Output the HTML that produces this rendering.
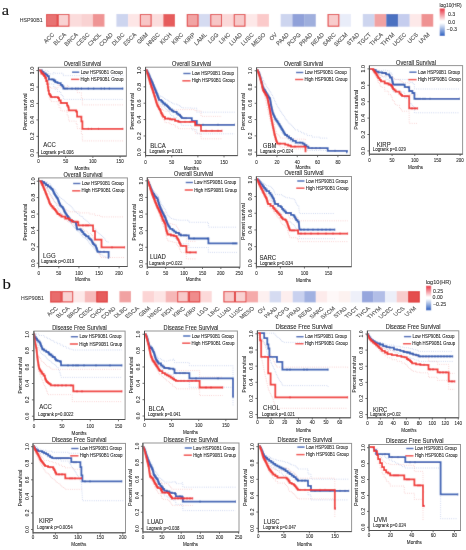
<!DOCTYPE html><html><head><meta charset="utf-8"><style>html,body{margin:0;padding:0;background:#fff;}svg{display:block;}</style></head><body>
<svg width="466" height="550" viewBox="0 0 466 550">
<defs><filter id="soft" x="0" y="0" width="466" height="550" filterUnits="userSpaceOnUse"><feConvolveMatrix order="3" kernelMatrix="0.02 0.065 0.02 0.065 0.66 0.065 0.02 0.065 0.02" divisor="1" edgeMode="duplicate" preserveAlpha="false"/></filter></defs>
<rect width="466" height="550" fill="#fff"/>
<g filter="url(#soft)">
<rect width="466" height="550" fill="#fff"/>
<rect x="46" y="14" width="11.78" height="12.7" fill="#e87272"/>
<rect x="57.73" y="14" width="11.78" height="12.7" fill="#f9d2d2"/>
<rect x="69.47" y="14" width="11.78" height="12.7" fill="#fbdcdc"/>
<rect x="81.2" y="14" width="11.78" height="12.7" fill="#f9d2d2"/>
<rect x="92.93" y="14" width="11.78" height="12.7" fill="#ef9494"/>
<rect x="104.67" y="14" width="11.78" height="12.7" fill="#ffffff"/>
<rect x="116.4" y="14" width="11.78" height="12.7" fill="#cdd5ef"/>
<rect x="128.13" y="14" width="11.78" height="12.7" fill="#fde6e6"/>
<rect x="139.87" y="14" width="11.78" height="12.7" fill="#f8c6c6"/>
<rect x="151.6" y="14" width="11.78" height="12.7" fill="#fbdddd"/>
<rect x="163.33" y="14" width="11.78" height="12.7" fill="#e65c5c"/>
<rect x="175.07" y="14" width="11.78" height="12.7" fill="#ffffff"/>
<rect x="186.8" y="14" width="11.78" height="12.7" fill="#f1a4a4"/>
<rect x="198.53" y="14" width="11.78" height="12.7" fill="#d5dbf1"/>
<rect x="210.27" y="14" width="11.78" height="12.7" fill="#f7c6c6"/>
<rect x="222" y="14" width="11.78" height="12.7" fill="#fbd9d9"/>
<rect x="233.73" y="14" width="11.78" height="12.7" fill="#f7caca"/>
<rect x="245.47" y="14" width="11.78" height="12.7" fill="#fde8e8"/>
<rect x="257.2" y="14" width="11.78" height="12.7" fill="#fbcaca"/>
<rect x="268.93" y="14" width="11.78" height="12.7" fill="#ffffff"/>
<rect x="280.67" y="14" width="11.78" height="12.7" fill="#cdd5ef"/>
<rect x="292.4" y="14" width="11.78" height="12.7" fill="#90a1d9"/>
<rect x="304.13" y="14" width="11.78" height="12.7" fill="#9fafdd"/>
<rect x="315.87" y="14" width="11.78" height="12.7" fill="#ffffff"/>
<rect x="327.6" y="14" width="11.78" height="12.7" fill="#f8cccc"/>
<rect x="339.33" y="14" width="11.78" height="12.7" fill="#e9edf9"/>
<rect x="351.07" y="14" width="11.78" height="12.7" fill="#ffffff"/>
<rect x="362.8" y="14" width="11.78" height="12.7" fill="#cdd5ef"/>
<rect x="374.53" y="14" width="11.78" height="12.7" fill="#f1a2a2"/>
<rect x="386.27" y="14" width="11.78" height="12.7" fill="#4b71c1"/>
<rect x="398" y="14" width="11.78" height="12.7" fill="#c5cdee"/>
<rect x="409.73" y="14" width="11.78" height="12.7" fill="#fde9e9"/>
<rect x="421.47" y="14" width="11.78" height="12.7" fill="#ef9292"/>
<rect x="46.5" y="14.5" width="10.73" height="11.7" fill="none" stroke="#e03a3a" stroke-width="1"/>
<rect x="58.23" y="14.5" width="10.73" height="11.7" fill="none" stroke="#e03a3a" stroke-width="1"/>
<rect x="140.37" y="14.5" width="10.73" height="11.7" fill="none" stroke="#e03a3a" stroke-width="1"/>
<rect x="187.3" y="14.5" width="10.73" height="11.7" fill="none" stroke="#e03a3a" stroke-width="1"/>
<rect x="210.77" y="14.5" width="10.73" height="11.7" fill="none" stroke="#e03a3a" stroke-width="1"/>
<rect x="234.23" y="14.5" width="10.73" height="11.7" fill="none" stroke="#e03a3a" stroke-width="1"/>
<rect x="328.1" y="14.5" width="10.73" height="11.7" fill="none" stroke="#e03a3a" stroke-width="1"/>
<defs><linearGradient id="cba" x1="0" y1="0" x2="0" y2="1">
<stop offset="0" stop-color="#e83040"/><stop offset="0.46" stop-color="#ffffff"/><stop offset="0.53" stop-color="#ffffff"/><stop offset="1" stop-color="#2a5fc0"/>
</linearGradient></defs>
<rect x="439.7" y="8.5" width="5.1" height="27.4" fill="url(#cba)"/>
<rect x="50.1" y="291.1" width="11.6" height="11.3" fill="#e86c6c"/>
<rect x="61.65" y="291.1" width="11.6" height="11.3" fill="#f9d2d2"/>
<rect x="73.21" y="291.1" width="11.6" height="11.3" fill="#fde9e9"/>
<rect x="84.76" y="291.1" width="11.6" height="11.3" fill="#f6baba"/>
<rect x="96.31" y="291.1" width="11.6" height="11.3" fill="#e65c5c"/>
<rect x="107.87" y="291.1" width="11.6" height="11.3" fill="#ffffff"/>
<rect x="119.42" y="291.1" width="11.6" height="11.3" fill="#f1a2a2"/>
<rect x="130.97" y="291.1" width="11.6" height="11.3" fill="#ffffff"/>
<rect x="142.53" y="291.1" width="11.6" height="11.3" fill="#fcd5d5"/>
<rect x="154.08" y="291.1" width="11.6" height="11.3" fill="#fde5e5"/>
<rect x="165.63" y="291.1" width="11.6" height="11.3" fill="#f6b7b7"/>
<rect x="177.18" y="291.1" width="11.6" height="11.3" fill="#f8caca"/>
<rect x="188.74" y="291.1" width="11.6" height="11.3" fill="#ef8c8c"/>
<rect x="200.29" y="291.1" width="11.6" height="11.3" fill="#fcd9d9"/>
<rect x="211.84" y="291.1" width="11.6" height="11.3" fill="#ffffff"/>
<rect x="223.4" y="291.1" width="11.6" height="11.3" fill="#f8cccc"/>
<rect x="234.95" y="291.1" width="11.6" height="11.3" fill="#f9d2d2"/>
<rect x="246.5" y="291.1" width="11.6" height="11.3" fill="#f5aaaa"/>
<rect x="258.06" y="291.1" width="11.6" height="11.3" fill="#fdf0f0"/>
<rect x="269.61" y="291.1" width="11.6" height="11.3" fill="#d5dbf1"/>
<rect x="281.16" y="291.1" width="11.6" height="11.3" fill="#fdeeee"/>
<rect x="292.72" y="291.1" width="11.6" height="11.3" fill="#c9d1ef"/>
<rect x="304.27" y="291.1" width="11.6" height="11.3" fill="#a1b1e1"/>
<rect x="315.82" y="291.1" width="11.6" height="11.3" fill="#fdebeb"/>
<rect x="327.38" y="291.1" width="11.6" height="11.3" fill="#fef8f8"/>
<rect x="338.93" y="291.1" width="11.6" height="11.3" fill="#fdf2f0"/>
<rect x="350.48" y="291.1" width="11.6" height="11.3" fill="#eef0f9"/>
<rect x="362.03" y="291.1" width="11.6" height="11.3" fill="#96a6dd"/>
<rect x="373.59" y="291.1" width="11.6" height="11.3" fill="#b2bee7"/>
<rect x="385.14" y="291.1" width="11.6" height="11.3" fill="#eceff9"/>
<rect x="396.69" y="291.1" width="11.6" height="11.3" fill="#f8cccc"/>
<rect x="408.25" y="291.1" width="11.6" height="11.3" fill="#e44e4e"/>
<rect x="50.6" y="291.6" width="10.55" height="10.3" fill="none" stroke="#e03a3a" stroke-width="1"/>
<rect x="62.15" y="291.6" width="10.55" height="10.3" fill="none" stroke="#e03a3a" stroke-width="1"/>
<rect x="96.81" y="291.6" width="10.55" height="10.3" fill="none" stroke="#e03a3a" stroke-width="1"/>
<rect x="177.68" y="291.6" width="10.55" height="10.3" fill="none" stroke="#e03a3a" stroke-width="1"/>
<rect x="189.24" y="291.6" width="10.55" height="10.3" fill="none" stroke="#e03a3a" stroke-width="1"/>
<rect x="223.9" y="291.6" width="10.55" height="10.3" fill="none" stroke="#e03a3a" stroke-width="1"/>
<rect x="235.45" y="291.6" width="10.55" height="10.3" fill="none" stroke="#e03a3a" stroke-width="1"/>
<rect x="408.75" y="291.6" width="10.55" height="10.3" fill="none" stroke="#e03a3a" stroke-width="1"/>
<defs><linearGradient id="cbb" x1="0" y1="0" x2="0" y2="1">
<stop offset="0" stop-color="#e83040"/><stop offset="0.46" stop-color="#ffffff"/><stop offset="0.53" stop-color="#ffffff"/><stop offset="1" stop-color="#2a5fc0"/>
</linearGradient></defs>
<rect x="426" y="285.8" width="5.2" height="24.5" fill="url(#cbb)"/>
<path d="M38.4 70.59H41.9V70.59H43.5V70.65H45.7V70.81H47.3V71.58H48.9V73.95H53.7V72.56H55.3V73.33H57.5V73.29H60.7V73.23H62.3V74H63.4V75.63H123.2V75.4" fill="none" stroke="#9cb0e2" stroke-width="0.7" stroke-dasharray="0.7 1.5"/>
<path d="M38.4 70.59H41.9V73.41H43.5V75.51H45.7V77.76H47.3V80.05H48.9V83.94H53.7V87.12H55.3V89.41H57.5V91.46H60.7V94.44H62.3V96.73H63.4V99.41H123.2V99.6" fill="none" stroke="#9cb0e2" stroke-width="0.7" stroke-dasharray="0.7 1.5"/>
<path d="M38.4 70.59H40.8V70.59H41.4V71.38H43V71.35H44V72.24H45.1V73.06H46.2V75.48H47.3V77.9H47.8V80.85H48.3V83.7H48.9V86.47H49.9V87.36H51V88.18H58V84.33H59.1V85.65H60.7V87.22H67.1V85.39H68.2V86.22H68.7V88.96H76.2V87.6H77.1V92.6H81.4V97.4H82.4V104.9H123.2V104.9" fill="none" stroke="#f3a6a6" stroke-width="0.7" stroke-dasharray="0.7 1.5"/>
<path d="M38.4 70.59H40.8V72.75H41.4V74.56H43V76.23H44V78.18H45.1V80.17H46.2V83.76H47.3V87.35H47.8V90.83H48.3V94.2H48.9V97.61H49.9V99.57H51V101.56H58V105.13H59.1V107.62H60.7V110.89H67.1V115.85H68.2V117.84H68.7V121.12H76.2V123.6H77.1V128.6H81.4V133.4H82.4V140.9H123.2V140.9" fill="none" stroke="#f3a6a6" stroke-width="0.7" stroke-dasharray="0.7 1.5"/>
<line x1="72.04" y1="72.2" x2="79.24" y2="72.2" stroke="#2f5cb4" stroke-width="1.4"/>
<line x1="71.04" y1="79.4" x2="79.24" y2="79.4" stroke="#f0302c" stroke-width="1.4"/>
<path d="M38.4 70.3H41.9V71.9H43.5V73.3H45.7V74.6H47.3V76.2H48.9V79.4H53.7V80.5H55.3V82.1H57.5V83.2H60.7V84.8H62.3V86.4H63.4V88.6H123.2V88.6" fill="none" stroke="#2f5cb4" stroke-width="1.8" stroke-linejoin="miter"/>
<path d="M52 78.35V80.45" stroke="#2450a8" stroke-width="0.9"/>
<path d="M53.7 79.45V81.55" stroke="#2450a8" stroke-width="0.9"/>
<path d="M55.3 81.05V83.15" stroke="#2450a8" stroke-width="0.9"/>
<path d="M65 87.55V89.65" stroke="#2450a8" stroke-width="0.9"/>
<path d="M67.1 87.55V89.65" stroke="#2450a8" stroke-width="0.9"/>
<path d="M72 87.55V89.65" stroke="#2450a8" stroke-width="0.9"/>
<path d="M75.7 87.55V89.65" stroke="#2450a8" stroke-width="0.9"/>
<path d="M78.1 87.55V89.65" stroke="#2450a8" stroke-width="0.9"/>
<path d="M81.4 87.55V89.65" stroke="#2450a8" stroke-width="0.9"/>
<path d="M88.3 87.55V89.65" stroke="#2450a8" stroke-width="0.9"/>
<path d="M93.7 87.55V89.65" stroke="#2450a8" stroke-width="0.9"/>
<path d="M101.2 87.55V89.65" stroke="#2450a8" stroke-width="0.9"/>
<path d="M104.4 87.55V89.65" stroke="#2450a8" stroke-width="0.9"/>
<path d="M109.3 87.55V89.65" stroke="#2450a8" stroke-width="0.9"/>
<path d="M122.7 87.55V89.65" stroke="#2450a8" stroke-width="0.9"/>
<path d="M38.4 70.3H40.8V71.9H41.4V73.5H43V74.6H44V76.2H45.1V77.8H46.2V81H47.3V84.2H47.8V87.5H48.3V90.7H48.9V93.9H49.9V95.5H51V97.1H58V98.2H59.1V100.3H60.7V103H67.1V105.7H68.2V107.3H68.7V110.4H76.2V111.6H77.1V116.6H81.4V121.4H82.4V128.9H123.2V128.9" fill="none" stroke="#f0302c" stroke-width="1.8" stroke-linejoin="miter"/>
<path d="M52 96.05V98.15" stroke="#e8182a" stroke-width="0.9"/>
<path d="M55 96.05V98.15" stroke="#e8182a" stroke-width="0.9"/>
<path d="M88.3 127.85V129.95" stroke="#e8182a" stroke-width="0.9"/>
<path d="M91.5 127.85V129.95" stroke="#e8182a" stroke-width="0.9"/>
<path d="M98.5 127.85V129.95" stroke="#e8182a" stroke-width="0.9"/>
<path d="M122.7 127.85V129.95" stroke="#e8182a" stroke-width="0.9"/>
<path d="M145.9 70.47H146.7V70.97H147.5V72.14H148.3V73.32H148.83V74.39H149.35V75.47H149.88V76.54H150.4V77.62H150.95V78.66H151.5V79.71H152.05V80.75H152.6V81.79H153.12V83H153.65V84.2H154.17V85.4H154.7V86.6H155.25V87.77H155.8V88.93H156.35V90.1H156.9V91.27H157.43V92.47H157.95V93.67H158.47V94.87H159V96.07H161.2V96.55H162.25V97.55H163.3V98.55H165V99.32H166.7V100.08H167.8V100.9H168.9V101.72H170V102.55H171.7V103.31H173.4V104.08H176.7V104.84H178.4V105.61H180.1V106.37H180.95V107.13H181.8V107.89H191.8V108.2H196.8V112.2H234.5V112.2" fill="none" stroke="#9cb0e2" stroke-width="0.7" stroke-dasharray="0.7 1.5"/>
<path d="M145.9 70.47H146.7V71.36H147.5V72.93H148.3V74.49H148.83V75.82H149.35V77.15H149.88V78.48H150.4V79.81H150.95V81.13H151.5V82.44H152.05V83.75H152.6V85.06H153.12V86.52H153.65V87.97H154.17V89.43H154.7V90.89H155.25V92.32H155.8V93.76H156.35V95.2H156.9V96.63H157.43V98.09H157.95V99.55H158.47V101H159V102.46H161.2V104.01H162.25V105.52H163.3V107.03H165V108.63H166.7V110.23H167.8V111.58H168.9V112.94H170V114.3H171.7V115.89H173.4V117.49H176.7V119.86H178.4V121.45H180.1V123.05H180.95V124.22H181.8V125.39H191.8V129.8H196.8V133.8H234.5V133.8" fill="none" stroke="#9cb0e2" stroke-width="0.7" stroke-dasharray="0.7 1.5"/>
<path d="M145.9 70.47H146.38V71H146.86V72.2H147.34V73.39H147.82V74.59H148.3V75.79H148.65V76.91H149V78.03H149.35V79.14H149.7V80.26H150.05V81.38H150.4V82.49H150.84V83.63H151.28V84.76H151.72V85.89H152.16V87.03H152.6V88.16H153.02V89.28H153.44V90.4H153.86V91.52H154.28V92.64H154.7V93.77H155.07V94.88H155.43V95.99H155.8V97.1H156.17V98.21H156.53V99.32H156.9V100.43H157.6V101.6H158.3V102.77H159V103.94H160V104.86H160.57V106.04H161.13V107.23H161.7V108.41H162.5V109.36H163.3V110.31H165V111.36H170V110.27H175.1V109.73H178.4V109.58H195.1V110.9H201V116.4H221.9V116.4" fill="none" stroke="#f3a6a6" stroke-width="0.7" stroke-dasharray="0.7 1.5"/>
<path d="M145.9 70.47H146.38V71.28H146.86V72.76H147.34V74.24H147.82V75.72H148.3V77.21H148.65V78.53H149V79.85H149.35V81.18H149.7V82.5H150.05V83.82H150.4V85.15H150.84V86.54H151.28V87.93H151.72V89.33H152.16V90.72H152.6V92.11H153.02V93.48H153.44V94.85H153.86V96.22H154.28V97.58H154.7V98.95H155.07V100.28H155.43V101.61H155.8V102.93H156.17V104.26H156.53V105.59H156.9V106.92H157.6V108.5H158.3V110.08H159V111.66H160V113.17H160.57V114.69H161.13V116.21H161.7V117.73H162.5V119.14H163.3V120.56H165V122.62H170V124.47H175.1V126.95H178.4V128.74H195.1V133.3H201V138.8H221.9V138.8" fill="none" stroke="#f3a6a6" stroke-width="0.7" stroke-dasharray="0.7 1.5"/>
<line x1="183.34" y1="73.5" x2="190.54" y2="73.5" stroke="#2f5cb4" stroke-width="1.4"/>
<line x1="182.34" y1="80.8" x2="190.54" y2="80.8" stroke="#f0302c" stroke-width="1.4"/>
<path d="M145.9 69.8H146.7V71.2H147.5V72.6H148.3V74H148.83V75.22H149.35V76.45H149.88V77.68H150.4V78.9H150.95V80.1H151.5V81.3H152.05V82.5H152.6V83.7H153.12V85.05H153.65V86.4H154.17V87.75H154.7V89.1H155.25V90.42H155.8V91.75H156.35V93.08H156.9V94.4H157.43V95.75H157.95V97.1H158.47V98.45H159V99.8H161.2V100.9H162.25V102.2H163.3V103.5H165V104.75H166.7V106H167.8V107.13H168.9V108.27H170V109.4H171.7V110.65H173.4V111.9H176.7V113.6H178.4V114.85H180.1V116.1H180.95V117.1H181.8V118.1H191.8V120.8H196.8V124.8H234.5V124.8" fill="none" stroke="#2f5cb4" stroke-width="1.8" stroke-linejoin="miter"/>
<path d="M168 106.08V108.18" stroke="#2450a8" stroke-width="0.9"/>
<path d="M172 109.6V111.7" stroke="#2450a8" stroke-width="0.9"/>
<path d="M176 110.85V112.95" stroke="#2450a8" stroke-width="0.9"/>
<path d="M180 113.8V115.9" stroke="#2450a8" stroke-width="0.9"/>
<path d="M184 117.05V119.15" stroke="#2450a8" stroke-width="0.9"/>
<path d="M186 117.05V119.15" stroke="#2450a8" stroke-width="0.9"/>
<path d="M199 123.75V125.85" stroke="#2450a8" stroke-width="0.9"/>
<path d="M203 123.75V125.85" stroke="#2450a8" stroke-width="0.9"/>
<path d="M218 123.75V125.85" stroke="#2450a8" stroke-width="0.9"/>
<path d="M234.5 123.75V125.85" stroke="#2450a8" stroke-width="0.9"/>
<path d="M145.9 69.8H146.38V71.18H146.86V72.56H147.34V73.94H147.82V75.32H148.3V76.7H148.65V77.95H149V79.2H149.35V80.45H149.7V81.7H150.05V82.95H150.4V84.2H150.84V85.5H151.28V86.8H151.72V88.1H152.16V89.4H152.6V90.7H153.02V91.98H153.44V93.26H153.86V94.54H154.28V95.82H154.7V97.1H155.07V98.35H155.43V99.6H155.8V100.85H156.17V102.1H156.53V103.35H156.9V104.6H157.6V106.03H158.3V107.47H159V108.9H160V110.2H160.57V111.6H161.13V113H161.7V114.4H162.5V115.65H163.3V116.9H165V118.6H170V119.4H175.1V120.8H178.4V121.9H195.1V125.3H201V130.8H221.9V130.8" fill="none" stroke="#f0302c" stroke-width="1.8" stroke-linejoin="miter"/>
<path d="M165 117.55V119.65" stroke="#e8182a" stroke-width="0.9"/>
<path d="M168 117.55V119.65" stroke="#e8182a" stroke-width="0.9"/>
<path d="M172 118.35V120.45" stroke="#e8182a" stroke-width="0.9"/>
<path d="M180 120.85V122.95" stroke="#e8182a" stroke-width="0.9"/>
<path d="M185 120.85V122.95" stroke="#e8182a" stroke-width="0.9"/>
<path d="M190 120.85V122.95" stroke="#e8182a" stroke-width="0.9"/>
<path d="M206 129.75V131.85" stroke="#e8182a" stroke-width="0.9"/>
<path d="M212 129.75V131.85" stroke="#e8182a" stroke-width="0.9"/>
<path d="M218 129.75V131.85" stroke="#e8182a" stroke-width="0.9"/>
<path d="M221.9 129.75V131.85" stroke="#e8182a" stroke-width="0.9"/>
<path d="M258.1 70.1H258.71V71.34H259.32V72.58H259.93V73.82H260.54V75.06H261.15V76.3H261.76V77.54H262.37V78.78H262.98V80.02H263.59V81.26H264.2V82.5H264.97V83.79H265.75V85.08H266.52V86.36H267.3V87.65H268.07V88.94H268.85V90.22H269.62V91.51H270.4V92.8H271.09V94.17H271.78V95.53H272.47V96.9H273.16V98.27H273.84V99.63H274.53V101H275.22V102.37H275.91V103.73H276.6V105.1H277.38V106.39H278.15V107.67H278.93V108.96H279.7V110.25H280.48V111.54H281.25V112.83H282.03V114.11H282.8V115.4H283.83V116.78H284.87V118.17H285.9V119.55H286.93V120.93H287.97V122.32H289V123.7H290.22V124.94H291.44V126.18H292.66V127.42H293.88V128.66H295.1V129.9H297.87V131.27H300.63V132.63H303.4V134H307.5V135.55H311.6V137.1H319.35V138.1H327.1V139.1" fill="none" stroke="#9cb0e2" stroke-width="0.7" stroke-dasharray="0.7 1.5"/>
<path d="M258.1 70.1H258.48V71.39H258.86V72.67H259.24V73.96H259.62V75.25H260.01V76.54H260.39V77.83H260.77V79.11H261.15V80.4H261.53V81.69H261.91V82.97H262.29V84.26H262.68V85.55H263.06V86.84H263.44V88.12H263.82V89.41H264.2V90.7H264.64V92.03H265.09V93.36H265.53V94.69H265.97V96.01H266.41V97.34H266.86V98.67H267.3V100H267.74V101.33H268.19V102.66H268.63V103.99H269.07V105.31H269.51V106.64H269.96V107.97H270.4V109.3H270.96V110.61H271.53V111.92H272.09V113.23H272.65V114.54H273.22V115.85H273.78V117.15H274.35V118.46H274.91V119.77H275.47V121.08H276.04V122.39H276.6V123.7H277.38V124.99H278.15V126.28H278.93V127.56H279.7V128.85H280.48V130.14H281.25V131.43H282.03V132.71H282.8V134H284.17V135.37H285.53V136.73H286.9V138.1H288.27V139.47H289.63V140.83H291V142.2H294.1V143.5H297.2V144.8H300.3V146.1H303.4V147.4H305.45V148.95H307.5V150.5H346.6V150.5" fill="none" stroke="#9cb0e2" stroke-width="0.7" stroke-dasharray="0.7 1.5"/>
<path d="M258.1 70.1H258.57V71.37H259.04V72.64H259.51V73.91H259.98V75.18H260.45V76.45H260.92V77.72H261.38V78.98H261.85V80.25H262.32V81.52H262.79V82.79H263.26V84.06H263.73V85.33H264.2V86.6H264.58V87.91H264.96V89.22H265.35V90.53H265.73V91.84H266.11V93.15H266.49V94.45H266.87V95.76H267.25V97.07H267.64V98.38H268.02V99.69H268.4V101H268.72V102.27H269.03V103.54H269.35V104.81H269.66V106.08H269.98V107.35H270.29V108.62H270.61V109.88H270.92V111.15H271.24V112.42H271.55V113.69H271.87V114.96H272.18V116.23H272.5V117.5H272.82V118.77H273.13V120.04H273.45V121.31H273.76V122.58H274.08V123.85H274.39V125.12H274.71V126.38H275.02V127.65H275.34V128.92H275.65V130.19H275.97V131.46H276.28V132.73H276.6V134H277.97V135.37H279.33V136.73H280.7V138.1H293.05V139.15H305.4V140.2" fill="none" stroke="#f3a6a6" stroke-width="0.7" stroke-dasharray="0.7 1.5"/>
<path d="M258.1 70.1H258.42V71.4H258.74V72.7H259.06V74H259.38V75.3H259.71V76.6H260.03V77.9H260.35V79.2H260.67V80.5H260.99V81.8H261.31V83.1H261.63V84.4H261.95V85.7H262.27V87H262.59V88.3H262.92V89.6H263.24V90.9H263.56V92.2H263.88V93.5H264.2V94.8H264.5V96.13H264.8V97.46H265.1V98.79H265.4V100.11H265.7V101.44H266V102.77H266.3V104.1H266.6V105.43H266.9V106.76H267.2V108.09H267.5V109.41H267.8V110.74H268.1V112.07H268.4V113.4H268.72V114.67H269.03V115.94H269.35V117.21H269.66V118.48H269.98V119.75H270.29V121.02H270.61V122.28H270.92V123.55H271.24V124.82H271.55V126.09H271.87V127.36H272.18V128.63H272.5V129.9H272.84V131.27H273.19V132.63H273.53V134H273.88V135.37H274.22V136.73H274.57V138.1H274.91V139.47H275.26V140.83H275.6V142.2H276.88V143.5H278.15V144.8H279.43V146.1H280.7V147.4H293.05V148.95H305.4V150.5" fill="none" stroke="#f3a6a6" stroke-width="0.7" stroke-dasharray="0.7 1.5"/>
<line x1="296.04" y1="72.5" x2="303.24" y2="72.5" stroke="#2f5cb4" stroke-width="1.4"/>
<line x1="295.04" y1="79.5" x2="303.24" y2="79.5" stroke="#f0302c" stroke-width="1.4"/>
<path d="M256.9 69.8H257.5V71H258.1V72.2H258.7V73.4H259.3V74.6H259.65V75.85H260V77.1H260.35V78.35H260.7V79.6H261.05V80.85H261.4V82.1H261.72V83.38H262.04V84.66H262.36V85.94H262.68V87.22H263V88.5H263.85V89.6H264.7V90.7H265.4V91.93H266.1V93.17H266.8V94.4H267.6V95.75H268.4V97.1H269.2V98.2H270V99.3H270.24V100.7H270.48V102.1H270.72V103.5H270.96V104.9H271.2V106.3H271.47V107.5H271.73V108.7H272V109.9H272.27V111.1H272.53V112.3H272.8V113.5H273.34V114.7H273.88V115.9H274.42V117.1H274.96V118.3H275.5V119.5H276.48V120.95H277.45V122.4H278.42V123.85H279.4V125.3H280.12V126.5H280.85V127.7H281.57V128.9H282.3V130.1H283.02V131.32H283.75V132.55H284.48V133.78H285.2V135H287.1V136.45H289V137.9H290.95V139.35H292.9V140.8H295.8V142.7H302.6V143.7H304.5V145.15H306.4V146.6H308.4V148.1H327.7V150.8H347V152.3H347.3V152.3" fill="none" stroke="#2f5cb4" stroke-width="1.8" stroke-linejoin="miter"/>
<path d="M300 141.65V143.75" stroke="#2450a8" stroke-width="0.9"/>
<path d="M312 147.05V149.15" stroke="#2450a8" stroke-width="0.9"/>
<path d="M316 147.05V149.15" stroke="#2450a8" stroke-width="0.9"/>
<path d="M320 147.05V149.15" stroke="#2450a8" stroke-width="0.9"/>
<path d="M335 149.75V151.85" stroke="#2450a8" stroke-width="0.9"/>
<path d="M256.9 69.8H257.38V70.98H257.86V72.16H258.34V73.34H258.82V74.52H259.3V75.7H259.65V76.95H260V78.2H260.35V79.45H260.7V80.7H261.05V81.95H261.4V83.2H261.67V84.45H261.93V85.7H262.2V86.95H262.47V88.2H262.73V89.45H263V90.7H263.9V92.13H264.8V93.57H265.7V95H266.5V96.6H267.3V98.2H267.57V99.55H267.85V100.9H268.12V102.25H268.4V103.6H268.67V104.92H268.95V106.25H269.23V107.58H269.5V108.9H269.74V110.26H269.98V111.62H270.22V112.98H270.46V114.34H270.7V115.7H270.97V117.07H271.24V118.44H271.51V119.81H271.79V121.19H272.06V122.56H272.33V123.93H272.6V125.3H272.89V126.69H273.17V128.07H273.46V129.46H273.74V130.84H274.03V132.23H274.31V133.61H274.6V135H274.98V136.34H275.36V137.68H275.74V139.02H276.12V140.36H276.5V141.7H276.95V142.7H277.4V143.7H285.2V144.6H288.1V145.6H291V146.6H305.5V147.5H305.5V152.3" fill="none" stroke="#f0302c" stroke-width="1.8" stroke-linejoin="miter"/>
<path d="M280 142.65V144.75" stroke="#e8182a" stroke-width="0.9"/>
<path d="M290 144.55V146.65" stroke="#e8182a" stroke-width="0.9"/>
<path d="M295 145.55V147.65" stroke="#e8182a" stroke-width="0.9"/>
<path d="M369.5 68.9H373.2V68.99H375.7V70.35H378.3V70.48H382.2V70.23H386V70.7H389.2V71.31H389.9V73.05H391.8V74.54H392.12V75.77H392.45V77H392.78V78.23H393.1V79.45H404.7V79.53H409.2V82.34H411.1V81.93H412.4V83.65H414.4V89.01H459.4V89" fill="none" stroke="#9cb0e2" stroke-width="0.7" stroke-dasharray="0.7 1.5"/>
<path d="M369.5 68.9H373.2V70.95H375.7V73.63H378.3V75.14H382.2V76.96H386V79.44H389.2V81.74H389.9V83.85H391.8V86.35H392.12V87.75H392.45V89.15H392.78V90.55H393.1V91.95H404.7V98.16H409.2V103.36H411.1V103.96H412.4V106.36H414.4V112.78H459.4V112.8" fill="none" stroke="#9cb0e2" stroke-width="0.7" stroke-dasharray="0.7 1.5"/>
<path d="M369.5 68.9H373.2V68.88H374.03V69.38H374.87V70.09H375.7V70.8H376.57V71.89H377.43V72.99H378.3V74.08H379.6V75.08H380.9V76.07H384.7V76.19H388.6V75.67H391.2V75.75H392.15V76.9H393.1V78.06H394.4V78.75H395.7V79.44H399.5V80.1H400.8V81.4H402.1V82.7H409.2V94.9H417.6V94.9" fill="none" stroke="#f3a6a6" stroke-width="0.7" stroke-dasharray="0.7 1.5"/>
<path d="M369.5 68.9H373.2V72.32H374.03V73.86H374.87V75.39H375.7V76.92H376.57V78.87H377.43V80.82H378.3V82.77H379.6V85.05H380.9V87.33H384.7V91.2H388.6V94.53H391.2V97.18H392.15V99.27H393.1V101.37H394.4V103.34H395.7V105.32H399.5V108.6H400.8V109.9H402.1V111.2H409.2V123.4H417.6V123.4" fill="none" stroke="#f3a6a6" stroke-width="0.7" stroke-dasharray="0.7 1.5"/>
<line x1="409.34" y1="72.2" x2="416.54" y2="72.2" stroke="#2f5cb4" stroke-width="1.4"/>
<line x1="408.34" y1="79.6" x2="416.54" y2="79.6" stroke="#f0302c" stroke-width="1.4"/>
<path d="M369.5 68.9H373.2V69.8H375.7V71.7H378.3V72.4H382.2V73H386V74.3H389.2V75.6H389.9V77.5H391.8V79.4H392.12V80.7H392.45V82H392.78V83.3H393.1V84.6H404.7V87.2H409.2V91H411.1V91H412.4V93H414.4V98.8H459.4V98.8" fill="none" stroke="#2f5cb4" stroke-width="1.8" stroke-linejoin="miter"/>
<path d="M383 71.95V74.05" stroke="#2450a8" stroke-width="0.9"/>
<path d="M385 71.95V74.05" stroke="#2450a8" stroke-width="0.9"/>
<path d="M395 83.55V85.65" stroke="#2450a8" stroke-width="0.9"/>
<path d="M397 83.55V85.65" stroke="#2450a8" stroke-width="0.9"/>
<path d="M399 83.55V85.65" stroke="#2450a8" stroke-width="0.9"/>
<path d="M401 83.55V85.65" stroke="#2450a8" stroke-width="0.9"/>
<path d="M403 83.55V85.65" stroke="#2450a8" stroke-width="0.9"/>
<path d="M408 86.15V88.25" stroke="#2450a8" stroke-width="0.9"/>
<path d="M416 97.75V99.85" stroke="#2450a8" stroke-width="0.9"/>
<path d="M418 97.75V99.85" stroke="#2450a8" stroke-width="0.9"/>
<path d="M420 97.75V99.85" stroke="#2450a8" stroke-width="0.9"/>
<path d="M423 97.75V99.85" stroke="#2450a8" stroke-width="0.9"/>
<path d="M425 97.75V99.85" stroke="#2450a8" stroke-width="0.9"/>
<path d="M430 97.75V99.85" stroke="#2450a8" stroke-width="0.9"/>
<path d="M459.4 97.75V99.85" stroke="#2450a8" stroke-width="0.9"/>
<path d="M369.5 68.9H373.2V70.4H374.03V71.5H374.87V72.6H375.7V73.7H376.57V75.2H377.43V76.7H378.3V78.2H379.6V79.8H380.9V81.4H384.7V83.3H388.6V84.6H391.2V85.9H392.15V87.5H393.1V89.1H394.4V90.4H395.7V91.7H399.5V93.6H400.8V94.9H402.1V96.2H409.2V108.4H417.6V108.4" fill="none" stroke="#f0302c" stroke-width="1.8" stroke-linejoin="miter"/>
<path d="M387 82.25V84.35" stroke="#e8182a" stroke-width="0.9"/>
<path d="M390 83.55V85.65" stroke="#e8182a" stroke-width="0.9"/>
<path d="M405 95.15V97.25" stroke="#e8182a" stroke-width="0.9"/>
<path d="M407 95.15V97.25" stroke="#e8182a" stroke-width="0.9"/>
<path d="M412 107.35V109.45" stroke="#e8182a" stroke-width="0.9"/>
<path d="M415 107.35V109.45" stroke="#e8182a" stroke-width="0.9"/>
<path d="M417.6 107.35V109.45" stroke="#e8182a" stroke-width="0.9"/>
<path d="M38.9 181.2H45V182H47.5V183.5H50V185H51.25V186.25H52.5V187.5H53.75V188.75H55V190H55.83V191.32H56.67V192.63H57.5V193.95H58.33V195.27H59.17V196.58H60V197.9H61.47V199.12H62.93V200.33H64.4V201.55H65.87V202.77H67.33V203.98H68.8V205.2H70.04V206.46H71.29V207.71H72.53V208.97H73.77V210.23H75.01V211.49H76.26V212.74H77.5V214H79.33V215.45H81.15V216.9H82.97V218.35H84.8V219.8H86.02V221.02H87.23V222.23H88.45V223.45H89.67V224.67H90.88V225.88H92.1V227.1H93.55V228.55H95V230H96.45V231.45H97.9V232.9H99.08V234.08H100.26V235.26H101.44V236.44H102.62V237.62H103.8V238.8H105.27V240.27H106.73V241.73H108.2V243.2" fill="none" stroke="#9cb0e2" stroke-width="0.7" stroke-dasharray="0.7 1.5"/>
<path d="M38.9 181.2H40.95V182.6H43V184H44V185.2H45V186.4H46V187.6H47V188.8H48V190H48.8V191.4H49.6V192.8H50.4V194.2H51.2V195.6H52V197H52.67V198.33H53.33V199.67H54V201H54.67V202.33H55.33V203.67H56V205H56.67V206.25H57.33V207.5H58V208.75H58.67V210H59.33V211.25H60V212.5H61.26V213.76H62.51V215.01H63.77V216.27H65.03V217.53H66.29V218.79H67.54V220.04H68.8V221.3H69.89V222.58H70.97V223.85H72.06V225.12H73.15V226.4H74.24V227.68H75.33V228.95H76.41V230.22H77.5V231.5H78.8V232.8H80.1V234.1H81.4V235.4H82.7V236.7H84V238H85.3V239.3H86.6V240.6H87.9V241.9H89.2V243.2H90.29V244.47H91.38V245.75H92.46V247.03H93.55V248.3H94.64V249.57H95.73V250.85H96.81V252.12H97.9V253.4H100.48V254.85H103.05V256.3H105.62V257.75H108.2V259.2" fill="none" stroke="#9cb0e2" stroke-width="0.7" stroke-dasharray="0.7 1.5"/>
<path d="M38.9 181.2H40.42V182.4H41.95V183.6H43.48V184.8H45V186H45.71V187.29H46.43V188.57H47.14V189.86H47.86V191.14H48.57V192.43H49.29V193.71H50V195H50.83V196.33H51.67V197.67H52.5V199H53.33V200.33H54.17V201.67H55V203H56.67V204.33H58.33V205.67H60V207H62.2V208.2H64.4V209.4H66.6V210.6H68.8V211.8H79V212.9H89.2V214H95.05V215.45H100.9V216.9H124.2V216.9" fill="none" stroke="#f3a6a6" stroke-width="0.7" stroke-dasharray="0.7 1.5"/>
<path d="M38.9 181.2H39.67V182.4H40.45V183.6H41.23V184.8H42V186H42.5V187.25H43V188.5H43.5V189.75H44V191H44.5V192.25H45V193.5H45.5V194.75H46V196H46.57V197.29H47.14V198.57H47.71V199.86H48.29V201.14H48.86V202.43H49.43V203.71H50V205H51V206.4H52V207.8H53V209.2H54V210.6H55V212H56.25V213.25H57.5V214.5H58.75V215.75H60V217H62.2V218.43H64.4V219.85H66.6V221.27H68.8V222.7H71.6V224.02H74.4V225.35H77.2V226.68H80V228H82.08V229.33H84.17V230.67H86.25V232H88.33V233.33H90.42V234.67H92.5V236H92.86V237.29H93.21V238.57H93.57V239.86H93.93V241.14H94.29V242.43H94.64V243.71H95V245H95.59V246.25H96.18V247.5H96.77V248.75H97.36V250H97.95V251.25H98.54V252.5H99.13V253.75H99.72V255H100.31V256.25H100.9V257.5H124.2V257.5" fill="none" stroke="#f3a6a6" stroke-width="0.7" stroke-dasharray="0.7 1.5"/>
<line x1="73.14" y1="183.5" x2="80.34" y2="183.5" stroke="#2f5cb4" stroke-width="1.4"/>
<line x1="72.14" y1="190.8" x2="80.34" y2="190.8" stroke="#f0302c" stroke-width="1.4"/>
<path d="M38.9 181.2H42.1V181.8H44.05V183.4H46V185H47.95V186.3H49.9V187.6H51.15V188.9H52.4V190.2H53.05V191.47H53.7V192.75H54.35V194.03H55V195.3H55.87V196.6H56.73V197.9H57.6V199.2H58.12V200.48H58.64V201.76H59.16V203.04H59.68V204.32H60.2V205.6H61.45V206.9H62.7V208.2H63.35V209.47H64V210.75H64.65V212.03H65.3V213.3H66.17V214.6H67.03V215.9H67.9V217.2H68.8V218.43H69.7V219.67H70.6V220.9H73.15V221.9H75.7V222.9H75.96V224.18H76.22V225.46H76.48V226.74H76.74V228.02H77V229.3H80.9V230.6H82.15V232.2H83.4V233.8H84.7V235.1H86V236.4H88.6V238.3H89.9V239.3H91.2V240.3H91.83V241.57H92.47V242.83H93.1V244.1H94.4V245.4H95.7V246.7H96.17V247.97H96.65V249.25H97.12V250.53H97.6V251.8H106.6V251.8H108.6V257.6H108.9V257.6" fill="none" stroke="#2f5cb4" stroke-width="1.8" stroke-linejoin="miter"/>
<path d="M48 185.25V187.35" stroke="#2450a8" stroke-width="0.9"/>
<path d="M60 203.27V205.37" stroke="#2450a8" stroke-width="0.9"/>
<path d="M70 218.62V220.72" stroke="#2450a8" stroke-width="0.9"/>
<path d="M74 220.85V222.95" stroke="#2450a8" stroke-width="0.9"/>
<path d="M80 228.25V230.35" stroke="#2450a8" stroke-width="0.9"/>
<path d="M88 235.35V237.45" stroke="#2450a8" stroke-width="0.9"/>
<path d="M100 250.75V252.85" stroke="#2450a8" stroke-width="0.9"/>
<path d="M104 250.75V252.85" stroke="#2450a8" stroke-width="0.9"/>
<path d="M108.6 256.55V258.65" stroke="#2450a8" stroke-width="0.9"/>
<path d="M38.9 181.2H40.9V182.4H41.52V183.7H42.15V185H42.77V186.3H43.4V187.6H43.92V188.88H44.44V190.16H44.96V191.44H45.48V192.72H46V194H46.52V195.3H47.04V196.6H47.56V197.9H48.08V199.2H48.6V200.5H49.03V201.77H49.47V203.03H49.9V204.3H51.15V205.9H52.4V207.5H53.7V208.8H55V210.1H55.87V211.4H56.73V212.7H57.6V214H59.55V215.3H61.5V216.6H65.3V218.5H69.2V219.8H71.9V221.6H77.7V222.2H78.3V225.4H92.5V225.4H93.1V231.2H95V239.6H100.8V239.6H101.5V247.3H124.6V247.3" fill="none" stroke="#f0302c" stroke-width="1.8" stroke-linejoin="miter"/>
<path d="M83 224.35V226.45" stroke="#e8182a" stroke-width="0.9"/>
<path d="M86 224.35V226.45" stroke="#e8182a" stroke-width="0.9"/>
<path d="M88 224.35V226.45" stroke="#e8182a" stroke-width="0.9"/>
<path d="M112 246.25V248.35" stroke="#e8182a" stroke-width="0.9"/>
<path d="M124.6 246.25V248.35" stroke="#e8182a" stroke-width="0.9"/>
<path d="M147.3 180.82H147.95V181.66H148.6V182.81H149.25V183.97H149.9V185.13H150.4V186.18H150.9V187.23H151.4V188.29H151.9V189.34H152.4V190.4H153.27V191.31H154.13V192.21H155V193.12H156.3V194.14H157.6V195.15H158.03V196.45H158.47V197.76H158.9V199.06H159.38V200.15H159.85V201.23H160.33V202.32H160.8V203.4H161.43V204.39H162.07V205.37H162.7V206.35H163.35V207.35H164V208.36H164.65V209.37H165.3V210.37H165.76V211.41H166.22V212.44H166.68V213.47H167.14V214.5H167.6V215.53H168.43V216.52H169.27V217.52H170.1V218.51H172.5V219.02H174.15V219.48H175.8V219.93H179V220.19H180.7V220.22H188.8V222.3H208.4V227.2H237V227.2" fill="none" stroke="#9cb0e2" stroke-width="0.7" stroke-dasharray="0.7 1.5"/>
<path d="M147.3 180.82H147.95V182.11H148.6V183.73H149.25V185.34H149.9V186.95H150.4V188.36H150.9V189.76H151.4V191.17H151.9V192.57H152.4V193.98H153.27V195.5H154.13V197.01H155V198.53H156.3V200.46H157.6V202.38H158.03V203.99H158.47V205.6H158.9V207.21H159.38V208.63H159.85V210.05H160.33V211.47H160.8V212.89H161.43V214.31H162.07V215.74H162.7V217.16H163.35V218.63H164V220.09H164.65V221.55H165.3V223.02H165.76V224.37H166.22V225.73H166.68V227.08H167.14V228.44H167.6V229.79H168.43V231.37H169.27V232.94H170.1V234.52H172.5V236.72H174.15V238.33H175.8V239.95H179V242.45H180.7V243.68H188.8V247.5H208.4V252.4H237V252.4" fill="none" stroke="#9cb0e2" stroke-width="0.7" stroke-dasharray="0.7 1.5"/>
<path d="M147.3 180.82H147.82V181.63H148.34V182.75H148.86V183.88H149.38V185H149.9V186.13H150.32V187.18H150.73V188.23H151.15V189.28H151.57V190.32H151.98V191.37H152.4V192.42H152.92V193.43H153.44V194.43H153.96V195.44H154.48V196.44H155V197.45H155.52V198.44H156.04V199.42H156.56V200.41H157.08V201.4H157.6V202.38H158.25V203.29H158.9V204.2H159.55V205.1H160.2V206.01H160.7V207.03H161.2V208.05H161.7V209.07H162.2V210.08H162.7V211.1H163.35V212.01H164V212.92H164.65V213.82H165.3V214.73H165.48V215.81H165.65V216.88H165.82V217.96H166V219.04H166.4V220.03H166.8V221.03H167.2V222.22H167.6V223.45H170.9V224.25H174.2V225.05H176.6V226.65H177.4V227.9H178.2V229.15H178.82V230.57H179.45V232H180.07V233.42H180.7V234.85H185.6V234.85H186.4V241.35H196.2V241.35" fill="none" stroke="#f3a6a6" stroke-width="0.7" stroke-dasharray="0.7 1.5"/>
<path d="M147.3 180.82H147.82V182.09H148.34V183.69H148.86V185.28H149.38V186.87H149.9V188.46H150.32V189.89H150.73V191.31H151.15V192.73H151.57V194.15H151.98V195.57H152.4V196.99H152.92V198.47H153.44V199.94H153.96V201.41H154.48V202.89H155V204.36H155.52V205.81H156.04V207.26H156.56V208.72H157.08V210.17H157.6V211.62H158.25V213.11H158.9V214.6H159.55V216.1H160.2V217.59H160.7V219.05H161.2V220.52H161.7V221.99H162.2V223.45H162.7V224.92H163.35V226.41H164V227.9H164.65V229.39H165.3V230.88H165.48V232.11H165.65V233.35H165.82V234.58H166V235.81H166.4V237.17H166.8V238.53H167.2V239.78H167.6V241H170.9V241.8H174.2V242.6H176.6V244.2H177.4V245.45H178.2V246.7H178.82V248.12H179.45V249.55H180.07V250.97H180.7V252.4H185.6V252.4H186.4V258.9H196.2V258.9" fill="none" stroke="#f3a6a6" stroke-width="0.7" stroke-dasharray="0.7 1.5"/>
<line x1="185.74" y1="182.5" x2="192.94" y2="182.5" stroke="#2f5cb4" stroke-width="1.4"/>
<line x1="184.74" y1="190" x2="192.94" y2="190" stroke="#f0302c" stroke-width="1.4"/>
<path d="M147.3 180.5H147.95V181.95H148.6V183.4H149.25V184.85H149.9V186.3H150.4V187.58H150.9V188.86H151.4V190.14H151.9V191.42H152.4V192.7H153.27V194H154.13V195.3H155V196.6H156.3V198.2H157.6V199.8H158.03V201.3H158.47V202.8H158.9V204.3H159.38V205.6H159.85V206.9H160.33V208.2H160.8V209.5H161.43V210.77H162.07V212.03H162.7V213.3H163.35V214.6H164V215.9H164.65V217.2H165.3V218.5H165.76V219.74H166.22V220.98H166.68V222.22H167.14V223.46H167.6V224.7H168.43V226.07H169.27V227.43H170.1V228.8H172.5V230.4H174.15V231.6H175.8V232.8H179V234.5H180.7V235.3H188.8V238.5H208.4V243.4H237V243.4" fill="none" stroke="#2f5cb4" stroke-width="1.8" stroke-linejoin="miter"/>
<path d="M176 231.75V233.85" stroke="#2450a8" stroke-width="0.9"/>
<path d="M178 231.75V233.85" stroke="#2450a8" stroke-width="0.9"/>
<path d="M181 234.25V236.35" stroke="#2450a8" stroke-width="0.9"/>
<path d="M184 234.25V236.35" stroke="#2450a8" stroke-width="0.9"/>
<path d="M186 234.25V236.35" stroke="#2450a8" stroke-width="0.9"/>
<path d="M194 237.45V239.55" stroke="#2450a8" stroke-width="0.9"/>
<path d="M208 237.45V239.55" stroke="#2450a8" stroke-width="0.9"/>
<path d="M233 242.35V244.45" stroke="#2450a8" stroke-width="0.9"/>
<path d="M235 242.35V244.45" stroke="#2450a8" stroke-width="0.9"/>
<path d="M237 242.35V244.45" stroke="#2450a8" stroke-width="0.9"/>
<path d="M147.3 180.5H147.82V181.92H148.34V183.34H148.86V184.76H149.38V186.18H149.9V187.6H150.32V188.88H150.73V190.17H151.15V191.45H151.57V192.73H151.98V194.02H152.4V195.3H152.92V196.6H153.44V197.9H153.96V199.2H154.48V200.5H155V201.8H155.52V203.08H156.04V204.36H156.56V205.64H157.08V206.92H157.6V208.2H158.25V209.47H158.9V210.75H159.55V212.03H160.2V213.3H160.7V214.6H161.2V215.9H161.7V217.2H162.2V218.5H162.7V219.8H163.35V221.08H164V222.35H164.65V223.62H165.3V224.9H165.48V226.07H165.65V227.25H165.82V228.43H166V229.6H166.4V230.82H166.8V232.05H167.2V233.28H167.6V234.5H170.9V235.3H174.2V236.1H176.6V237.7H177.4V238.95H178.2V240.2H178.82V241.62H179.45V243.05H180.07V244.47H180.7V245.9H185.6V245.9H186.4V252.4H196.2V252.4" fill="none" stroke="#f0302c" stroke-width="1.8" stroke-linejoin="miter"/>
<path d="M171 234.25V236.35" stroke="#e8182a" stroke-width="0.9"/>
<path d="M173 234.25V236.35" stroke="#e8182a" stroke-width="0.9"/>
<path d="M176 235.05V237.15" stroke="#e8182a" stroke-width="0.9"/>
<path d="M183 244.85V246.95" stroke="#e8182a" stroke-width="0.9"/>
<path d="M190 251.35V253.45" stroke="#e8182a" stroke-width="0.9"/>
<path d="M196.2 251.35V253.45" stroke="#e8182a" stroke-width="0.9"/>
<path d="M256.5 179.84H257.7V179.84H258.9V180.16H259.73V180.83H260.57V181.5H261.4V182.17H262.7V183.09H264V184.02H265.3V184.95H266.6V185.88H269.2V186.43H270.45V187.38H271.7V188.34H272.37V189.09H273.03V189.85H273.7V190.6H274.13V191.88H274.57V193.16H275V194.43H278.2V194.68H280.7V194.68H282V195.61H283.3V196.54H284.6V197.17H285.9V197.79H291V198.7H293.6V199.4H294.47V200.9H295.33V202.4H296.2V203.9H297.5V205.5H298.8V207.1H298.92V208.38H299.04V209.66H299.16V210.94H299.28V212.22H299.4V213.5H334.8V213.5" fill="none" stroke="#9cb0e2" stroke-width="0.7" stroke-dasharray="0.7 1.5"/>
<path d="M256.5 179.84H257.7V180.49H258.9V182.09H259.73V183.43H260.57V184.77H261.4V186.11H262.7V188.08H264V190.06H265.3V192.03H266.6V194H269.2V196.65H270.45V198.61H271.7V200.57H272.37V201.86H273.03V203.15H273.7V204.44H274.13V206.07H274.57V207.69H275V209.32H278.2V212.14H280.7V214.15H282V216.13H283.3V218.1H284.6V219.77H285.9V221.45H291V223.9H293.6V224.6H294.47V226.1H295.33V227.6H296.2V229.1H297.5V230.7H298.8V232.3H298.92V233.58H299.04V234.86H299.16V236.14H299.28V237.42H299.4V238.7H334.8V238.7" fill="none" stroke="#9cb0e2" stroke-width="0.7" stroke-dasharray="0.7 1.5"/>
<path d="M256.5 179.84H257.1V179.96H257.7V181.03H258.3V182.09H258.9V183.16H259.52V184.24H260.15V185.32H260.77V186.4H261.4V187.48H262.05V188.53H262.7V189.57H263.35V190.62H264V191.67H264.65V192.74H265.3V193.81H265.95V194.88H266.6V195.95H267.03V197.3H267.47V198.65H267.9V200H270.5V200.98H273V202H274.3V203.15H275.6V204.29H276.9V205.13H278.2V205.98H279.45V207.14H280.7V208.3H281.7V209.25H282.7V210.2H285.3V209.98H286.25V211.25H287.2V212.52H287.63V213.63H288.07V214.75H288.5V215.86H288.93V216.81H289.37V217.76H289.8V218.7H296.8V217.6H298.1V220.8H347.6V220.8" fill="none" stroke="#f3a6a6" stroke-width="0.7" stroke-dasharray="0.7 1.5"/>
<path d="M256.5 179.84H257.1V180.31H257.7V181.71H258.3V183.12H258.9V184.53H259.52V185.96H260.15V187.4H260.77V188.84H261.4V190.28H262.05V191.69H262.7V193.11H263.35V194.53H264V195.95H264.65V197.39H265.3V198.83H265.95V200.27H266.6V201.72H267.03V203.31H267.47V204.91H267.9V206.5H270.5V208.97H273V211.42H274.3V213.31H275.6V215.19H276.9V216.78H278.2V218.36H279.45V220.24H280.7V222.11H281.7V223.63H282.7V225.15H285.3V226.42H286.25V228.23H287.2V230.04H287.63V231.4H288.07V232.76H288.5V234.13H288.93V235.32H289.37V236.52H289.8V237.71H296.8V238.4H298.1V241.6H347.6V241.6" fill="none" stroke="#f3a6a6" stroke-width="0.7" stroke-dasharray="0.7 1.5"/>
<line x1="297.24" y1="181" x2="304.44" y2="181" stroke="#2f5cb4" stroke-width="1.4"/>
<line x1="296.24" y1="188.2" x2="304.44" y2="188.2" stroke="#f0302c" stroke-width="1.4"/>
<path d="M256.5 178.9H257.7V180.15H258.9V181.4H259.73V182.5H260.57V183.6H261.4V184.7H262.7V186.3H264V187.9H265.3V189.5H266.6V191.1H269.2V193H270.45V194.6H271.7V196.2H272.37V197.3H273.03V198.4H273.7V199.5H274.13V201H274.57V202.5H275V204H278.2V205.9H280.7V207.2H282V208.8H283.3V210.4H284.6V211.7H285.9V213H291V214.9H293.6V215.6H294.47V217.1H295.33V218.6H296.2V220.1H297.5V221.7H298.8V223.3H298.92V224.58H299.04V225.86H299.16V227.14H299.28V228.42H299.4V229.7H334.8V229.7" fill="none" stroke="#2f5cb4" stroke-width="1.8" stroke-linejoin="miter"/>
<path d="M301 228.65V230.75" stroke="#2450a8" stroke-width="0.9"/>
<path d="M304 228.65V230.75" stroke="#2450a8" stroke-width="0.9"/>
<path d="M308 228.65V230.75" stroke="#2450a8" stroke-width="0.9"/>
<path d="M313 228.65V230.75" stroke="#2450a8" stroke-width="0.9"/>
<path d="M318 228.65V230.75" stroke="#2450a8" stroke-width="0.9"/>
<path d="M322 228.65V230.75" stroke="#2450a8" stroke-width="0.9"/>
<path d="M326 228.65V230.75" stroke="#2450a8" stroke-width="0.9"/>
<path d="M330 228.65V230.75" stroke="#2450a8" stroke-width="0.9"/>
<path d="M334.8 228.65V230.75" stroke="#2450a8" stroke-width="0.9"/>
<path d="M256.5 178.9H257.1V180.18H257.7V181.45H258.3V182.72H258.9V184H259.52V185.3H260.15V186.6H260.77V187.9H261.4V189.2H262.05V190.47H262.7V191.75H263.35V193.03H264V194.3H264.65V195.6H265.3V196.9H265.95V198.2H266.6V199.5H267.03V201H267.47V202.5H267.9V204H270.5V205.9H273V207.8H274.3V209.4H275.6V211H276.9V212.3H278.2V213.6H279.45V215.2H280.7V216.8H281.7V218.1H282.7V219.4H285.3V220.1H286.25V221.7H287.2V223.3H287.63V224.57H288.07V225.83H288.5V227.1H288.93V228.2H289.37V229.3H289.8V230.4H296.8V230.4H298.1V233.6H347.6V233.6" fill="none" stroke="#f0302c" stroke-width="1.8" stroke-linejoin="miter"/>
<path d="M292 229.35V231.45" stroke="#e8182a" stroke-width="0.9"/>
<path d="M294 229.35V231.45" stroke="#e8182a" stroke-width="0.9"/>
<path d="M301 232.55V234.65" stroke="#e8182a" stroke-width="0.9"/>
<path d="M305 232.55V234.65" stroke="#e8182a" stroke-width="0.9"/>
<path d="M311 232.55V234.65" stroke="#e8182a" stroke-width="0.9"/>
<path d="M318 232.55V234.65" stroke="#e8182a" stroke-width="0.9"/>
<path d="M326 232.55V234.65" stroke="#e8182a" stroke-width="0.9"/>
<path d="M333 232.55V234.65" stroke="#e8182a" stroke-width="0.9"/>
<path d="M340 232.55V234.65" stroke="#e8182a" stroke-width="0.9"/>
<path d="M347.6 232.55V234.65" stroke="#e8182a" stroke-width="0.9"/>
<path d="M34 334H39V335.5H44V337H46.67V338.33H49.33V339.67H52V341H54.67V342.33H57.33V343.67H60V345H63V346.5H66V348H69V349H72V350H121.8V350" fill="none" stroke="#9cb0e2" stroke-width="0.7" stroke-dasharray="0.7 1.5"/>
<path d="M34 334H34.43V335.29H34.86V336.57H35.29V337.86H35.71V339.14H36.14V340.43H36.57V341.71H37V343H37.43V344.29H37.86V345.57H38.29V346.86H38.71V348.14H39.14V349.43H39.57V350.71H40V352H41.33V353.33H42.67V354.67H44V356H45.33V357.33H46.67V358.67H48V360H49.67V361.33H51.33V362.67H53V364H54.67V365.33H56.33V366.67H58V368H58.47V369.34H58.94V370.69H59.41V372.03H59.89V373.37H60.36V374.71H60.83V376.06H61.3V377.4H121.8V377.4" fill="none" stroke="#9cb0e2" stroke-width="0.7" stroke-dasharray="0.7 1.5"/>
<path d="M34 334H34.25V335.38H34.5V336.75H34.75V338.12H35V339.5H35.25V340.88H35.5V342.25H35.75V343.62H36V345H36.25V346.38H36.5V347.75H36.75V349.12H37V350.5H37.25V351.88H37.5V353.25H37.75V354.62H38V356H38.8V357.2H39.6V358.4H40.4V359.6H41.2V360.8H42V362H43.5V363.25H45V364.5H46.5V365.75H48V367H50V368.15H52V369.3H121.8V369.3" fill="none" stroke="#f3a6a6" stroke-width="0.7" stroke-dasharray="0.7 1.5"/>
<path d="M34 334H34.14V335.29H34.29V336.57H34.43V337.86H34.57V339.14H34.71V340.43H34.86V341.71H35V343H35.14V344.29H35.29V345.57H35.43V346.86H35.57V348.14H35.71V349.43H35.86V350.71H36V352H36.15V353.31H36.3V354.61H36.45V355.92H36.6V357.23H36.75V358.54H36.9V359.84H37.05V361.15H37.2V362.46H37.35V363.76H37.5V365.07H37.65V366.38H37.8V367.69H37.95V368.99H38.1V370.3H38.6V371.56H39.1V372.82H39.6V374.09H40.1V375.35H40.6V376.61H41.1V377.88H41.6V379.14H42.1V380.4H42.65V381.69H43.19V382.98H43.74V384.27H44.28V385.56H44.83V386.85H45.37V388.15H45.92V389.44H46.46V390.73H47.01V392.02H47.55V393.31H48.1V394.6H72.3V394.6H72.3V396H72.3V397.4H72.3V398.8H72.3V400.2H72.3V401.6H121.8V401.6" fill="none" stroke="#f3a6a6" stroke-width="0.7" stroke-dasharray="0.7 1.5"/>
<line x1="70.84" y1="336.7" x2="78.04" y2="336.7" stroke="#2f5cb4" stroke-width="1.4"/>
<line x1="69.84" y1="344" x2="78.04" y2="344" stroke="#f0302c" stroke-width="1.4"/>
<path d="M33.9 333.9H34.25V335.5H34.6V337.1H35.85V338.7H37.1V340.3H38.4V341.6H39.7V342.9H40.35V344.5H41V346.1H41.65V347.7H42.3V349.3H44.2V350.6H46.2V351.9H48.1V352.5H48.75V353.5H49.4V354.5H51.3V355.7H52.6V357H54.5V357.7H55.15V359H55.8V360.3H57.7V360.9H59.7V361.5H61V365.4H121.9V365.4" fill="none" stroke="#2f5cb4" stroke-width="1.8" stroke-linejoin="miter"/>
<path d="M43 348.25V350.35" stroke="#2450a8" stroke-width="0.9"/>
<path d="M47 350.85V352.95" stroke="#2450a8" stroke-width="0.9"/>
<path d="M50 353.45V355.55" stroke="#2450a8" stroke-width="0.9"/>
<path d="M53 355.95V358.05" stroke="#2450a8" stroke-width="0.9"/>
<path d="M57 359.25V361.35" stroke="#2450a8" stroke-width="0.9"/>
<path d="M68 364.35V366.45" stroke="#2450a8" stroke-width="0.9"/>
<path d="M73 364.35V366.45" stroke="#2450a8" stroke-width="0.9"/>
<path d="M76 364.35V366.45" stroke="#2450a8" stroke-width="0.9"/>
<path d="M78 364.35V366.45" stroke="#2450a8" stroke-width="0.9"/>
<path d="M84 364.35V366.45" stroke="#2450a8" stroke-width="0.9"/>
<path d="M96 364.35V366.45" stroke="#2450a8" stroke-width="0.9"/>
<path d="M110 364.35V366.45" stroke="#2450a8" stroke-width="0.9"/>
<path d="M121.9 364.35V366.45" stroke="#2450a8" stroke-width="0.9"/>
<path d="M33.9 333.9H34.04V335.18H34.18V336.46H34.32V337.74H34.46V339.02H34.6V340.3H34.8V341.6H35V342.9H35.2V344.2H35.53V345.48H35.85V346.75H36.17V348.02H36.5V349.3H36.62V350.58H36.74V351.86H36.86V353.14H36.98V354.42H37.1V355.7H37.27V357H37.45V358.3H37.62V359.6H37.8V360.9H38V362.2H38.2V363.5H38.4V364.8H38.63V366.07H38.87V367.33H39.1V368.6H39.75V369.9H40.4V371.2H41.35V372.5H42.3V373.8H43.6V375.7H44.9V377.6H45.2V378.6H45.5V379.6H46.15V380.85H46.8V382.1H48.1V383.1H49.4V384.1H50.7V385.4H73.3V391.3H121.9V391.3" fill="none" stroke="#f0302c" stroke-width="1.8" stroke-linejoin="miter"/>
<path d="M55 384.35V386.45" stroke="#e8182a" stroke-width="0.9"/>
<path d="M58 384.35V386.45" stroke="#e8182a" stroke-width="0.9"/>
<path d="M62 384.35V386.45" stroke="#e8182a" stroke-width="0.9"/>
<path d="M66 384.35V386.45" stroke="#e8182a" stroke-width="0.9"/>
<path d="M71 384.35V386.45" stroke="#e8182a" stroke-width="0.9"/>
<path d="M77 390.25V392.35" stroke="#e8182a" stroke-width="0.9"/>
<path d="M82 390.25V392.35" stroke="#e8182a" stroke-width="0.9"/>
<path d="M121.9 390.25V392.35" stroke="#e8182a" stroke-width="0.9"/>
<path d="M144.9 334.27H145.57V334.93H146.23V335.96H146.9V336.99H147.26V338.15H147.61V339.3H147.97V340.46H148.33V341.62H148.69V342.78H149.04V343.94H149.4V345.1H150.7V345.93H152V346.77H152.63V347.84H153.27V348.92H153.9V349.99H154.3V351.13H154.7V352.27H155.1V353.41H155.5V354.54H155.9V355.68H156.73V356.68H157.57V357.69H158.4V358.69H161V359.66H162.6V360.39H164.2V361.12H168.7V360.12H173.3V359.18H174.5V362.55H189.4V365.7H233V384.1H233.3V384.1" fill="none" stroke="#9cb0e2" stroke-width="0.7" stroke-dasharray="0.7 1.5"/>
<path d="M144.9 334.27H145.57V335.34H146.23V336.77H146.9V338.21H147.26V339.59H147.61V340.96H147.97V342.34H148.33V343.72H148.69V345.09H149.04V346.47H149.4V347.85H150.7V349.48H152V351.11H152.63V352.57H153.27V354.03H153.9V355.49H154.3V356.87H154.7V358.25H155.1V359.64H155.5V361.02H155.9V362.4H156.73V363.91H157.57V365.42H158.4V366.94H161V369.5H162.6V371.21H164.2V372.91H168.7V374.66H173.3V376.53H174.5V380.63H189.4V387.3H233V405.7H233.3V405.7" fill="none" stroke="#9cb0e2" stroke-width="0.7" stroke-dasharray="0.7 1.5"/>
<path d="M144.9 334.27H145.4V335.01H145.9V336.12H146.4V337.22H146.9V338.33H147.22V339.51H147.53V340.69H147.85V341.86H148.17V343.04H148.48V344.22H148.8V345.4H149.07V346.59H149.34V347.79H149.61V348.98H149.89V350.18H150.16V351.37H150.43V352.57H150.7V353.76H151.2V354.89H151.7V356.03H152.2V357.16H152.7V358.29H153.65V359.28H154.6V360.26H155.47V361.24H156.33V362.21H157.2V363.19H158.03V364.21H158.87V365.23H159.7V366.25H162.3V367.29H164.9V367.72H166.8V368.08H168.7V368.45H170.65V369.04H172.6V369.64H174.2V370.11H175.8V370.57H199.6V377.1H222.7V377.1" fill="none" stroke="#f3a6a6" stroke-width="0.7" stroke-dasharray="0.7 1.5"/>
<path d="M144.9 334.27H145.4V335.3H145.9V336.71H146.4V338.11H146.9V339.51H147.22V340.88H147.53V342.24H147.85V343.61H148.17V344.97H148.48V346.34H148.8V347.7H149.07V349.06H149.34V350.41H149.61V351.77H149.89V353.12H150.16V354.48H150.43V355.84H150.7V357.19H151.2V358.62H151.7V360.05H152.2V361.48H152.7V362.91H153.65V364.45H154.6V365.99H155.47V367.48H156.33V368.97H157.2V370.46H158.03V371.98H158.87V373.49H159.7V375H162.3V377.57H164.9V379.54H166.8V381.03H168.7V382.52H170.65V384.27H172.6V386.02H174.2V387.43H175.8V388.84H199.6V395.5H222.7V395.5" fill="none" stroke="#f3a6a6" stroke-width="0.7" stroke-dasharray="0.7 1.5"/>
<line x1="183.14" y1="336" x2="190.34" y2="336" stroke="#2f5cb4" stroke-width="1.4"/>
<line x1="182.14" y1="343.2" x2="190.34" y2="343.2" stroke="#f0302c" stroke-width="1.4"/>
<path d="M144.9 333.9H145.57V335.17H146.23V336.43H146.9V337.7H147.26V338.99H147.61V340.27H147.97V341.56H148.33V342.84H148.69V344.13H149.04V345.41H149.4V346.7H150.7V348H152V349.3H152.63V350.6H153.27V351.9H153.9V353.2H154.3V354.48H154.7V355.76H155.1V357.04H155.5V358.32H155.9V359.6H156.73V360.9H157.57V362.2H158.4V363.5H161V365.4H162.6V366.7H164.2V368H168.7V368.6H173.3V369.3H174.5V373.1H189.4V378.3H233V396.7H233.3V396.7" fill="none" stroke="#2f5cb4" stroke-width="1.8" stroke-linejoin="miter"/>
<path d="M166 366.95V369.05" stroke="#2450a8" stroke-width="0.9"/>
<path d="M170 367.55V369.65" stroke="#2450a8" stroke-width="0.9"/>
<path d="M176 372.05V374.15" stroke="#2450a8" stroke-width="0.9"/>
<path d="M180 372.05V374.15" stroke="#2450a8" stroke-width="0.9"/>
<path d="M183 372.05V374.15" stroke="#2450a8" stroke-width="0.9"/>
<path d="M185 372.05V374.15" stroke="#2450a8" stroke-width="0.9"/>
<path d="M196 377.25V379.35" stroke="#2450a8" stroke-width="0.9"/>
<path d="M218 377.25V379.35" stroke="#2450a8" stroke-width="0.9"/>
<path d="M233.3 395.65V397.75" stroke="#2450a8" stroke-width="0.9"/>
<path d="M144.9 333.9H145.4V335.17H145.9V336.45H146.4V337.73H146.9V339H147.22V340.28H147.53V341.57H147.85V342.85H148.17V344.13H148.48V345.42H148.8V346.7H149.07V347.99H149.34V349.27H149.61V350.56H149.89V351.84H150.16V353.13H150.43V354.41H150.7V355.7H151.2V357H151.7V358.3H152.2V359.6H152.7V360.9H153.65V362.2H154.6V363.5H155.47V364.77H156.33V366.03H157.2V367.3H158.03V368.6H158.87V369.9H159.7V371.2H162.3V373.1H164.9V374.4H166.8V375.4H168.7V376.4H170.65V377.65H172.6V378.9H174.2V379.9H175.8V380.9H199.6V387.5H222.7V387.5" fill="none" stroke="#f0302c" stroke-width="1.8" stroke-linejoin="miter"/>
<path d="M178 379.85V381.95" stroke="#e8182a" stroke-width="0.9"/>
<path d="M181 379.85V381.95" stroke="#e8182a" stroke-width="0.9"/>
<path d="M184 379.85V381.95" stroke="#e8182a" stroke-width="0.9"/>
<path d="M188 379.85V381.95" stroke="#e8182a" stroke-width="0.9"/>
<path d="M192 379.85V381.95" stroke="#e8182a" stroke-width="0.9"/>
<path d="M196 379.85V381.95" stroke="#e8182a" stroke-width="0.9"/>
<path d="M206 386.45V388.55" stroke="#e8182a" stroke-width="0.9"/>
<path d="M211 386.45V388.55" stroke="#e8182a" stroke-width="0.9"/>
<path d="M222.7 386.45V388.55" stroke="#e8182a" stroke-width="0.9"/>
<path d="M257.9 333.2H267V333.2H274.5V334.1H275.67V335.4H276.83V336.7H278V338H279.6V339.47H281.2V340.93H282.8V342.4H328.1V342.4" fill="none" stroke="#9cb0e2" stroke-width="0.7" stroke-dasharray="0.7 1.5"/>
<path d="M257.9 333.2H258.8V334.51H259.7V335.83H260.6V337.14H261.5V338.46H262.4V339.77H263.3V341.09H264.2V342.4H264.56V343.77H264.91V345.13H265.27V346.5H265.62V347.87H265.98V349.23H266.33V350.6H266.69V351.97H267.04V353.33H267.4V354.7H268V356.04H268.6V357.37H269.2V358.71H269.8V360.04H270.4V361.38H271V362.71H271.6V364.05H272.2V365.38H272.8V366.72H273.4V368.05H274V369.39H274.6V370.72H275.2V372.06H275.8V373.39H276.4V374.73H277V376.06H277.6V377.4H278.47V378.77H279.33V380.13H280.2V381.5H281.07V382.87H281.93V384.23H282.8V385.6H328.1V386.7" fill="none" stroke="#9cb0e2" stroke-width="0.7" stroke-dasharray="0.7 1.5"/>
<path d="M257.9 333.2H258.56V334.62H259.22V336.04H259.88V337.46H260.54V338.88H261.2V340.3H262.1V341.59H263V342.88H263.9V344.16H264.8V345.45H265.7V346.74H266.6V348.03H267.5V349.31H268.4V350.6H269.03V351.87H269.66V353.14H270.29V354.41H270.92V355.68H271.55V356.95H272.18V358.22H272.82V359.48H273.45V360.75H274.08V362.02H274.71V363.29H275.34V364.56H275.97V365.83H276.6V367.1H347.6V368.1" fill="none" stroke="#f3a6a6" stroke-width="0.7" stroke-dasharray="0.7 1.5"/>
<path d="M257.9 333.2H258.08V334.51H258.27V335.82H258.45V337.13H258.63V338.44H258.82V339.76H259V341.07H259.18V342.38H259.37V343.69H259.55V345H259.73V346.31H259.92V347.62H260.1V348.93H260.28V350.24H260.47V351.56H260.65V352.87H260.83V354.18H261.02V355.49H261.2V356.8H261.47V358.11H261.75V359.42H262.02V360.73H262.29V362.04H262.56V363.35H262.84V364.65H263.11V365.96H263.38V367.27H263.65V368.58H263.93V369.89H264.2V371.2H264.5V372.52H264.8V373.84H265.1V375.16H265.4V376.49H265.7V377.81H266V379.13H266.3V380.45H266.6V381.77H266.9V383.09H267.2V384.41H267.5V385.74H267.8V387.06H268.1V388.38H268.4V389.7H269.08V391.08H269.77V392.47H270.45V393.85H271.13V395.23H271.82V396.62H272.5V398H272.89V399.29H273.27V400.57H273.66V401.86H274.05V403.15H274.44V404.44H274.83V405.73H275.21V407.01H275.6V408.3H347.6V408.3" fill="none" stroke="#f3a6a6" stroke-width="0.7" stroke-dasharray="0.7 1.5"/>
<line x1="296.34" y1="336.7" x2="303.54" y2="336.7" stroke="#2f5cb4" stroke-width="1.4"/>
<line x1="295.34" y1="343.7" x2="303.54" y2="343.7" stroke="#f0302c" stroke-width="1.4"/>
<path d="M257.9 333.2H264.2V338.2H267.3V344.4H268.4V348.5H269.4V356.8H277V361.9H282.4V369.6H328.1V369.6" fill="none" stroke="#2f5cb4" stroke-width="1.8" stroke-linejoin="miter"/>
<path d="M287 368.55V370.65" stroke="#2450a8" stroke-width="0.9"/>
<path d="M290 368.55V370.65" stroke="#2450a8" stroke-width="0.9"/>
<path d="M304 368.55V370.65" stroke="#2450a8" stroke-width="0.9"/>
<path d="M307 368.55V370.65" stroke="#2450a8" stroke-width="0.9"/>
<path d="M328.1 368.55V370.65" stroke="#2450a8" stroke-width="0.9"/>
<path d="M257.9 333.2H260.1V340.3H261.2V356.8H268.2V373.3H270.6V384.6H275.3V397.3H347.6V397.3" fill="none" stroke="#f0302c" stroke-width="1.8" stroke-linejoin="miter"/>
<path d="M265 355.75V357.85" stroke="#e8182a" stroke-width="0.9"/>
<path d="M290 396.25V398.35" stroke="#e8182a" stroke-width="0.9"/>
<path d="M347.6 396.25V398.35" stroke="#e8182a" stroke-width="0.9"/>
<path d="M367 334.02H367.6V334.23H368.4V335.74H369.2V337.24H370.3V338.46H371.4V339.69H373V340.55H374.6V341.41H376.7V342.27H379.9V342.99H383.2V344.21H386.4V344.94H389.6V345.06H393.9V346.16H397.1V346.29H400.3V347.01H403.6V347.73H406.8V347.86H410V348.6H413.2V349.7H416V350.2H418.5V351.4H452.7V351.4" fill="none" stroke="#9cb0e2" stroke-width="0.7" stroke-dasharray="0.7 1.5"/>
<path d="M367 334.02H367.6V334.37H368.4V336.06H369.2V337.76H370.3V339.24H371.4V340.71H373V341.95H374.6V343.19H376.7V344.53H379.9V346.01H383.2V347.99H386.4V349.46H389.6V350.34H393.9V352.44H397.1V353.31H400.3V354.79H403.6V356.27H406.8V357.14H410V358.6H413.2V359.7H416V360.2H418.5V361.4H452.7V361.4" fill="none" stroke="#9cb0e2" stroke-width="0.7" stroke-dasharray="0.7 1.5"/>
<path d="M367 334.02H367.55V335.05H368.1V336.1H368.65V337.15H369.2V338.2H370.3V339.35H371.4V340.5H373V341.51H374.6V342.52H376.2V343.57H377.8V344.63H379.23V345.8H380.67V346.98H382.1V348.15H384.8V349.26H387.5V350.36H391.8V350.68H397.1V350.31H401.4V350.53H404.6V350.55H406.8V351.75H408.4V352.51H410V353.26H411.05V354.2H412.1V355.3H416V356.3H420.5V356.8H425.5V356.8H428.5V361.3H437.6V364.4H448.7V373.4H454.8V373.4" fill="none" stroke="#f3a6a6" stroke-width="0.7" stroke-dasharray="0.7 1.5"/>
<path d="M367 334.02H367.55V335.25H368.1V336.5H368.65V337.75H369.2V339H370.3V340.55H371.4V342.1H373V343.69H374.6V345.28H376.2V346.93H377.8V348.57H379.23V350.26H380.67V351.96H382.1V353.65H384.8V355.74H387.5V357.84H391.8V359.72H397.1V361.29H401.4V363.07H404.6V364.25H406.8V366.25H408.4V367.59H410V368.94H411.05V370.2H412.1V371.3H416V372.3H420.5V372.8H425.5V372.8H428.5V377.3H437.6V380.4H448.7V389.4H454.8V389.4" fill="none" stroke="#f3a6a6" stroke-width="0.7" stroke-dasharray="0.7 1.5"/>
<line x1="403.94" y1="336.6" x2="411.14" y2="336.6" stroke="#2f5cb4" stroke-width="1.4"/>
<line x1="402.94" y1="343.7" x2="411.14" y2="343.7" stroke="#f0302c" stroke-width="1.4"/>
<path d="M367 334H367.6V334.3H368.4V335.9H369.2V337.5H370.3V338.85H371.4V340.2H373V341.25H374.6V342.3H376.7V343.4H379.9V344.5H383.2V346.1H386.4V347.2H389.6V347.7H393.9V349.3H397.1V349.8H400.3V350.9H403.6V352H406.8V352.5H410V353.6H413.2V354.7H416V355.2H418.5V356.4H452.7V356.4" fill="none" stroke="#2f5cb4" stroke-width="1.8" stroke-linejoin="miter"/>
<path d="M404 350.95V353.05" stroke="#2450a8" stroke-width="0.9"/>
<path d="M408 351.45V353.55" stroke="#2450a8" stroke-width="0.9"/>
<path d="M412 352.55V354.65" stroke="#2450a8" stroke-width="0.9"/>
<path d="M416 354.15V356.25" stroke="#2450a8" stroke-width="0.9"/>
<path d="M420 355.35V357.45" stroke="#2450a8" stroke-width="0.9"/>
<path d="M423 355.35V357.45" stroke="#2450a8" stroke-width="0.9"/>
<path d="M426 355.35V357.45" stroke="#2450a8" stroke-width="0.9"/>
<path d="M429 355.35V357.45" stroke="#2450a8" stroke-width="0.9"/>
<path d="M432 355.35V357.45" stroke="#2450a8" stroke-width="0.9"/>
<path d="M435 355.35V357.45" stroke="#2450a8" stroke-width="0.9"/>
<path d="M438 355.35V357.45" stroke="#2450a8" stroke-width="0.9"/>
<path d="M441 355.35V357.45" stroke="#2450a8" stroke-width="0.9"/>
<path d="M444 355.35V357.45" stroke="#2450a8" stroke-width="0.9"/>
<path d="M447 355.35V357.45" stroke="#2450a8" stroke-width="0.9"/>
<path d="M450 355.35V357.45" stroke="#2450a8" stroke-width="0.9"/>
<path d="M452.7 355.35V357.45" stroke="#2450a8" stroke-width="0.9"/>
<path d="M367 334H367.55V335.15H368.1V336.3H368.65V337.45H369.2V338.6H370.3V339.95H371.4V341.3H373V342.6H374.6V343.9H376.2V345.25H377.8V346.6H379.23V348.03H380.67V349.47H382.1V350.9H384.8V352.5H387.5V354.1H391.8V355.2H397.1V355.8H401.4V356.8H404.6V357.4H406.8V359H408.4V360.05H410V361.1H411.05V362.2H412.1V363.3H416V364.3H420.5V364.8H425.5V364.8H428.5V369.3H437.6V372.4H448.7V381.4H454.8V381.4" fill="none" stroke="#f0302c" stroke-width="1.8" stroke-linejoin="miter"/>
<path d="M420 363.25V365.35" stroke="#e8182a" stroke-width="0.9"/>
<path d="M424 363.75V365.85" stroke="#e8182a" stroke-width="0.9"/>
<path d="M430 368.25V370.35" stroke="#e8182a" stroke-width="0.9"/>
<path d="M433 368.25V370.35" stroke="#e8182a" stroke-width="0.9"/>
<path d="M440 371.35V373.45" stroke="#e8182a" stroke-width="0.9"/>
<path d="M443 371.35V373.45" stroke="#e8182a" stroke-width="0.9"/>
<path d="M446 371.35V373.45" stroke="#e8182a" stroke-width="0.9"/>
<path d="M452 380.35V382.45" stroke="#e8182a" stroke-width="0.9"/>
<path d="M454.8 380.35V382.45" stroke="#e8182a" stroke-width="0.9"/>
<path d="M34.1 446.1H36.13V447.47H38.17V448.83H40.2V450.2H46.4V451.25H52.6V452.3H69.1V453.3H81.4V454.4H123.7V454.4" fill="none" stroke="#9cb0e2" stroke-width="0.7" stroke-dasharray="0.7 1.5"/>
<path d="M34.1 446.1H35.12V447.3H36.13V448.5H37.15V449.7H38.17V450.9H39.18V452.1H40.2V453.3H42.68V454.54H45.16V455.78H47.64V457.02H50.12V458.26H52.6V459.5H60.85V461.05H69.1V462.6H69.92V463.84H70.74V465.08H71.56V466.32H72.38V467.56H73.2V468.8H73.95V470.11H74.69V471.42H75.44V472.73H76.18V474.04H76.93V475.35H77.67V476.65H78.42V477.96H79.16V479.27H79.91V480.58H80.65V481.89H81.4V483.2H81.48V484.55H81.57V485.89H81.65V487.24H81.74V488.58H81.82V489.93H81.91V491.28H81.99V492.62H82.08V493.97H82.16V495.32H82.25V496.66H82.33V498.01H82.42V499.35H82.5V500.7H123.7V500.7" fill="none" stroke="#9cb0e2" stroke-width="0.7" stroke-dasharray="0.7 1.5"/>
<path d="M34.1 446.1H35.12V447.4H36.15V448.7H37.18V450H38.2V451.3H39.09V452.61H39.97V453.93H40.86V455.24H41.74V456.56H42.63V457.87H43.51V459.19H44.4V460.5H48.5V461.55H52.6V462.6H55.7V463.9H58.8V465.2H61.9V466.5H65V467.8H73.2V469.3H81.4V470.8" fill="none" stroke="#f3a6a6" stroke-width="0.7" stroke-dasharray="0.7 1.5"/>
<path d="M34.1 446.1H34.44V447.37H34.79V448.63H35.13V449.9H35.48V451.17H35.82V452.43H36.17V453.7H36.51V454.97H36.86V456.23H37.2V457.5H37.92V458.83H38.64V460.16H39.36V461.49H40.08V462.82H40.8V464.15H41.52V465.48H42.24V466.81H42.96V468.14H43.68V469.47H44.4V470.8H45.77V472.18H47.13V473.57H48.5V474.95H49.87V476.33H51.23V477.72H52.6V479.1H54.15V480.39H55.7V481.68H57.25V482.96H58.8V484.25H60.35V485.54H61.9V486.82H63.45V488.11H65V489.4H81.4V489.4" fill="none" stroke="#f3a6a6" stroke-width="0.7" stroke-dasharray="0.7 1.5"/>
<line x1="71.24" y1="448.5" x2="78.44" y2="448.5" stroke="#2f5cb4" stroke-width="1.4"/>
<line x1="70.24" y1="455.8" x2="78.44" y2="455.8" stroke="#f0302c" stroke-width="1.4"/>
<path d="M33 446H34V447.55H35V449.1H36.55V450.1H38.1V451.1H42.1V452.1H44.1V453.1H46.1V454.1H48.15V455.6H50.2V457.1H52.2V458.1H70.3V458.1H71.3V462.2H80.4V467.2H81.4V475.3H82.4V481.3H121.8V481.3" fill="none" stroke="#2f5cb4" stroke-width="1.8" stroke-linejoin="miter"/>
<path d="M56 457.05V459.15" stroke="#2450a8" stroke-width="0.9"/>
<path d="M58 457.05V459.15" stroke="#2450a8" stroke-width="0.9"/>
<path d="M60 457.05V459.15" stroke="#2450a8" stroke-width="0.9"/>
<path d="M62 457.05V459.15" stroke="#2450a8" stroke-width="0.9"/>
<path d="M64 457.05V459.15" stroke="#2450a8" stroke-width="0.9"/>
<path d="M66 457.05V459.15" stroke="#2450a8" stroke-width="0.9"/>
<path d="M68 457.05V459.15" stroke="#2450a8" stroke-width="0.9"/>
<path d="M74 461.15V463.25" stroke="#2450a8" stroke-width="0.9"/>
<path d="M76 461.15V463.25" stroke="#2450a8" stroke-width="0.9"/>
<path d="M85 480.25V482.35" stroke="#2450a8" stroke-width="0.9"/>
<path d="M90 480.25V482.35" stroke="#2450a8" stroke-width="0.9"/>
<path d="M121.8 480.25V482.35" stroke="#2450a8" stroke-width="0.9"/>
<path d="M33 446H33.67V447.37H34.33V448.73H35V450.1H35.77V451.35H36.55V452.6H37.33V453.85H38.1V455.1H38.7V456.32H39.3V457.54H39.9V458.76H40.5V459.98H41.1V461.2H42.1V462.45H43.1V463.7H44.1V464.95H45.1V466.2H48.1V467.2H52.2V467.2H53.2V468.7H54.2V470.2H54.87V471.57H55.53V472.93H56.2V474.3H64.3V474.3H65.3V478.3H81.4V478.3" fill="none" stroke="#f0302c" stroke-width="1.8" stroke-linejoin="miter"/>
<path d="M50 466.15V468.25" stroke="#e8182a" stroke-width="0.9"/>
<path d="M59 473.25V475.35" stroke="#e8182a" stroke-width="0.9"/>
<path d="M62 473.25V475.35" stroke="#e8182a" stroke-width="0.9"/>
<path d="M70 477.25V479.35" stroke="#e8182a" stroke-width="0.9"/>
<path d="M72 477.25V479.35" stroke="#e8182a" stroke-width="0.9"/>
<path d="M75 477.25V479.35" stroke="#e8182a" stroke-width="0.9"/>
<path d="M81.4 477.25V479.35" stroke="#e8182a" stroke-width="0.9"/>
<path d="M142.9 446.9H143.57V447.91H144.23V448.91H144.9V449.92H145.32V451.06H145.73V452.2H146.15V453.34H146.57V454.47H146.98V455.61H147.4V456.75H147.92V457.83H148.44V458.91H148.96V459.98H149.48V461.06H150V462.14H150.65V463.16H151.3V464.18H151.95V465.21H152.6V466.23H152.93V467.4H153.25V468.58H153.57V469.75H153.9V470.92H154.85V471.85H155.8V472.78H156.75V473.67H157.7V474.55H158.13V475.68H158.57V476.81H159V477.94H160.3V479.04H161.6V480.13H162.9V481.22H164.2V482.32H166.7V482.05H169.3V482.34H171.9V481.93H175.1V481.38H175.8V483.61H182.2V482.7H182.8V487.2H235.5V487.2" fill="none" stroke="#9cb0e2" stroke-width="0.7" stroke-dasharray="0.7 1.5"/>
<path d="M142.9 446.9H143.57V448.33H144.23V449.76H144.9V451.19H145.32V452.59H145.73V453.99H146.15V455.39H146.57V456.79H146.98V458.19H147.4V459.59H147.92V461H148.44V462.41H148.96V463.81H149.48V465.22H150V466.63H150.65V468.06H151.3V469.49H151.95V470.92H152.6V472.36H152.93V473.74H153.25V475.11H153.57V476.49H153.9V477.87H154.85V479.4H155.8V480.93H156.75V482.42H157.7V483.9H158.13V485.3H158.57V486.71H159V488.11H160.3V490.03H161.6V491.94H162.9V493.86H164.2V495.78H166.7V497.08H169.3V499.01H171.9V500.25H175.1V501.72H175.8V504.39H182.2V506.1H182.8V510.6H235.5V510.6" fill="none" stroke="#9cb0e2" stroke-width="0.7" stroke-dasharray="0.7 1.5"/>
<path d="M142.9 446.9H143.4V447.95H143.9V448.99H144.4V450.04H144.9V451.09H145.22V452.23H145.53V453.36H145.85V454.5H146.17V455.64H146.48V456.78H146.8V457.92H147.12V459.07H147.43V460.23H147.75V461.38H148.07V462.54H148.38V463.7H148.7V464.85H148.89V466.05H149.07V467.25H149.26V468.45H149.44V469.65H149.63V470.85H149.81V472.06H150V473.26H151.3V473.91H152.6V474.57H153.25V475.57H153.9V476.57H154.55V477.58H155.2V478.58H156.03V479.5H156.87V480.42H157.7V481.34H160.3V480.75H160.93V481.76H161.57V482.77H162.2V483.78H165.5V483.5H168V484.1H169V485.4H170V486.7H170.95V488H171.9V489.3H192.7V489.3" fill="none" stroke="#f3a6a6" stroke-width="0.7" stroke-dasharray="0.7 1.5"/>
<path d="M142.9 446.9H143.4V448.35H143.9V449.8H144.4V451.25H144.9V452.7H145.22V454.1H145.53V455.49H145.85V456.89H146.17V458.28H146.48V459.68H146.8V461.07H147.12V462.48H147.43V463.89H147.75V465.3H148.07V466.72H148.38V468.13H148.7V469.54H148.89V470.89H149.07V472.24H149.26V473.59H149.44V474.94H149.63V476.29H149.81V477.64H150V478.99H151.3V480.7H152.6V482.41H153.25V483.94H153.9V485.47H154.55V486.99H155.2V488.52H156.03V490.12H156.87V491.71H157.7V493.3H160.3V494.81H160.93V496.34H161.57V497.86H162.2V499.38H165.5V499.6H168V500.2H169V501.5H170V502.8H170.95V504.1H171.9V505.4H192.7V505.4" fill="none" stroke="#f3a6a6" stroke-width="0.7" stroke-dasharray="0.7 1.5"/>
<line x1="184.74" y1="448" x2="191.94" y2="448" stroke="#2f5cb4" stroke-width="1.4"/>
<line x1="183.74" y1="455.2" x2="191.94" y2="455.2" stroke="#f0302c" stroke-width="1.4"/>
<path d="M142.9 446.9H143.57V448.17H144.23V449.43H144.9V450.7H145.32V452H145.73V453.3H146.15V454.6H146.57V455.9H146.98V457.2H147.4V458.5H147.92V459.78H148.44V461.06H148.96V462.34H149.48V463.62H150V464.9H150.65V466.17H151.3V467.45H151.95V468.73H152.6V470H152.93V471.3H153.25V472.6H153.57V473.9H153.9V475.2H154.85V476.5H155.8V477.8H156.75V479.05H157.7V480.3H158.13V481.6H158.57V482.9H159V484.2H160.3V485.8H161.6V487.4H162.9V489H164.2V490.6H166.7V491.3H169.3V492.6H171.9V493.2H175.1V493.9H175.8V496.4H182.2V497.1H182.8V501.6H235.5V501.6" fill="none" stroke="#2f5cb4" stroke-width="1.8" stroke-linejoin="miter"/>
<path d="M162 486.35V488.45" stroke="#2450a8" stroke-width="0.9"/>
<path d="M167 490.25V492.35" stroke="#2450a8" stroke-width="0.9"/>
<path d="M170 491.55V493.65" stroke="#2450a8" stroke-width="0.9"/>
<path d="M175 492.15V494.25" stroke="#2450a8" stroke-width="0.9"/>
<path d="M180 495.35V497.45" stroke="#2450a8" stroke-width="0.9"/>
<path d="M200 500.55V502.65" stroke="#2450a8" stroke-width="0.9"/>
<path d="M235.5 500.55V502.65" stroke="#2450a8" stroke-width="0.9"/>
<path d="M142.9 446.9H143.4V448.17H143.9V449.45H144.4V450.73H144.9V452H145.22V453.28H145.53V454.57H145.85V455.85H146.17V457.13H146.48V458.42H146.8V459.7H147.12V461H147.43V462.3H147.75V463.6H148.07V464.9H148.38V466.2H148.7V467.5H148.89V468.79H149.07V470.07H149.26V471.36H149.44V472.64H149.63V473.93H149.81V475.21H150V476.5H151.3V477.75H152.6V479H153.25V480.3H153.9V481.6H154.55V482.9H155.2V484.2H156.03V485.5H156.87V486.8H157.7V488.1H160.3V488.7H160.93V490H161.57V491.3H162.2V492.6H165.5V492.6H168V493.2H169V494.5H170V495.8H170.95V497.1H171.9V498.4H192.7V498.4" fill="none" stroke="#f0302c" stroke-width="1.8" stroke-linejoin="miter"/>
<path d="M165 491.55V493.65" stroke="#e8182a" stroke-width="0.9"/>
<path d="M172 497.35V499.45" stroke="#e8182a" stroke-width="0.9"/>
<path d="M175 497.35V499.45" stroke="#e8182a" stroke-width="0.9"/>
<path d="M178 497.35V499.45" stroke="#e8182a" stroke-width="0.9"/>
<path d="M181 497.35V499.45" stroke="#e8182a" stroke-width="0.9"/>
<path d="M184 497.35V499.45" stroke="#e8182a" stroke-width="0.9"/>
<path d="M187 497.35V499.45" stroke="#e8182a" stroke-width="0.9"/>
<path d="M190 497.35V499.45" stroke="#e8182a" stroke-width="0.9"/>
<path d="M192.7 497.35V499.45" stroke="#e8182a" stroke-width="0.9"/>
<path d="M259 446.67H260.05V447.26H261.1V448.42H261.6V449.45H262.1V450.49H262.6V451.53H263.1V452.56H263.6V453.6H264.1V454.64H265.65V455.63H267.2V456.63H269.25V457.51H271.3V458.39H273.3V459.24H275.3V460.08H277.35V460.47H279.4V460.85H281.45V461.18H283.5V461.51H285.55V462.39H287.6V463.27H289.65V464.11H291.7V464.94H293.7V465.83H295.7V467H296.75V468H297.8V469H308V474.1H311V479.2H348.7V479.2" fill="none" stroke="#9cb0e2" stroke-width="0.7" stroke-dasharray="0.7 1.5"/>
<path d="M259 446.67H260.05V447.86H261.1V449.63H261.6V450.95H262.1V452.28H262.6V453.6H263.1V454.93H263.6V456.25H264.1V457.58H265.65V459.47H267.2V461.36H269.25V463.42H271.3V465.49H273.3V467.49H275.3V469.49H277.35V471.05H279.4V472.62H281.45V474.13H283.5V475.65H285.55V477.71H287.6V479.77H289.65V481.79H291.7V483.8H293.7V485.85H295.7V487.7H296.75V488.7H297.8V489.7H308V494.8H311V499.9H348.7V499.9" fill="none" stroke="#9cb0e2" stroke-width="0.7" stroke-dasharray="0.7 1.5"/>
<path d="M259 446.67H259.7V447.17H260.4V448.23H261.1V449.3H261.43V450.37H261.77V451.44H262.1V452.51H262.43V453.59H262.77V454.66H263.1V455.73H263.72V456.72H264.34V457.7H264.96V458.68H265.58V459.66H266.2V460.65H266.8V461.64H267.4V462.63H268V463.62H268.6V464.61H269.2V465.6H270.23V466.48H271.25V467.37H272.27V468.25H273.3V469.13H275.35V469.9H277.4V470.66H285.5V467.57H286.55V468.17H287.6V468.76H288.6V469.93H289.6V471.1H291.65V472.1H293.7V473.1H294.73V474.38H295.75V475.65H296.77V476.93H297.8V478.2H334.8V496.8H335.5V496.8" fill="none" stroke="#f3a6a6" stroke-width="0.7" stroke-dasharray="0.7 1.5"/>
<path d="M259 446.67H259.7V447.64H260.4V449.18H261.1V450.72H261.43V452.02H261.77V453.31H262.1V454.61H262.43V455.91H262.77V457.21H263.1V458.51H263.72V459.91H264.34V461.31H264.96V462.71H265.58V464.12H266.2V465.52H266.8V466.91H267.4V468.31H268V469.71H268.6V471.1H269.2V472.5H270.23V474.08H271.25V475.65H272.27V477.23H273.3V478.81H275.35V480.96H277.4V483.11H285.5V485.49H286.55V486.8H287.6V488.11H288.6V489.96H289.6V491.8H291.65V492.8H293.7V493.8H294.73V495.07H295.75V496.35H296.77V497.62H297.8V498.9H334.8V517.5H335.5V517.5" fill="none" stroke="#f3a6a6" stroke-width="0.7" stroke-dasharray="0.7 1.5"/>
<line x1="297.34" y1="447.1" x2="304.54" y2="447.1" stroke="#2f5cb4" stroke-width="1.4"/>
<line x1="296.34" y1="454.6" x2="304.54" y2="454.6" stroke="#f0302c" stroke-width="1.4"/>
<path d="M259 446.1H260.05V447.6H261.1V449.1H261.6V450.3H262.1V451.5H262.6V452.7H263.1V453.9H263.6V455.1H264.1V456.3H265.65V457.8H267.2V459.3H269.25V460.85H271.3V462.4H273.3V463.9H275.3V465.4H277.35V466.45H279.4V467.5H281.45V468.5H283.5V469.5H285.55V471.05H287.6V472.6H289.65V474.1H291.7V475.6H293.7V477.15H295.7V478.7H296.75V479.7H297.8V480.7H308V485.8H311V490.9H348.7V490.9" fill="none" stroke="#2f5cb4" stroke-width="1.8" stroke-linejoin="miter"/>
<path d="M298 479.65V481.75" stroke="#2450a8" stroke-width="0.9"/>
<path d="M302 479.65V481.75" stroke="#2450a8" stroke-width="0.9"/>
<path d="M305 479.65V481.75" stroke="#2450a8" stroke-width="0.9"/>
<path d="M315 489.85V491.95" stroke="#2450a8" stroke-width="0.9"/>
<path d="M320 489.85V491.95" stroke="#2450a8" stroke-width="0.9"/>
<path d="M330 489.85V491.95" stroke="#2450a8" stroke-width="0.9"/>
<path d="M340 489.85V491.95" stroke="#2450a8" stroke-width="0.9"/>
<path d="M345 489.85V491.95" stroke="#2450a8" stroke-width="0.9"/>
<path d="M348.7 489.85V491.95" stroke="#2450a8" stroke-width="0.9"/>
<path d="M259 446.1H259.7V447.43H260.4V448.77H261.1V450.1H261.43V451.3H261.77V452.5H262.1V453.7H262.43V454.9H262.77V456.1H263.1V457.3H263.72V458.52H264.34V459.74H264.96V460.96H265.58V462.18H266.2V463.4H266.8V464.62H267.4V465.84H268V467.06H268.6V468.28H269.2V469.5H270.23V470.77H271.25V472.05H272.27V473.33H273.3V474.6H275.35V476.15H277.4V477.7H285.5V477.7H286.55V478.7H287.6V479.7H288.6V481.25H289.6V482.8H291.65V483.8H293.7V484.8H294.73V486.07H295.75V487.35H296.77V488.62H297.8V489.9H334.8V508.5H335.5V508.5" fill="none" stroke="#f0302c" stroke-width="1.8" stroke-linejoin="miter"/>
<path d="M300 488.85V490.95" stroke="#e8182a" stroke-width="0.9"/>
<path d="M305 488.85V490.95" stroke="#e8182a" stroke-width="0.9"/>
<path d="M310 488.85V490.95" stroke="#e8182a" stroke-width="0.9"/>
<path d="M320 488.85V490.95" stroke="#e8182a" stroke-width="0.9"/>
<path d="M325 488.85V490.95" stroke="#e8182a" stroke-width="0.9"/>
<path d="M335.5 507.45V509.55" stroke="#e8182a" stroke-width="0.9"/>
<path d="M369 447H370.75V448.25H372.5V449.5H374.25V450.75H376V452H378.17V453.33H380.33V454.67H382.5V456H384.67V457.33H386.83V458.67H389V460H391.72V461.33H394.43V462.67H397.15V464H399.87V465.33H402.58V466.67H405.3V468H440.6V468H440.6V469.3H440.6V470.6H440.6V471.9H440.6V473.2H440.6V474.5H440.6V475.8H440.6V477.1H440.6V478.4H440.6V479.7H440.6V481H440.6V482.3H440.6V483.6H440.6V484.9H440.6V486.2H440.6V487.5H440.6V488.8H440.6V490.1H440.6V491.4H440.6V492.7H440.6V494H440.6V495.3H440.6V496.6H440.6V497.9H440.6V499.2H440.6V500.5H440.6V501.8H440.6V503.1H440.6V504.4H440.6V505.7H440.6V507H440.6V508.3H440.6V509.6H440.6V510.9H440.6V512.2H440.6V513.5H440.6V514.8H440.6V516.1H440.6V517.4H440.6V518.7H457.8V518.7" fill="none" stroke="#9cb0e2" stroke-width="0.7" stroke-dasharray="0.7 1.5"/>
<path d="M369 447.69H374.1V448.51H377.1V450.99H378.1V454.48H380.1V457.57H382.1V460.56H384.1V462.54H386.2V463.58H388.2V463.56H390.2V464.55H404.3V465.3H414.4V471.4H423V492H424.2V492" fill="none" stroke="#f3a6a6" stroke-width="0.7" stroke-dasharray="0.7 1.5"/>
<path d="M369 447.69H374.1V453.69H377.1V459.21H378.1V463.72H380.1V468.83H382.1V473.84H384.1V477.86H386.2V481.02H388.2V483.04H390.2V486.05H404.3V493.3H414.4V499.4H423V520H424.2V520" fill="none" stroke="#f3a6a6" stroke-width="0.7" stroke-dasharray="0.7 1.5"/>
<line x1="406.24" y1="448.5" x2="413.44" y2="448.5" stroke="#2f5cb4" stroke-width="1.4"/>
<line x1="405.24" y1="455.8" x2="413.44" y2="455.8" stroke="#f0302c" stroke-width="1.4"/>
<path d="M369 447H374.1V450.1H376.1V454.1H389.2V457.1H405.3V462.2H440.6V494.4H457.8V494.4" fill="none" stroke="#2f5cb4" stroke-width="1.8" stroke-linejoin="miter"/>
<path d="M385 453.05V455.15" stroke="#2450a8" stroke-width="0.9"/>
<path d="M392 456.05V458.15" stroke="#2450a8" stroke-width="0.9"/>
<path d="M398 456.05V458.15" stroke="#2450a8" stroke-width="0.9"/>
<path d="M410 461.15V463.25" stroke="#2450a8" stroke-width="0.9"/>
<path d="M415 461.15V463.25" stroke="#2450a8" stroke-width="0.9"/>
<path d="M457.8 493.35V495.45" stroke="#2450a8" stroke-width="0.9"/>
<path d="M369 447H374.1V451.1H377.1V455.1H378.1V459.1H380.1V463.2H382.1V467.2H384.1V470.2H386.2V472.3H388.2V473.3H390.2V475.3H404.3V479.3H414.4V485.4H423V506H424.2V506" fill="none" stroke="#f0302c" stroke-width="1.8" stroke-linejoin="miter"/>
<path d="M394 474.25V476.35" stroke="#e8182a" stroke-width="0.9"/>
<path d="M396 474.25V476.35" stroke="#e8182a" stroke-width="0.9"/>
<path d="M398 474.25V476.35" stroke="#e8182a" stroke-width="0.9"/>
<path d="M407 478.25V480.35" stroke="#e8182a" stroke-width="0.9"/>
<path d="M409 478.25V480.35" stroke="#e8182a" stroke-width="0.9"/>
<path d="M418 484.35V486.45" stroke="#e8182a" stroke-width="0.9"/>
<path d="M420 484.35V486.45" stroke="#e8182a" stroke-width="0.9"/>
<path d="M424.2 504.95V507.05" stroke="#e8182a" stroke-width="0.9"/>
</g>
<rect x="38.4" y="67.3" width="88" height="88.8" fill="none" stroke="#959595" stroke-width="1"/>
<path d="M38.4 67.3V156.1H126.4" fill="none" stroke="#505050" stroke-width="1"/>
<line x1="36.4" y1="152.81" x2="38.4" y2="152.81" stroke="#505050" stroke-width="0.8"/>
<line x1="36.4" y1="136.37" x2="38.4" y2="136.37" stroke="#505050" stroke-width="0.8"/>
<line x1="36.4" y1="119.92" x2="38.4" y2="119.92" stroke="#505050" stroke-width="0.8"/>
<line x1="36.4" y1="103.48" x2="38.4" y2="103.48" stroke="#505050" stroke-width="0.8"/>
<line x1="36.4" y1="87.03" x2="38.4" y2="87.03" stroke="#505050" stroke-width="0.8"/>
<line x1="36.4" y1="70.59" x2="38.4" y2="70.59" stroke="#505050" stroke-width="0.8"/>
<line x1="38.4" y1="156.1" x2="38.4" y2="157.9" stroke="#505050" stroke-width="0.8"/>
<line x1="65.63" y1="156.1" x2="65.63" y2="157.9" stroke="#505050" stroke-width="0.8"/>
<line x1="92.86" y1="156.1" x2="92.86" y2="157.9" stroke="#505050" stroke-width="0.8"/>
<line x1="120.08" y1="156.1" x2="120.08" y2="157.9" stroke="#505050" stroke-width="0.8"/>
<rect x="145.6" y="67.2" width="92" height="88.4" fill="none" stroke="#959595" stroke-width="1"/>
<path d="M145.6 67.2V155.6H237.6" fill="none" stroke="#505050" stroke-width="1"/>
<line x1="143.6" y1="152.33" x2="145.6" y2="152.33" stroke="#505050" stroke-width="0.8"/>
<line x1="143.6" y1="135.96" x2="145.6" y2="135.96" stroke="#505050" stroke-width="0.8"/>
<line x1="143.6" y1="119.59" x2="145.6" y2="119.59" stroke="#505050" stroke-width="0.8"/>
<line x1="143.6" y1="103.21" x2="145.6" y2="103.21" stroke="#505050" stroke-width="0.8"/>
<line x1="143.6" y1="86.84" x2="145.6" y2="86.84" stroke="#505050" stroke-width="0.8"/>
<line x1="143.6" y1="70.47" x2="145.6" y2="70.47" stroke="#505050" stroke-width="0.8"/>
<line x1="145.6" y1="155.6" x2="145.6" y2="157.4" stroke="#505050" stroke-width="0.8"/>
<line x1="171.74" y1="155.6" x2="171.74" y2="157.4" stroke="#505050" stroke-width="0.8"/>
<line x1="197.87" y1="155.6" x2="197.87" y2="157.4" stroke="#505050" stroke-width="0.8"/>
<line x1="224.01" y1="155.6" x2="224.01" y2="157.4" stroke="#505050" stroke-width="0.8"/>
<rect x="256.6" y="67.5" width="93.7" height="87.9" fill="none" stroke="#959595" stroke-width="1"/>
<path d="M256.6 67.5V155.4H350.3" fill="none" stroke="#505050" stroke-width="1"/>
<line x1="254.6" y1="152.14" x2="256.6" y2="152.14" stroke="#505050" stroke-width="0.8"/>
<line x1="254.6" y1="135.87" x2="256.6" y2="135.87" stroke="#505050" stroke-width="0.8"/>
<line x1="254.6" y1="119.59" x2="256.6" y2="119.59" stroke="#505050" stroke-width="0.8"/>
<line x1="254.6" y1="103.31" x2="256.6" y2="103.31" stroke="#505050" stroke-width="0.8"/>
<line x1="254.6" y1="87.03" x2="256.6" y2="87.03" stroke="#505050" stroke-width="0.8"/>
<line x1="254.6" y1="70.76" x2="256.6" y2="70.76" stroke="#505050" stroke-width="0.8"/>
<line x1="256.6" y1="155.4" x2="256.6" y2="157.2" stroke="#505050" stroke-width="0.8"/>
<line x1="276.93" y1="155.4" x2="276.93" y2="157.2" stroke="#505050" stroke-width="0.8"/>
<line x1="297.25" y1="155.4" x2="297.25" y2="157.2" stroke="#505050" stroke-width="0.8"/>
<line x1="317.58" y1="155.4" x2="317.58" y2="157.2" stroke="#505050" stroke-width="0.8"/>
<line x1="337.9" y1="155.4" x2="337.9" y2="157.2" stroke="#505050" stroke-width="0.8"/>
<rect x="369.4" y="65.6" width="93.2" height="88.6" fill="none" stroke="#959595" stroke-width="1"/>
<path d="M369.4 65.6V154.2H462.6" fill="none" stroke="#505050" stroke-width="1"/>
<line x1="367.4" y1="150.92" x2="369.4" y2="150.92" stroke="#505050" stroke-width="0.8"/>
<line x1="367.4" y1="134.51" x2="369.4" y2="134.51" stroke="#505050" stroke-width="0.8"/>
<line x1="367.4" y1="118.1" x2="369.4" y2="118.1" stroke="#505050" stroke-width="0.8"/>
<line x1="367.4" y1="101.7" x2="369.4" y2="101.7" stroke="#505050" stroke-width="0.8"/>
<line x1="367.4" y1="85.29" x2="369.4" y2="85.29" stroke="#505050" stroke-width="0.8"/>
<line x1="367.4" y1="68.88" x2="369.4" y2="68.88" stroke="#505050" stroke-width="0.8"/>
<line x1="369.4" y1="154.2" x2="369.4" y2="156" stroke="#505050" stroke-width="0.8"/>
<line x1="392.08" y1="154.2" x2="392.08" y2="156" stroke="#505050" stroke-width="0.8"/>
<line x1="414.75" y1="154.2" x2="414.75" y2="156" stroke="#505050" stroke-width="0.8"/>
<line x1="437.43" y1="154.2" x2="437.43" y2="156" stroke="#505050" stroke-width="0.8"/>
<line x1="460.11" y1="154.2" x2="460.11" y2="156" stroke="#505050" stroke-width="0.8"/>
<rect x="38.7" y="177.9" width="88.7" height="88.6" fill="none" stroke="#959595" stroke-width="1"/>
<path d="M38.7 177.9V266.5H127.4" fill="none" stroke="#505050" stroke-width="1"/>
<line x1="36.7" y1="263.22" x2="38.7" y2="263.22" stroke="#505050" stroke-width="0.8"/>
<line x1="36.7" y1="246.81" x2="38.7" y2="246.81" stroke="#505050" stroke-width="0.8"/>
<line x1="36.7" y1="230.4" x2="38.7" y2="230.4" stroke="#505050" stroke-width="0.8"/>
<line x1="36.7" y1="214" x2="38.7" y2="214" stroke="#505050" stroke-width="0.8"/>
<line x1="36.7" y1="197.59" x2="38.7" y2="197.59" stroke="#505050" stroke-width="0.8"/>
<line x1="36.7" y1="181.18" x2="38.7" y2="181.18" stroke="#505050" stroke-width="0.8"/>
<line x1="38.7" y1="266.5" x2="38.7" y2="268.3" stroke="#505050" stroke-width="0.8"/>
<line x1="58.8" y1="266.5" x2="58.8" y2="268.3" stroke="#505050" stroke-width="0.8"/>
<line x1="78.91" y1="266.5" x2="78.91" y2="268.3" stroke="#505050" stroke-width="0.8"/>
<line x1="99.01" y1="266.5" x2="99.01" y2="268.3" stroke="#505050" stroke-width="0.8"/>
<line x1="119.12" y1="266.5" x2="119.12" y2="268.3" stroke="#505050" stroke-width="0.8"/>
<rect x="147.3" y="177.5" width="92.7" height="89.7" fill="none" stroke="#959595" stroke-width="1"/>
<path d="M147.3 177.5V267.2H240" fill="none" stroke="#505050" stroke-width="1"/>
<line x1="145.3" y1="263.88" x2="147.3" y2="263.88" stroke="#505050" stroke-width="0.8"/>
<line x1="145.3" y1="247.27" x2="147.3" y2="247.27" stroke="#505050" stroke-width="0.8"/>
<line x1="145.3" y1="230.66" x2="147.3" y2="230.66" stroke="#505050" stroke-width="0.8"/>
<line x1="145.3" y1="214.04" x2="147.3" y2="214.04" stroke="#505050" stroke-width="0.8"/>
<line x1="145.3" y1="197.43" x2="147.3" y2="197.43" stroke="#505050" stroke-width="0.8"/>
<line x1="145.3" y1="180.82" x2="147.3" y2="180.82" stroke="#505050" stroke-width="0.8"/>
<line x1="147.3" y1="267.2" x2="147.3" y2="269" stroke="#505050" stroke-width="0.8"/>
<line x1="165.69" y1="267.2" x2="165.69" y2="269" stroke="#505050" stroke-width="0.8"/>
<line x1="184.09" y1="267.2" x2="184.09" y2="269" stroke="#505050" stroke-width="0.8"/>
<line x1="202.48" y1="267.2" x2="202.48" y2="269" stroke="#505050" stroke-width="0.8"/>
<line x1="220.87" y1="267.2" x2="220.87" y2="269" stroke="#505050" stroke-width="0.8"/>
<line x1="239.26" y1="267.2" x2="239.26" y2="269" stroke="#505050" stroke-width="0.8"/>
<rect x="256.4" y="176.5" width="95.1" height="90.2" fill="none" stroke="#959595" stroke-width="1"/>
<path d="M256.4 176.5V266.7H351.5" fill="none" stroke="#505050" stroke-width="1"/>
<line x1="254.4" y1="263.36" x2="256.4" y2="263.36" stroke="#505050" stroke-width="0.8"/>
<line x1="254.4" y1="246.66" x2="256.4" y2="246.66" stroke="#505050" stroke-width="0.8"/>
<line x1="254.4" y1="229.95" x2="256.4" y2="229.95" stroke="#505050" stroke-width="0.8"/>
<line x1="254.4" y1="213.25" x2="256.4" y2="213.25" stroke="#505050" stroke-width="0.8"/>
<line x1="254.4" y1="196.54" x2="256.4" y2="196.54" stroke="#505050" stroke-width="0.8"/>
<line x1="254.4" y1="179.84" x2="256.4" y2="179.84" stroke="#505050" stroke-width="0.8"/>
<line x1="256.4" y1="266.7" x2="256.4" y2="268.5" stroke="#505050" stroke-width="0.8"/>
<line x1="280.42" y1="266.7" x2="280.42" y2="268.5" stroke="#505050" stroke-width="0.8"/>
<line x1="304.43" y1="266.7" x2="304.43" y2="268.5" stroke="#505050" stroke-width="0.8"/>
<line x1="328.45" y1="266.7" x2="328.45" y2="268.5" stroke="#505050" stroke-width="0.8"/>
<rect x="33.9" y="331.1" width="91.2" height="88.4" fill="none" stroke="#959595" stroke-width="1"/>
<path d="M33.9 331.1V419.5H125.1" fill="none" stroke="#505050" stroke-width="1"/>
<line x1="31.9" y1="416.23" x2="33.9" y2="416.23" stroke="#505050" stroke-width="0.8"/>
<line x1="31.9" y1="399.86" x2="33.9" y2="399.86" stroke="#505050" stroke-width="0.8"/>
<line x1="31.9" y1="383.49" x2="33.9" y2="383.49" stroke="#505050" stroke-width="0.8"/>
<line x1="31.9" y1="367.11" x2="33.9" y2="367.11" stroke="#505050" stroke-width="0.8"/>
<line x1="31.9" y1="350.74" x2="33.9" y2="350.74" stroke="#505050" stroke-width="0.8"/>
<line x1="31.9" y1="334.37" x2="33.9" y2="334.37" stroke="#505050" stroke-width="0.8"/>
<line x1="33.9" y1="419.5" x2="33.9" y2="421.3" stroke="#505050" stroke-width="0.8"/>
<line x1="62.08" y1="419.5" x2="62.08" y2="421.3" stroke="#505050" stroke-width="0.8"/>
<line x1="90.27" y1="419.5" x2="90.27" y2="421.3" stroke="#505050" stroke-width="0.8"/>
<line x1="118.45" y1="419.5" x2="118.45" y2="421.3" stroke="#505050" stroke-width="0.8"/>
<rect x="144.5" y="331" width="92.9" height="88.3" fill="none" stroke="#959595" stroke-width="1"/>
<path d="M144.5 331V419.3H237.4" fill="none" stroke="#505050" stroke-width="1"/>
<line x1="142.5" y1="416.03" x2="144.5" y2="416.03" stroke="#505050" stroke-width="0.8"/>
<line x1="142.5" y1="399.68" x2="144.5" y2="399.68" stroke="#505050" stroke-width="0.8"/>
<line x1="142.5" y1="383.33" x2="144.5" y2="383.33" stroke="#505050" stroke-width="0.8"/>
<line x1="142.5" y1="366.97" x2="144.5" y2="366.97" stroke="#505050" stroke-width="0.8"/>
<line x1="142.5" y1="350.62" x2="144.5" y2="350.62" stroke="#505050" stroke-width="0.8"/>
<line x1="142.5" y1="334.27" x2="144.5" y2="334.27" stroke="#505050" stroke-width="0.8"/>
<line x1="144.5" y1="419.3" x2="144.5" y2="421.1" stroke="#505050" stroke-width="0.8"/>
<line x1="171.6" y1="419.3" x2="171.6" y2="421.1" stroke="#505050" stroke-width="0.8"/>
<line x1="198.7" y1="419.3" x2="198.7" y2="421.1" stroke="#505050" stroke-width="0.8"/>
<line x1="225.8" y1="419.3" x2="225.8" y2="421.1" stroke="#505050" stroke-width="0.8"/>
<rect x="257.4" y="330.6" width="93.2" height="87.2" fill="none" stroke="#959595" stroke-width="1"/>
<path d="M257.4 330.6V417.8H350.6" fill="none" stroke="#505050" stroke-width="1"/>
<line x1="255.4" y1="414.57" x2="257.4" y2="414.57" stroke="#505050" stroke-width="0.8"/>
<line x1="255.4" y1="398.42" x2="257.4" y2="398.42" stroke="#505050" stroke-width="0.8"/>
<line x1="255.4" y1="382.27" x2="257.4" y2="382.27" stroke="#505050" stroke-width="0.8"/>
<line x1="255.4" y1="366.13" x2="257.4" y2="366.13" stroke="#505050" stroke-width="0.8"/>
<line x1="255.4" y1="349.98" x2="257.4" y2="349.98" stroke="#505050" stroke-width="0.8"/>
<line x1="255.4" y1="333.83" x2="257.4" y2="333.83" stroke="#505050" stroke-width="0.8"/>
<line x1="257.4" y1="417.8" x2="257.4" y2="419.6" stroke="#505050" stroke-width="0.8"/>
<line x1="271.13" y1="417.8" x2="271.13" y2="419.6" stroke="#505050" stroke-width="0.8"/>
<line x1="284.85" y1="417.8" x2="284.85" y2="419.6" stroke="#505050" stroke-width="0.8"/>
<line x1="298.58" y1="417.8" x2="298.58" y2="419.6" stroke="#505050" stroke-width="0.8"/>
<line x1="312.3" y1="417.8" x2="312.3" y2="419.6" stroke="#505050" stroke-width="0.8"/>
<line x1="326.03" y1="417.8" x2="326.03" y2="419.6" stroke="#505050" stroke-width="0.8"/>
<line x1="339.76" y1="417.8" x2="339.76" y2="419.6" stroke="#505050" stroke-width="0.8"/>
<rect x="367.4" y="330.8" width="91.4" height="87" fill="none" stroke="#959595" stroke-width="1"/>
<path d="M367.4 330.8V417.8H458.8" fill="none" stroke="#505050" stroke-width="1"/>
<line x1="365.4" y1="414.58" x2="367.4" y2="414.58" stroke="#505050" stroke-width="0.8"/>
<line x1="365.4" y1="398.47" x2="367.4" y2="398.47" stroke="#505050" stroke-width="0.8"/>
<line x1="365.4" y1="382.36" x2="367.4" y2="382.36" stroke="#505050" stroke-width="0.8"/>
<line x1="365.4" y1="366.24" x2="367.4" y2="366.24" stroke="#505050" stroke-width="0.8"/>
<line x1="365.4" y1="350.13" x2="367.4" y2="350.13" stroke="#505050" stroke-width="0.8"/>
<line x1="365.4" y1="334.02" x2="367.4" y2="334.02" stroke="#505050" stroke-width="0.8"/>
<line x1="367.4" y1="417.8" x2="367.4" y2="419.6" stroke="#505050" stroke-width="0.8"/>
<line x1="380.38" y1="417.8" x2="380.38" y2="419.6" stroke="#505050" stroke-width="0.8"/>
<line x1="393.37" y1="417.8" x2="393.37" y2="419.6" stroke="#505050" stroke-width="0.8"/>
<line x1="406.35" y1="417.8" x2="406.35" y2="419.6" stroke="#505050" stroke-width="0.8"/>
<line x1="419.33" y1="417.8" x2="419.33" y2="419.6" stroke="#505050" stroke-width="0.8"/>
<line x1="432.31" y1="417.8" x2="432.31" y2="419.6" stroke="#505050" stroke-width="0.8"/>
<line x1="445.3" y1="417.8" x2="445.3" y2="419.6" stroke="#505050" stroke-width="0.8"/>
<line x1="458.28" y1="417.8" x2="458.28" y2="419.6" stroke="#505050" stroke-width="0.8"/>
<rect x="33" y="443.4" width="92.5" height="89.4" fill="none" stroke="#959595" stroke-width="1"/>
<path d="M33 443.4V532.8H125.5" fill="none" stroke="#505050" stroke-width="1"/>
<line x1="31" y1="529.49" x2="33" y2="529.49" stroke="#505050" stroke-width="0.8"/>
<line x1="31" y1="512.93" x2="33" y2="512.93" stroke="#505050" stroke-width="0.8"/>
<line x1="31" y1="496.38" x2="33" y2="496.38" stroke="#505050" stroke-width="0.8"/>
<line x1="31" y1="479.82" x2="33" y2="479.82" stroke="#505050" stroke-width="0.8"/>
<line x1="31" y1="463.27" x2="33" y2="463.27" stroke="#505050" stroke-width="0.8"/>
<line x1="31" y1="446.71" x2="33" y2="446.71" stroke="#505050" stroke-width="0.8"/>
<line x1="33" y1="532.8" x2="33" y2="534.6" stroke="#505050" stroke-width="0.8"/>
<line x1="55.45" y1="532.8" x2="55.45" y2="534.6" stroke="#505050" stroke-width="0.8"/>
<line x1="77.9" y1="532.8" x2="77.9" y2="534.6" stroke="#505050" stroke-width="0.8"/>
<line x1="100.35" y1="532.8" x2="100.35" y2="534.6" stroke="#505050" stroke-width="0.8"/>
<line x1="122.81" y1="532.8" x2="122.81" y2="534.6" stroke="#505050" stroke-width="0.8"/>
<rect x="142.9" y="443" width="96.1" height="89" fill="none" stroke="#959595" stroke-width="1"/>
<path d="M142.9 443V532H239" fill="none" stroke="#505050" stroke-width="1"/>
<line x1="140.9" y1="528.7" x2="142.9" y2="528.7" stroke="#505050" stroke-width="0.8"/>
<line x1="140.9" y1="512.22" x2="142.9" y2="512.22" stroke="#505050" stroke-width="0.8"/>
<line x1="140.9" y1="495.74" x2="142.9" y2="495.74" stroke="#505050" stroke-width="0.8"/>
<line x1="140.9" y1="479.26" x2="142.9" y2="479.26" stroke="#505050" stroke-width="0.8"/>
<line x1="140.9" y1="462.78" x2="142.9" y2="462.78" stroke="#505050" stroke-width="0.8"/>
<line x1="140.9" y1="446.3" x2="142.9" y2="446.3" stroke="#505050" stroke-width="0.8"/>
<line x1="142.9" y1="532" x2="142.9" y2="533.8" stroke="#505050" stroke-width="0.8"/>
<line x1="162.04" y1="532" x2="162.04" y2="533.8" stroke="#505050" stroke-width="0.8"/>
<line x1="181.19" y1="532" x2="181.19" y2="533.8" stroke="#505050" stroke-width="0.8"/>
<line x1="200.33" y1="532" x2="200.33" y2="533.8" stroke="#505050" stroke-width="0.8"/>
<line x1="219.47" y1="532" x2="219.47" y2="533.8" stroke="#505050" stroke-width="0.8"/>
<line x1="238.62" y1="532" x2="238.62" y2="533.8" stroke="#505050" stroke-width="0.8"/>
<rect x="258.3" y="443.4" width="93.3" height="88.2" fill="none" stroke="#959595" stroke-width="1"/>
<path d="M258.3 443.4V531.6H351.6" fill="none" stroke="#505050" stroke-width="1"/>
<line x1="256.3" y1="528.33" x2="258.3" y2="528.33" stroke="#505050" stroke-width="0.8"/>
<line x1="256.3" y1="512" x2="258.3" y2="512" stroke="#505050" stroke-width="0.8"/>
<line x1="256.3" y1="495.67" x2="258.3" y2="495.67" stroke="#505050" stroke-width="0.8"/>
<line x1="256.3" y1="479.33" x2="258.3" y2="479.33" stroke="#505050" stroke-width="0.8"/>
<line x1="256.3" y1="463" x2="258.3" y2="463" stroke="#505050" stroke-width="0.8"/>
<line x1="256.3" y1="446.67" x2="258.3" y2="446.67" stroke="#505050" stroke-width="0.8"/>
<line x1="258.3" y1="531.6" x2="258.3" y2="533.4" stroke="#505050" stroke-width="0.8"/>
<line x1="283.85" y1="531.6" x2="283.85" y2="533.4" stroke="#505050" stroke-width="0.8"/>
<line x1="309.4" y1="531.6" x2="309.4" y2="533.4" stroke="#505050" stroke-width="0.8"/>
<line x1="334.94" y1="531.6" x2="334.94" y2="533.4" stroke="#505050" stroke-width="0.8"/>
<rect x="369" y="444.5" width="91.5" height="86" fill="none" stroke="#959595" stroke-width="1"/>
<path d="M369 444.5V530.5H460.5" fill="none" stroke="#505050" stroke-width="1"/>
<line x1="367" y1="527.31" x2="369" y2="527.31" stroke="#505050" stroke-width="0.8"/>
<line x1="367" y1="511.39" x2="369" y2="511.39" stroke="#505050" stroke-width="0.8"/>
<line x1="367" y1="495.46" x2="369" y2="495.46" stroke="#505050" stroke-width="0.8"/>
<line x1="367" y1="479.54" x2="369" y2="479.54" stroke="#505050" stroke-width="0.8"/>
<line x1="367" y1="463.61" x2="369" y2="463.61" stroke="#505050" stroke-width="0.8"/>
<line x1="367" y1="447.69" x2="369" y2="447.69" stroke="#505050" stroke-width="0.8"/>
<line x1="369" y1="530.5" x2="369" y2="532.3" stroke="#505050" stroke-width="0.8"/>
<line x1="390.38" y1="530.5" x2="390.38" y2="532.3" stroke="#505050" stroke-width="0.8"/>
<line x1="411.76" y1="530.5" x2="411.76" y2="532.3" stroke="#505050" stroke-width="0.8"/>
<line x1="433.14" y1="530.5" x2="433.14" y2="532.3" stroke="#505050" stroke-width="0.8"/>
<line x1="454.51" y1="530.5" x2="454.51" y2="532.3" stroke="#505050" stroke-width="0.8"/>
<g style="filter:grayscale(1)">
<text x="0" y="0" font-size="150" text-anchor="start" fill="#111" font-family='"Liberation Serif", serif' transform="translate(1.7 14.8) scale(0.11 0.1)" stroke="#111" stroke-width="1.2">a</text>
<text x="0" y="0" font-size="153" text-anchor="start" fill="#111" font-family='"Liberation Serif", serif' transform="translate(2.6 288.8) scale(0.11 0.1)" stroke="#111" stroke-width="1.2">b</text>
<text x="0" y="0" font-size="58" text-anchor="end" fill="#5f5f5f" font-family='"Liberation Sans", sans-serif' transform="translate(54.67 35) rotate(-45) scale(0.1 0.1)" stroke="#5f5f5f" stroke-width="1.5">ACC</text>
<text x="0" y="0" font-size="58" text-anchor="end" fill="#5f5f5f" font-family='"Liberation Sans", sans-serif' transform="translate(66.4 35) rotate(-45) scale(0.1 0.1)" stroke="#5f5f5f" stroke-width="1.5">BLCA</text>
<text x="0" y="0" font-size="58" text-anchor="end" fill="#5f5f5f" font-family='"Liberation Sans", sans-serif' transform="translate(78.13 35) rotate(-45) scale(0.1 0.1)" stroke="#5f5f5f" stroke-width="1.5">BRCA</text>
<text x="0" y="0" font-size="58" text-anchor="end" fill="#5f5f5f" font-family='"Liberation Sans", sans-serif' transform="translate(89.87 35) rotate(-45) scale(0.1 0.1)" stroke="#5f5f5f" stroke-width="1.5">CESC</text>
<text x="0" y="0" font-size="58" text-anchor="end" fill="#5f5f5f" font-family='"Liberation Sans", sans-serif' transform="translate(101.6 35) rotate(-45) scale(0.1 0.1)" stroke="#5f5f5f" stroke-width="1.5">CHOL</text>
<text x="0" y="0" font-size="58" text-anchor="end" fill="#5f5f5f" font-family='"Liberation Sans", sans-serif' transform="translate(113.33 35) rotate(-45) scale(0.1 0.1)" stroke="#5f5f5f" stroke-width="1.5">COAD</text>
<text x="0" y="0" font-size="58" text-anchor="end" fill="#5f5f5f" font-family='"Liberation Sans", sans-serif' transform="translate(125.07 35) rotate(-45) scale(0.1 0.1)" stroke="#5f5f5f" stroke-width="1.5">DLBC</text>
<text x="0" y="0" font-size="58" text-anchor="end" fill="#5f5f5f" font-family='"Liberation Sans", sans-serif' transform="translate(136.8 35) rotate(-45) scale(0.1 0.1)" stroke="#5f5f5f" stroke-width="1.5">ESCA</text>
<text x="0" y="0" font-size="58" text-anchor="end" fill="#5f5f5f" font-family='"Liberation Sans", sans-serif' transform="translate(148.53 35) rotate(-45) scale(0.1 0.1)" stroke="#5f5f5f" stroke-width="1.5">GBM</text>
<text x="0" y="0" font-size="58" text-anchor="end" fill="#5f5f5f" font-family='"Liberation Sans", sans-serif' transform="translate(160.27 35) rotate(-45) scale(0.1 0.1)" stroke="#5f5f5f" stroke-width="1.5">HNSC</text>
<text x="0" y="0" font-size="58" text-anchor="end" fill="#5f5f5f" font-family='"Liberation Sans", sans-serif' transform="translate(172 35) rotate(-45) scale(0.1 0.1)" stroke="#5f5f5f" stroke-width="1.5">KICH</text>
<text x="0" y="0" font-size="58" text-anchor="end" fill="#5f5f5f" font-family='"Liberation Sans", sans-serif' transform="translate(183.73 35) rotate(-45) scale(0.1 0.1)" stroke="#5f5f5f" stroke-width="1.5">KIRC</text>
<text x="0" y="0" font-size="58" text-anchor="end" fill="#5f5f5f" font-family='"Liberation Sans", sans-serif' transform="translate(195.47 35) rotate(-45) scale(0.1 0.1)" stroke="#5f5f5f" stroke-width="1.5">KIRP</text>
<text x="0" y="0" font-size="58" text-anchor="end" fill="#5f5f5f" font-family='"Liberation Sans", sans-serif' transform="translate(207.2 35) rotate(-45) scale(0.1 0.1)" stroke="#5f5f5f" stroke-width="1.5">LAML</text>
<text x="0" y="0" font-size="58" text-anchor="end" fill="#5f5f5f" font-family='"Liberation Sans", sans-serif' transform="translate(218.93 35) rotate(-45) scale(0.1 0.1)" stroke="#5f5f5f" stroke-width="1.5">LGG</text>
<text x="0" y="0" font-size="58" text-anchor="end" fill="#5f5f5f" font-family='"Liberation Sans", sans-serif' transform="translate(230.67 35) rotate(-45) scale(0.1 0.1)" stroke="#5f5f5f" stroke-width="1.5">LIHC</text>
<text x="0" y="0" font-size="58" text-anchor="end" fill="#5f5f5f" font-family='"Liberation Sans", sans-serif' transform="translate(242.4 35) rotate(-45) scale(0.1 0.1)" stroke="#5f5f5f" stroke-width="1.5">LUAD</text>
<text x="0" y="0" font-size="58" text-anchor="end" fill="#5f5f5f" font-family='"Liberation Sans", sans-serif' transform="translate(254.13 35) rotate(-45) scale(0.1 0.1)" stroke="#5f5f5f" stroke-width="1.5">LUSC</text>
<text x="0" y="0" font-size="58" text-anchor="end" fill="#5f5f5f" font-family='"Liberation Sans", sans-serif' transform="translate(265.87 35) rotate(-45) scale(0.1 0.1)" stroke="#5f5f5f" stroke-width="1.5">MESO</text>
<text x="0" y="0" font-size="58" text-anchor="end" fill="#5f5f5f" font-family='"Liberation Sans", sans-serif' transform="translate(277.6 35) rotate(-45) scale(0.1 0.1)" stroke="#5f5f5f" stroke-width="1.5">OV</text>
<text x="0" y="0" font-size="58" text-anchor="end" fill="#5f5f5f" font-family='"Liberation Sans", sans-serif' transform="translate(289.33 35) rotate(-45) scale(0.1 0.1)" stroke="#5f5f5f" stroke-width="1.5">PAAD</text>
<text x="0" y="0" font-size="58" text-anchor="end" fill="#5f5f5f" font-family='"Liberation Sans", sans-serif' transform="translate(301.07 35) rotate(-45) scale(0.1 0.1)" stroke="#5f5f5f" stroke-width="1.5">PCPG</text>
<text x="0" y="0" font-size="58" text-anchor="end" fill="#5f5f5f" font-family='"Liberation Sans", sans-serif' transform="translate(312.8 35) rotate(-45) scale(0.1 0.1)" stroke="#5f5f5f" stroke-width="1.5">PRAD</text>
<text x="0" y="0" font-size="58" text-anchor="end" fill="#5f5f5f" font-family='"Liberation Sans", sans-serif' transform="translate(324.53 35) rotate(-45) scale(0.1 0.1)" stroke="#5f5f5f" stroke-width="1.5">READ</text>
<text x="0" y="0" font-size="58" text-anchor="end" fill="#5f5f5f" font-family='"Liberation Sans", sans-serif' transform="translate(336.27 35) rotate(-45) scale(0.1 0.1)" stroke="#5f5f5f" stroke-width="1.5">SARC</text>
<text x="0" y="0" font-size="58" text-anchor="end" fill="#5f5f5f" font-family='"Liberation Sans", sans-serif' transform="translate(348 35) rotate(-45) scale(0.1 0.1)" stroke="#5f5f5f" stroke-width="1.5">SKCM</text>
<text x="0" y="0" font-size="58" text-anchor="end" fill="#5f5f5f" font-family='"Liberation Sans", sans-serif' transform="translate(359.73 35) rotate(-45) scale(0.1 0.1)" stroke="#5f5f5f" stroke-width="1.5">STAD</text>
<text x="0" y="0" font-size="58" text-anchor="end" fill="#5f5f5f" font-family='"Liberation Sans", sans-serif' transform="translate(371.47 35) rotate(-45) scale(0.1 0.1)" stroke="#5f5f5f" stroke-width="1.5">TGCT</text>
<text x="0" y="0" font-size="58" text-anchor="end" fill="#5f5f5f" font-family='"Liberation Sans", sans-serif' transform="translate(383.2 35) rotate(-45) scale(0.1 0.1)" stroke="#5f5f5f" stroke-width="1.5">THCA</text>
<text x="0" y="0" font-size="58" text-anchor="end" fill="#5f5f5f" font-family='"Liberation Sans", sans-serif' transform="translate(394.93 35) rotate(-45) scale(0.1 0.1)" stroke="#5f5f5f" stroke-width="1.5">THYM</text>
<text x="0" y="0" font-size="58" text-anchor="end" fill="#5f5f5f" font-family='"Liberation Sans", sans-serif' transform="translate(406.67 35) rotate(-45) scale(0.1 0.1)" stroke="#5f5f5f" stroke-width="1.5">UCEC</text>
<text x="0" y="0" font-size="58" text-anchor="end" fill="#5f5f5f" font-family='"Liberation Sans", sans-serif' transform="translate(418.4 35) rotate(-45) scale(0.1 0.1)" stroke="#5f5f5f" stroke-width="1.5">UCS</text>
<text x="0" y="0" font-size="58" text-anchor="end" fill="#5f5f5f" font-family='"Liberation Sans", sans-serif' transform="translate(430.13 35) rotate(-45) scale(0.1 0.1)" stroke="#5f5f5f" stroke-width="1.5">UVM</text>
<text x="0" y="0" font-size="52" text-anchor="end" fill="#3a3a3a" font-family='"Liberation Sans", sans-serif' transform="translate(42.6 22) scale(0.1 0.11)" stroke="#3a3a3a" stroke-width="0.8">HSP90B1</text>
<text x="0" y="0" font-size="49" text-anchor="start" fill="#333" font-family='"Liberation Sans", sans-serif' transform="translate(439.4 7.1) scale(0.1 0.1)" stroke="#333" stroke-width="0.8">log10(HR)</text>
<text x="0" y="0" font-size="53" text-anchor="start" fill="#333" font-family='"Liberation Sans", sans-serif' transform="translate(447.9 16.3) scale(0.1 0.1)" stroke="#333" stroke-width="0.8">0.3</text>
<text x="0" y="0" font-size="53" text-anchor="start" fill="#333" font-family='"Liberation Sans", sans-serif' transform="translate(447.9 23.5) scale(0.1 0.1)" stroke="#333" stroke-width="0.8">0.0</text>
<text x="0" y="0" font-size="53" text-anchor="start" fill="#333" font-family='"Liberation Sans", sans-serif' transform="translate(446.6 30.5) scale(0.1 0.1)" stroke="#333" stroke-width="0.8">−0.3</text>
<text x="0" y="0" font-size="62" text-anchor="end" fill="#5f5f5f" font-family='"Liberation Sans", sans-serif' transform="translate(58.48 308.8) scale(1 0.82) rotate(-45) scale(0.1 0.1)" stroke="#5f5f5f" stroke-width="1.5">ACC</text>
<text x="0" y="0" font-size="62" text-anchor="end" fill="#5f5f5f" font-family='"Liberation Sans", sans-serif' transform="translate(70.03 308.8) scale(1 0.82) rotate(-45) scale(0.1 0.1)" stroke="#5f5f5f" stroke-width="1.5">BLCA</text>
<text x="0" y="0" font-size="62" text-anchor="end" fill="#5f5f5f" font-family='"Liberation Sans", sans-serif' transform="translate(81.58 308.8) scale(1 0.82) rotate(-45) scale(0.1 0.1)" stroke="#5f5f5f" stroke-width="1.5">BRCA</text>
<text x="0" y="0" font-size="62" text-anchor="end" fill="#5f5f5f" font-family='"Liberation Sans", sans-serif' transform="translate(93.14 308.8) scale(1 0.82) rotate(-45) scale(0.1 0.1)" stroke="#5f5f5f" stroke-width="1.5">CESC</text>
<text x="0" y="0" font-size="62" text-anchor="end" fill="#5f5f5f" font-family='"Liberation Sans", sans-serif' transform="translate(104.69 308.8) scale(1 0.82) rotate(-45) scale(0.1 0.1)" stroke="#5f5f5f" stroke-width="1.5">CHOL</text>
<text x="0" y="0" font-size="62" text-anchor="end" fill="#5f5f5f" font-family='"Liberation Sans", sans-serif' transform="translate(116.24 308.8) scale(1 0.82) rotate(-45) scale(0.1 0.1)" stroke="#5f5f5f" stroke-width="1.5">COAD</text>
<text x="0" y="0" font-size="62" text-anchor="end" fill="#5f5f5f" font-family='"Liberation Sans", sans-serif' transform="translate(127.8 308.8) scale(1 0.82) rotate(-45) scale(0.1 0.1)" stroke="#5f5f5f" stroke-width="1.5">DLBC</text>
<text x="0" y="0" font-size="62" text-anchor="end" fill="#5f5f5f" font-family='"Liberation Sans", sans-serif' transform="translate(139.35 308.8) scale(1 0.82) rotate(-45) scale(0.1 0.1)" stroke="#5f5f5f" stroke-width="1.5">ESCA</text>
<text x="0" y="0" font-size="62" text-anchor="end" fill="#5f5f5f" font-family='"Liberation Sans", sans-serif' transform="translate(150.9 308.8) scale(1 0.82) rotate(-45) scale(0.1 0.1)" stroke="#5f5f5f" stroke-width="1.5">GBM</text>
<text x="0" y="0" font-size="62" text-anchor="end" fill="#5f5f5f" font-family='"Liberation Sans", sans-serif' transform="translate(162.45 308.8) scale(1 0.82) rotate(-45) scale(0.1 0.1)" stroke="#5f5f5f" stroke-width="1.5">HNSC</text>
<text x="0" y="0" font-size="62" text-anchor="end" fill="#5f5f5f" font-family='"Liberation Sans", sans-serif' transform="translate(174.01 308.8) scale(1 0.82) rotate(-45) scale(0.1 0.1)" stroke="#5f5f5f" stroke-width="1.5">KICH</text>
<text x="0" y="0" font-size="62" text-anchor="end" fill="#5f5f5f" font-family='"Liberation Sans", sans-serif' transform="translate(185.56 308.8) scale(1 0.82) rotate(-45) scale(0.1 0.1)" stroke="#5f5f5f" stroke-width="1.5">KIRC</text>
<text x="0" y="0" font-size="62" text-anchor="end" fill="#5f5f5f" font-family='"Liberation Sans", sans-serif' transform="translate(197.11 308.8) scale(1 0.82) rotate(-45) scale(0.1 0.1)" stroke="#5f5f5f" stroke-width="1.5">KIRP</text>
<text x="0" y="0" font-size="62" text-anchor="end" fill="#5f5f5f" font-family='"Liberation Sans", sans-serif' transform="translate(208.67 308.8) scale(1 0.82) rotate(-45) scale(0.1 0.1)" stroke="#5f5f5f" stroke-width="1.5">LGG</text>
<text x="0" y="0" font-size="62" text-anchor="end" fill="#5f5f5f" font-family='"Liberation Sans", sans-serif' transform="translate(220.22 308.8) scale(1 0.82) rotate(-45) scale(0.1 0.1)" stroke="#5f5f5f" stroke-width="1.5">LIHC</text>
<text x="0" y="0" font-size="62" text-anchor="end" fill="#5f5f5f" font-family='"Liberation Sans", sans-serif' transform="translate(231.77 308.8) scale(1 0.82) rotate(-45) scale(0.1 0.1)" stroke="#5f5f5f" stroke-width="1.5">LUAD</text>
<text x="0" y="0" font-size="62" text-anchor="end" fill="#5f5f5f" font-family='"Liberation Sans", sans-serif' transform="translate(243.33 308.8) scale(1 0.82) rotate(-45) scale(0.1 0.1)" stroke="#5f5f5f" stroke-width="1.5">LUSC</text>
<text x="0" y="0" font-size="62" text-anchor="end" fill="#5f5f5f" font-family='"Liberation Sans", sans-serif' transform="translate(254.88 308.8) scale(1 0.82) rotate(-45) scale(0.1 0.1)" stroke="#5f5f5f" stroke-width="1.5">MESO</text>
<text x="0" y="0" font-size="62" text-anchor="end" fill="#5f5f5f" font-family='"Liberation Sans", sans-serif' transform="translate(266.43 308.8) scale(1 0.82) rotate(-45) scale(0.1 0.1)" stroke="#5f5f5f" stroke-width="1.5">OV</text>
<text x="0" y="0" font-size="62" text-anchor="end" fill="#5f5f5f" font-family='"Liberation Sans", sans-serif' transform="translate(277.99 308.8) scale(1 0.82) rotate(-45) scale(0.1 0.1)" stroke="#5f5f5f" stroke-width="1.5">PAAD</text>
<text x="0" y="0" font-size="62" text-anchor="end" fill="#5f5f5f" font-family='"Liberation Sans", sans-serif' transform="translate(289.54 308.8) scale(1 0.82) rotate(-45) scale(0.1 0.1)" stroke="#5f5f5f" stroke-width="1.5">PCPG</text>
<text x="0" y="0" font-size="62" text-anchor="end" fill="#5f5f5f" font-family='"Liberation Sans", sans-serif' transform="translate(301.09 308.8) scale(1 0.82) rotate(-45) scale(0.1 0.1)" stroke="#5f5f5f" stroke-width="1.5">PRAD</text>
<text x="0" y="0" font-size="62" text-anchor="end" fill="#5f5f5f" font-family='"Liberation Sans", sans-serif' transform="translate(312.65 308.8) scale(1 0.82) rotate(-45) scale(0.1 0.1)" stroke="#5f5f5f" stroke-width="1.5">READ</text>
<text x="0" y="0" font-size="62" text-anchor="end" fill="#5f5f5f" font-family='"Liberation Sans", sans-serif' transform="translate(324.2 308.8) scale(1 0.82) rotate(-45) scale(0.1 0.1)" stroke="#5f5f5f" stroke-width="1.5">SARC</text>
<text x="0" y="0" font-size="62" text-anchor="end" fill="#5f5f5f" font-family='"Liberation Sans", sans-serif' transform="translate(335.75 308.8) scale(1 0.82) rotate(-45) scale(0.1 0.1)" stroke="#5f5f5f" stroke-width="1.5">SKCM</text>
<text x="0" y="0" font-size="62" text-anchor="end" fill="#5f5f5f" font-family='"Liberation Sans", sans-serif' transform="translate(347.3 308.8) scale(1 0.82) rotate(-45) scale(0.1 0.1)" stroke="#5f5f5f" stroke-width="1.5">STAD</text>
<text x="0" y="0" font-size="62" text-anchor="end" fill="#5f5f5f" font-family='"Liberation Sans", sans-serif' transform="translate(358.86 308.8) scale(1 0.82) rotate(-45) scale(0.1 0.1)" stroke="#5f5f5f" stroke-width="1.5">TGCT</text>
<text x="0" y="0" font-size="62" text-anchor="end" fill="#5f5f5f" font-family='"Liberation Sans", sans-serif' transform="translate(370.41 308.8) scale(1 0.82) rotate(-45) scale(0.1 0.1)" stroke="#5f5f5f" stroke-width="1.5">THCA</text>
<text x="0" y="0" font-size="62" text-anchor="end" fill="#5f5f5f" font-family='"Liberation Sans", sans-serif' transform="translate(381.96 308.8) scale(1 0.82) rotate(-45) scale(0.1 0.1)" stroke="#5f5f5f" stroke-width="1.5">THYM</text>
<text x="0" y="0" font-size="62" text-anchor="end" fill="#5f5f5f" font-family='"Liberation Sans", sans-serif' transform="translate(393.52 308.8) scale(1 0.82) rotate(-45) scale(0.1 0.1)" stroke="#5f5f5f" stroke-width="1.5">UCEC</text>
<text x="0" y="0" font-size="62" text-anchor="end" fill="#5f5f5f" font-family='"Liberation Sans", sans-serif' transform="translate(405.07 308.8) scale(1 0.82) rotate(-45) scale(0.1 0.1)" stroke="#5f5f5f" stroke-width="1.5">UCS</text>
<text x="0" y="0" font-size="62" text-anchor="end" fill="#5f5f5f" font-family='"Liberation Sans", sans-serif' transform="translate(416.62 308.8) scale(1 0.82) rotate(-45) scale(0.1 0.1)" stroke="#5f5f5f" stroke-width="1.5">UVM</text>
<text x="0" y="0" font-size="52" text-anchor="end" fill="#3a3a3a" font-family='"Liberation Sans", sans-serif' transform="translate(43.9 300.2) scale(0.1 0.11)" stroke="#3a3a3a" stroke-width="0.8">HSP90B1</text>
<text x="0" y="0" font-size="56" text-anchor="start" fill="#333" font-family='"Liberation Sans", sans-serif' transform="translate(425.7 284.3) scale(0.1 0.1)" stroke="#333" stroke-width="0.8">log10(HR)</text>
<text x="0" y="0" font-size="53" text-anchor="start" fill="#333" font-family='"Liberation Sans", sans-serif' transform="translate(432.9 292.9) scale(0.1 0.1)" stroke="#333" stroke-width="0.8">0.25</text>
<text x="0" y="0" font-size="53" text-anchor="start" fill="#333" font-family='"Liberation Sans", sans-serif' transform="translate(432.5 299.1) scale(0.1 0.1)" stroke="#333" stroke-width="0.8">0.00</text>
<text x="0" y="0" font-size="53" text-anchor="start" fill="#333" font-family='"Liberation Sans", sans-serif' transform="translate(432.9 305.8) scale(0.1 0.1)" stroke="#333" stroke-width="0.8">−0.25</text>
<text x="0" y="0" font-size="56" text-anchor="middle" fill="#2a2a2a" font-family='"Liberation Sans", sans-serif' transform="translate(34.2 152.81) rotate(-90) scale(0.1 0.11)" stroke="#2a2a2a" stroke-width="0.8">0.0</text>
<text x="0" y="0" font-size="56" text-anchor="middle" fill="#2a2a2a" font-family='"Liberation Sans", sans-serif' transform="translate(34.2 136.37) rotate(-90) scale(0.1 0.11)" stroke="#2a2a2a" stroke-width="0.8">0.2</text>
<text x="0" y="0" font-size="56" text-anchor="middle" fill="#2a2a2a" font-family='"Liberation Sans", sans-serif' transform="translate(34.2 119.92) rotate(-90) scale(0.1 0.11)" stroke="#2a2a2a" stroke-width="0.8">0.4</text>
<text x="0" y="0" font-size="56" text-anchor="middle" fill="#2a2a2a" font-family='"Liberation Sans", sans-serif' transform="translate(34.2 103.48) rotate(-90) scale(0.1 0.11)" stroke="#2a2a2a" stroke-width="0.8">0.6</text>
<text x="0" y="0" font-size="56" text-anchor="middle" fill="#2a2a2a" font-family='"Liberation Sans", sans-serif' transform="translate(34.2 87.03) rotate(-90) scale(0.1 0.11)" stroke="#2a2a2a" stroke-width="0.8">0.8</text>
<text x="0" y="0" font-size="56" text-anchor="middle" fill="#2a2a2a" font-family='"Liberation Sans", sans-serif' transform="translate(34.2 70.59) rotate(-90) scale(0.1 0.11)" stroke="#2a2a2a" stroke-width="0.8">1.0</text>
<text x="0" y="0" font-size="52" text-anchor="middle" fill="#2a2a2a" font-family='"Liberation Sans", sans-serif' transform="translate(27 111.7) rotate(-90) scale(0.1 0.11)" stroke="#2a2a2a" stroke-width="0.8">Percent survival</text>
<text x="0" y="0" font-size="45" text-anchor="middle" fill="#2a2a2a" font-family='"Liberation Sans", sans-serif' transform="translate(38.4 163.3) scale(0.1 0.11)" stroke="#2a2a2a" stroke-width="0.8">0</text>
<text x="0" y="0" font-size="45" text-anchor="middle" fill="#2a2a2a" font-family='"Liberation Sans", sans-serif' transform="translate(65.63 163.3) scale(0.1 0.11)" stroke="#2a2a2a" stroke-width="0.8">50</text>
<text x="0" y="0" font-size="45" text-anchor="middle" fill="#2a2a2a" font-family='"Liberation Sans", sans-serif' transform="translate(92.86 163.3) scale(0.1 0.11)" stroke="#2a2a2a" stroke-width="0.8">100</text>
<text x="0" y="0" font-size="45" text-anchor="middle" fill="#2a2a2a" font-family='"Liberation Sans", sans-serif' transform="translate(120.08 163.3) scale(0.1 0.11)" stroke="#2a2a2a" stroke-width="0.8">150</text>
<text x="0" y="0" font-size="46" text-anchor="middle" fill="#2a2a2a" font-family='"Liberation Sans", sans-serif' transform="translate(82 169.7) scale(0.1 0.11)" stroke="#2a2a2a" stroke-width="0.8">Months</text>
<text x="0" y="0" font-size="53.5" text-anchor="middle" fill="#2a2a2a" font-family='"Liberation Sans", sans-serif' transform="translate(82.4 66) scale(0.1 0.12)" stroke="#2a2a2a" stroke-width="0.8">Overall Survival</text>
<text x="0" y="0" font-size="44" text-anchor="start" fill="#2a2a2a" font-family='"Liberation Sans", sans-serif' transform="translate(80.64 73.75) scale(0.1 0.11)" stroke="#2a2a2a" stroke-width="0.8">Low HSP90B1 Group</text>
<text x="0" y="0" font-size="44" text-anchor="start" fill="#2a2a2a" font-family='"Liberation Sans", sans-serif' transform="translate(80.44 80.95) scale(0.1 0.11)" stroke="#2a2a2a" stroke-width="0.8">High HSP90B1 Group</text>
<text x="0" y="0" font-size="60" text-anchor="start" fill="#2a2a2a" font-family='"Liberation Sans", sans-serif' transform="translate(43.2 146.7) scale(0.1 0.11)" stroke="#2a2a2a" stroke-width="0.8">ACC</text>
<text x="0" y="0" font-size="44" text-anchor="start" fill="#2a2a2a" font-family='"Liberation Sans", sans-serif' transform="translate(40.7 153.8) scale(0.1 0.11)" stroke="#2a2a2a" stroke-width="0.8">Logrank p=0.006</text>
<text x="0" y="0" font-size="56" text-anchor="middle" fill="#2a2a2a" font-family='"Liberation Sans", sans-serif' transform="translate(141.4 152.33) rotate(-90) scale(0.1 0.11)" stroke="#2a2a2a" stroke-width="0.8">0.0</text>
<text x="0" y="0" font-size="56" text-anchor="middle" fill="#2a2a2a" font-family='"Liberation Sans", sans-serif' transform="translate(141.4 135.96) rotate(-90) scale(0.1 0.11)" stroke="#2a2a2a" stroke-width="0.8">0.2</text>
<text x="0" y="0" font-size="56" text-anchor="middle" fill="#2a2a2a" font-family='"Liberation Sans", sans-serif' transform="translate(141.4 119.59) rotate(-90) scale(0.1 0.11)" stroke="#2a2a2a" stroke-width="0.8">0.4</text>
<text x="0" y="0" font-size="56" text-anchor="middle" fill="#2a2a2a" font-family='"Liberation Sans", sans-serif' transform="translate(141.4 103.21) rotate(-90) scale(0.1 0.11)" stroke="#2a2a2a" stroke-width="0.8">0.6</text>
<text x="0" y="0" font-size="56" text-anchor="middle" fill="#2a2a2a" font-family='"Liberation Sans", sans-serif' transform="translate(141.4 86.84) rotate(-90) scale(0.1 0.11)" stroke="#2a2a2a" stroke-width="0.8">0.8</text>
<text x="0" y="0" font-size="56" text-anchor="middle" fill="#2a2a2a" font-family='"Liberation Sans", sans-serif' transform="translate(141.4 70.47) rotate(-90) scale(0.1 0.11)" stroke="#2a2a2a" stroke-width="0.8">1.0</text>
<text x="0" y="0" font-size="52" text-anchor="middle" fill="#2a2a2a" font-family='"Liberation Sans", sans-serif' transform="translate(134.2 111.4) rotate(-90) scale(0.1 0.11)" stroke="#2a2a2a" stroke-width="0.8">Percent survival</text>
<text x="0" y="0" font-size="45" text-anchor="middle" fill="#2a2a2a" font-family='"Liberation Sans", sans-serif' transform="translate(145.6 164.1) scale(0.1 0.11)" stroke="#2a2a2a" stroke-width="0.8">0</text>
<text x="0" y="0" font-size="45" text-anchor="middle" fill="#2a2a2a" font-family='"Liberation Sans", sans-serif' transform="translate(171.74 164.1) scale(0.1 0.11)" stroke="#2a2a2a" stroke-width="0.8">50</text>
<text x="0" y="0" font-size="45" text-anchor="middle" fill="#2a2a2a" font-family='"Liberation Sans", sans-serif' transform="translate(197.87 164.1) scale(0.1 0.11)" stroke="#2a2a2a" stroke-width="0.8">100</text>
<text x="0" y="0" font-size="45" text-anchor="middle" fill="#2a2a2a" font-family='"Liberation Sans", sans-serif' transform="translate(224.01 164.1) scale(0.1 0.11)" stroke="#2a2a2a" stroke-width="0.8">150</text>
<text x="0" y="0" font-size="46" text-anchor="middle" fill="#2a2a2a" font-family='"Liberation Sans", sans-serif' transform="translate(191.2 169.6) scale(0.1 0.11)" stroke="#2a2a2a" stroke-width="0.8">Months</text>
<text x="0" y="0" font-size="56" text-anchor="middle" fill="#2a2a2a" font-family='"Liberation Sans", sans-serif' transform="translate(191.6 66) scale(0.1 0.12)" stroke="#2a2a2a" stroke-width="0.8">Overall Survival</text>
<text x="0" y="0" font-size="44" text-anchor="start" fill="#2a2a2a" font-family='"Liberation Sans", sans-serif' transform="translate(191.94 75.05) scale(0.1 0.11)" stroke="#2a2a2a" stroke-width="0.8">Low HSP90B1 Group</text>
<text x="0" y="0" font-size="44" text-anchor="start" fill="#2a2a2a" font-family='"Liberation Sans", sans-serif' transform="translate(191.74 82.35) scale(0.1 0.11)" stroke="#2a2a2a" stroke-width="0.8">High HSP90B1 Group</text>
<text x="0" y="0" font-size="60" text-anchor="start" fill="#2a2a2a" font-family='"Liberation Sans", sans-serif' transform="translate(150.2 147.5) scale(0.1 0.11)" stroke="#2a2a2a" stroke-width="0.8">BLCA</text>
<text x="0" y="0" font-size="44" text-anchor="start" fill="#2a2a2a" font-family='"Liberation Sans", sans-serif' transform="translate(149.6 153.2) scale(0.1 0.11)" stroke="#2a2a2a" stroke-width="0.8">Logrank p=0.031</text>
<text x="0" y="0" font-size="50" text-anchor="middle" fill="#2a2a2a" font-family='"Liberation Sans", sans-serif' transform="translate(252.4 152.14) rotate(-90) scale(0.1 0.11)" stroke="#2a2a2a" stroke-width="0.8">0.0</text>
<text x="0" y="0" font-size="50" text-anchor="middle" fill="#2a2a2a" font-family='"Liberation Sans", sans-serif' transform="translate(252.4 135.87) rotate(-90) scale(0.1 0.11)" stroke="#2a2a2a" stroke-width="0.8">0.2</text>
<text x="0" y="0" font-size="50" text-anchor="middle" fill="#2a2a2a" font-family='"Liberation Sans", sans-serif' transform="translate(252.4 119.59) rotate(-90) scale(0.1 0.11)" stroke="#2a2a2a" stroke-width="0.8">0.4</text>
<text x="0" y="0" font-size="50" text-anchor="middle" fill="#2a2a2a" font-family='"Liberation Sans", sans-serif' transform="translate(252.4 103.31) rotate(-90) scale(0.1 0.11)" stroke="#2a2a2a" stroke-width="0.8">0.6</text>
<text x="0" y="0" font-size="50" text-anchor="middle" fill="#2a2a2a" font-family='"Liberation Sans", sans-serif' transform="translate(252.4 87.03) rotate(-90) scale(0.1 0.11)" stroke="#2a2a2a" stroke-width="0.8">0.8</text>
<text x="0" y="0" font-size="50" text-anchor="middle" fill="#2a2a2a" font-family='"Liberation Sans", sans-serif' transform="translate(252.4 70.76) rotate(-90) scale(0.1 0.11)" stroke="#2a2a2a" stroke-width="0.8">1.0</text>
<text x="0" y="0" font-size="52" text-anchor="middle" fill="#2a2a2a" font-family='"Liberation Sans", sans-serif' transform="translate(245.2 111.45) rotate(-90) scale(0.1 0.11)" stroke="#2a2a2a" stroke-width="0.8">Percent survival</text>
<text x="0" y="0" font-size="45" text-anchor="middle" fill="#2a2a2a" font-family='"Liberation Sans", sans-serif' transform="translate(256.6 164.1) scale(0.1 0.11)" stroke="#2a2a2a" stroke-width="0.8">0</text>
<text x="0" y="0" font-size="45" text-anchor="middle" fill="#2a2a2a" font-family='"Liberation Sans", sans-serif' transform="translate(276.93 164.1) scale(0.1 0.11)" stroke="#2a2a2a" stroke-width="0.8">20</text>
<text x="0" y="0" font-size="45" text-anchor="middle" fill="#2a2a2a" font-family='"Liberation Sans", sans-serif' transform="translate(297.25 164.1) scale(0.1 0.11)" stroke="#2a2a2a" stroke-width="0.8">40</text>
<text x="0" y="0" font-size="45" text-anchor="middle" fill="#2a2a2a" font-family='"Liberation Sans", sans-serif' transform="translate(317.58 164.1) scale(0.1 0.11)" stroke="#2a2a2a" stroke-width="0.8">60</text>
<text x="0" y="0" font-size="45" text-anchor="middle" fill="#2a2a2a" font-family='"Liberation Sans", sans-serif' transform="translate(337.9 164.1) scale(0.1 0.11)" stroke="#2a2a2a" stroke-width="0.8">80</text>
<text x="0" y="0" font-size="46" text-anchor="middle" fill="#2a2a2a" font-family='"Liberation Sans", sans-serif' transform="translate(303.05 169.4) scale(0.1 0.11)" stroke="#2a2a2a" stroke-width="0.8">Months</text>
<text x="0" y="0" font-size="56" text-anchor="middle" fill="#2a2a2a" font-family='"Liberation Sans", sans-serif' transform="translate(303.45 66.2) scale(0.1 0.12)" stroke="#2a2a2a" stroke-width="0.8">Overall Survival</text>
<text x="0" y="0" font-size="44" text-anchor="start" fill="#2a2a2a" font-family='"Liberation Sans", sans-serif' transform="translate(304.64 74.05) scale(0.1 0.11)" stroke="#2a2a2a" stroke-width="0.8">Low HSP90B1 Group</text>
<text x="0" y="0" font-size="44" text-anchor="start" fill="#2a2a2a" font-family='"Liberation Sans", sans-serif' transform="translate(304.44 81.05) scale(0.1 0.11)" stroke="#2a2a2a" stroke-width="0.8">High HSP90B1 Group</text>
<text x="0" y="0" font-size="60" text-anchor="start" fill="#2a2a2a" font-family='"Liberation Sans", sans-serif' transform="translate(262.8 147.5) scale(0.1 0.11)" stroke="#2a2a2a" stroke-width="0.8">GBM</text>
<text x="0" y="0" font-size="44" text-anchor="start" fill="#2a2a2a" font-family='"Liberation Sans", sans-serif' transform="translate(260.2 153.4) scale(0.1 0.11)" stroke="#2a2a2a" stroke-width="0.8">Logrank p=0.024</text>
<text x="0" y="0" font-size="56" text-anchor="middle" fill="#2a2a2a" font-family='"Liberation Sans", sans-serif' transform="translate(365.2 150.92) rotate(-90) scale(0.1 0.11)" stroke="#2a2a2a" stroke-width="0.8">0.0</text>
<text x="0" y="0" font-size="56" text-anchor="middle" fill="#2a2a2a" font-family='"Liberation Sans", sans-serif' transform="translate(365.2 134.51) rotate(-90) scale(0.1 0.11)" stroke="#2a2a2a" stroke-width="0.8">0.2</text>
<text x="0" y="0" font-size="56" text-anchor="middle" fill="#2a2a2a" font-family='"Liberation Sans", sans-serif' transform="translate(365.2 118.1) rotate(-90) scale(0.1 0.11)" stroke="#2a2a2a" stroke-width="0.8">0.4</text>
<text x="0" y="0" font-size="56" text-anchor="middle" fill="#2a2a2a" font-family='"Liberation Sans", sans-serif' transform="translate(365.2 101.7) rotate(-90) scale(0.1 0.11)" stroke="#2a2a2a" stroke-width="0.8">0.6</text>
<text x="0" y="0" font-size="56" text-anchor="middle" fill="#2a2a2a" font-family='"Liberation Sans", sans-serif' transform="translate(365.2 85.29) rotate(-90) scale(0.1 0.11)" stroke="#2a2a2a" stroke-width="0.8">0.8</text>
<text x="0" y="0" font-size="56" text-anchor="middle" fill="#2a2a2a" font-family='"Liberation Sans", sans-serif' transform="translate(365.2 68.88) rotate(-90) scale(0.1 0.11)" stroke="#2a2a2a" stroke-width="0.8">1.0</text>
<text x="0" y="0" font-size="56" text-anchor="middle" fill="#2a2a2a" font-family='"Liberation Sans", sans-serif' transform="translate(358 109.9) rotate(-90) scale(0.1 0.11)" stroke="#2a2a2a" stroke-width="0.8">Percent survival</text>
<text x="0" y="0" font-size="45" text-anchor="middle" fill="#2a2a2a" font-family='"Liberation Sans", sans-serif' transform="translate(369.4 162.4) scale(0.1 0.11)" stroke="#2a2a2a" stroke-width="0.8">0</text>
<text x="0" y="0" font-size="45" text-anchor="middle" fill="#2a2a2a" font-family='"Liberation Sans", sans-serif' transform="translate(392.08 162.4) scale(0.1 0.11)" stroke="#2a2a2a" stroke-width="0.8">50</text>
<text x="0" y="0" font-size="45" text-anchor="middle" fill="#2a2a2a" font-family='"Liberation Sans", sans-serif' transform="translate(414.75 162.4) scale(0.1 0.11)" stroke="#2a2a2a" stroke-width="0.8">100</text>
<text x="0" y="0" font-size="45" text-anchor="middle" fill="#2a2a2a" font-family='"Liberation Sans", sans-serif' transform="translate(437.43 162.4) scale(0.1 0.11)" stroke="#2a2a2a" stroke-width="0.8">150</text>
<text x="0" y="0" font-size="45" text-anchor="middle" fill="#2a2a2a" font-family='"Liberation Sans", sans-serif' transform="translate(460.11 162.4) scale(0.1 0.11)" stroke="#2a2a2a" stroke-width="0.8">200</text>
<text x="0" y="0" font-size="46" text-anchor="middle" fill="#2a2a2a" font-family='"Liberation Sans", sans-serif' transform="translate(415.6 169) scale(0.1 0.11)" stroke="#2a2a2a" stroke-width="0.8">Months</text>
<text x="0" y="0" font-size="57" text-anchor="middle" fill="#2a2a2a" font-family='"Liberation Sans", sans-serif' transform="translate(416 64.8) scale(0.1 0.12)" stroke="#2a2a2a" stroke-width="0.8">Overall Survival</text>
<text x="0" y="0" font-size="44" text-anchor="start" fill="#2a2a2a" font-family='"Liberation Sans", sans-serif' transform="translate(417.94 73.75) scale(0.1 0.11)" stroke="#2a2a2a" stroke-width="0.8">Low HSP90B1 Group</text>
<text x="0" y="0" font-size="44" text-anchor="start" fill="#2a2a2a" font-family='"Liberation Sans", sans-serif' transform="translate(417.74 81.15) scale(0.1 0.11)" stroke="#2a2a2a" stroke-width="0.8">High HSP90B1 Group</text>
<text x="0" y="0" font-size="60" text-anchor="start" fill="#2a2a2a" font-family='"Liberation Sans", sans-serif' transform="translate(376.7 147.2) scale(0.1 0.11)" stroke="#2a2a2a" stroke-width="0.8">KIRP</text>
<text x="0" y="0" font-size="44" text-anchor="start" fill="#2a2a2a" font-family='"Liberation Sans", sans-serif' transform="translate(372.8 151.3) scale(0.1 0.11)" stroke="#2a2a2a" stroke-width="0.8">Logrank p=0.029</text>
<text x="0" y="0" font-size="56" text-anchor="middle" fill="#2a2a2a" font-family='"Liberation Sans", sans-serif' transform="translate(34.5 263.22) rotate(-90) scale(0.1 0.11)" stroke="#2a2a2a" stroke-width="0.8">0.0</text>
<text x="0" y="0" font-size="56" text-anchor="middle" fill="#2a2a2a" font-family='"Liberation Sans", sans-serif' transform="translate(34.5 246.81) rotate(-90) scale(0.1 0.11)" stroke="#2a2a2a" stroke-width="0.8">0.2</text>
<text x="0" y="0" font-size="56" text-anchor="middle" fill="#2a2a2a" font-family='"Liberation Sans", sans-serif' transform="translate(34.5 230.4) rotate(-90) scale(0.1 0.11)" stroke="#2a2a2a" stroke-width="0.8">0.4</text>
<text x="0" y="0" font-size="56" text-anchor="middle" fill="#2a2a2a" font-family='"Liberation Sans", sans-serif' transform="translate(34.5 214) rotate(-90) scale(0.1 0.11)" stroke="#2a2a2a" stroke-width="0.8">0.6</text>
<text x="0" y="0" font-size="56" text-anchor="middle" fill="#2a2a2a" font-family='"Liberation Sans", sans-serif' transform="translate(34.5 197.59) rotate(-90) scale(0.1 0.11)" stroke="#2a2a2a" stroke-width="0.8">0.8</text>
<text x="0" y="0" font-size="56" text-anchor="middle" fill="#2a2a2a" font-family='"Liberation Sans", sans-serif' transform="translate(34.5 181.18) rotate(-90) scale(0.1 0.11)" stroke="#2a2a2a" stroke-width="0.8">1.0</text>
<text x="0" y="0" font-size="52" text-anchor="middle" fill="#2a2a2a" font-family='"Liberation Sans", sans-serif' transform="translate(27.3 222.2) rotate(-90) scale(0.1 0.11)" stroke="#2a2a2a" stroke-width="0.8">Percent survival</text>
<text x="0" y="0" font-size="45" text-anchor="middle" fill="#2a2a2a" font-family='"Liberation Sans", sans-serif' transform="translate(38.7 274.8) scale(0.1 0.11)" stroke="#2a2a2a" stroke-width="0.8">0</text>
<text x="0" y="0" font-size="45" text-anchor="middle" fill="#2a2a2a" font-family='"Liberation Sans", sans-serif' transform="translate(58.8 274.8) scale(0.1 0.11)" stroke="#2a2a2a" stroke-width="0.8">50</text>
<text x="0" y="0" font-size="45" text-anchor="middle" fill="#2a2a2a" font-family='"Liberation Sans", sans-serif' transform="translate(78.91 274.8) scale(0.1 0.11)" stroke="#2a2a2a" stroke-width="0.8">100</text>
<text x="0" y="0" font-size="45" text-anchor="middle" fill="#2a2a2a" font-family='"Liberation Sans", sans-serif' transform="translate(99.01 274.8) scale(0.1 0.11)" stroke="#2a2a2a" stroke-width="0.8">150</text>
<text x="0" y="0" font-size="45" text-anchor="middle" fill="#2a2a2a" font-family='"Liberation Sans", sans-serif' transform="translate(119.12 274.8) scale(0.1 0.11)" stroke="#2a2a2a" stroke-width="0.8">200</text>
<text x="0" y="0" font-size="46" text-anchor="middle" fill="#2a2a2a" font-family='"Liberation Sans", sans-serif' transform="translate(82.65 281.4) scale(0.1 0.11)" stroke="#2a2a2a" stroke-width="0.8">Months</text>
<text x="0" y="0" font-size="56" text-anchor="middle" fill="#2a2a2a" font-family='"Liberation Sans", sans-serif' transform="translate(83.05 176.6) scale(0.1 0.12)" stroke="#2a2a2a" stroke-width="0.8">Overall Survival</text>
<text x="0" y="0" font-size="44" text-anchor="start" fill="#2a2a2a" font-family='"Liberation Sans", sans-serif' transform="translate(81.74 185.05) scale(0.1 0.11)" stroke="#2a2a2a" stroke-width="0.8">Low HSP90B1 Group</text>
<text x="0" y="0" font-size="44" text-anchor="start" fill="#2a2a2a" font-family='"Liberation Sans", sans-serif' transform="translate(81.54 192.35) scale(0.1 0.11)" stroke="#2a2a2a" stroke-width="0.8">High HSP90B1 Group</text>
<text x="0" y="0" font-size="60" text-anchor="start" fill="#2a2a2a" font-family='"Liberation Sans", sans-serif' transform="translate(42.9 257.5) scale(0.1 0.11)" stroke="#2a2a2a" stroke-width="0.8">LGG</text>
<text x="0" y="0" font-size="44" text-anchor="start" fill="#2a2a2a" font-family='"Liberation Sans", sans-serif' transform="translate(41.2 263.4) scale(0.1 0.11)" stroke="#2a2a2a" stroke-width="0.8">Logrank p=0.019</text>
<text x="0" y="0" font-size="56" text-anchor="middle" fill="#2a2a2a" font-family='"Liberation Sans", sans-serif' transform="translate(143.1 263.88) rotate(-90) scale(0.1 0.11)" stroke="#2a2a2a" stroke-width="0.8">0.0</text>
<text x="0" y="0" font-size="56" text-anchor="middle" fill="#2a2a2a" font-family='"Liberation Sans", sans-serif' transform="translate(143.1 247.27) rotate(-90) scale(0.1 0.11)" stroke="#2a2a2a" stroke-width="0.8">0.2</text>
<text x="0" y="0" font-size="56" text-anchor="middle" fill="#2a2a2a" font-family='"Liberation Sans", sans-serif' transform="translate(143.1 230.66) rotate(-90) scale(0.1 0.11)" stroke="#2a2a2a" stroke-width="0.8">0.4</text>
<text x="0" y="0" font-size="56" text-anchor="middle" fill="#2a2a2a" font-family='"Liberation Sans", sans-serif' transform="translate(143.1 214.04) rotate(-90) scale(0.1 0.11)" stroke="#2a2a2a" stroke-width="0.8">0.6</text>
<text x="0" y="0" font-size="56" text-anchor="middle" fill="#2a2a2a" font-family='"Liberation Sans", sans-serif' transform="translate(143.1 197.43) rotate(-90) scale(0.1 0.11)" stroke="#2a2a2a" stroke-width="0.8">0.8</text>
<text x="0" y="0" font-size="56" text-anchor="middle" fill="#2a2a2a" font-family='"Liberation Sans", sans-serif' transform="translate(143.1 180.82) rotate(-90) scale(0.1 0.11)" stroke="#2a2a2a" stroke-width="0.8">1.0</text>
<text x="0" y="0" font-size="52" text-anchor="middle" fill="#2a2a2a" font-family='"Liberation Sans", sans-serif' transform="translate(135.9 222.35) rotate(-90) scale(0.1 0.11)" stroke="#2a2a2a" stroke-width="0.8">Percent survival</text>
<text x="0" y="0" font-size="45" text-anchor="middle" fill="#2a2a2a" font-family='"Liberation Sans", sans-serif' transform="translate(147.3 275.4) scale(0.1 0.11)" stroke="#2a2a2a" stroke-width="0.8">0</text>
<text x="0" y="0" font-size="45" text-anchor="middle" fill="#2a2a2a" font-family='"Liberation Sans", sans-serif' transform="translate(165.69 275.4) scale(0.1 0.11)" stroke="#2a2a2a" stroke-width="0.8">50</text>
<text x="0" y="0" font-size="45" text-anchor="middle" fill="#2a2a2a" font-family='"Liberation Sans", sans-serif' transform="translate(184.09 275.4) scale(0.1 0.11)" stroke="#2a2a2a" stroke-width="0.8">100</text>
<text x="0" y="0" font-size="45" text-anchor="middle" fill="#2a2a2a" font-family='"Liberation Sans", sans-serif' transform="translate(202.48 275.4) scale(0.1 0.11)" stroke="#2a2a2a" stroke-width="0.8">150</text>
<text x="0" y="0" font-size="45" text-anchor="middle" fill="#2a2a2a" font-family='"Liberation Sans", sans-serif' transform="translate(220.87 275.4) scale(0.1 0.11)" stroke="#2a2a2a" stroke-width="0.8">200</text>
<text x="0" y="0" font-size="45" text-anchor="middle" fill="#2a2a2a" font-family='"Liberation Sans", sans-serif' transform="translate(239.26 275.4) scale(0.1 0.11)" stroke="#2a2a2a" stroke-width="0.8">250</text>
<text x="0" y="0" font-size="46" text-anchor="middle" fill="#2a2a2a" font-family='"Liberation Sans", sans-serif' transform="translate(193.25 281.3) scale(0.1 0.11)" stroke="#2a2a2a" stroke-width="0.8">Months</text>
<text x="0" y="0" font-size="56" text-anchor="middle" fill="#2a2a2a" font-family='"Liberation Sans", sans-serif' transform="translate(193.65 176.1) scale(0.1 0.12)" stroke="#2a2a2a" stroke-width="0.8">Overall Survival</text>
<text x="0" y="0" font-size="44" text-anchor="start" fill="#2a2a2a" font-family='"Liberation Sans", sans-serif' transform="translate(194.34 184.05) scale(0.1 0.11)" stroke="#2a2a2a" stroke-width="0.8">Low HSP90B1 Group</text>
<text x="0" y="0" font-size="44" text-anchor="start" fill="#2a2a2a" font-family='"Liberation Sans", sans-serif' transform="translate(194.14 191.55) scale(0.1 0.11)" stroke="#2a2a2a" stroke-width="0.8">High HSP90B1 Group</text>
<text x="0" y="0" font-size="60" text-anchor="start" fill="#2a2a2a" font-family='"Liberation Sans", sans-serif' transform="translate(149.9 258.8) scale(0.1 0.11)" stroke="#2a2a2a" stroke-width="0.8">LUAD</text>
<text x="0" y="0" font-size="44" text-anchor="start" fill="#2a2a2a" font-family='"Liberation Sans", sans-serif' transform="translate(149.3 264.5) scale(0.1 0.11)" stroke="#2a2a2a" stroke-width="0.8">Logrank p=0.022</text>
<text x="0" y="0" font-size="56" text-anchor="middle" fill="#2a2a2a" font-family='"Liberation Sans", sans-serif' transform="translate(252.2 263.36) rotate(-90) scale(0.1 0.11)" stroke="#2a2a2a" stroke-width="0.8">0.0</text>
<text x="0" y="0" font-size="56" text-anchor="middle" fill="#2a2a2a" font-family='"Liberation Sans", sans-serif' transform="translate(252.2 246.66) rotate(-90) scale(0.1 0.11)" stroke="#2a2a2a" stroke-width="0.8">0.2</text>
<text x="0" y="0" font-size="56" text-anchor="middle" fill="#2a2a2a" font-family='"Liberation Sans", sans-serif' transform="translate(252.2 229.95) rotate(-90) scale(0.1 0.11)" stroke="#2a2a2a" stroke-width="0.8">0.4</text>
<text x="0" y="0" font-size="56" text-anchor="middle" fill="#2a2a2a" font-family='"Liberation Sans", sans-serif' transform="translate(252.2 213.25) rotate(-90) scale(0.1 0.11)" stroke="#2a2a2a" stroke-width="0.8">0.6</text>
<text x="0" y="0" font-size="56" text-anchor="middle" fill="#2a2a2a" font-family='"Liberation Sans", sans-serif' transform="translate(252.2 196.54) rotate(-90) scale(0.1 0.11)" stroke="#2a2a2a" stroke-width="0.8">0.8</text>
<text x="0" y="0" font-size="56" text-anchor="middle" fill="#2a2a2a" font-family='"Liberation Sans", sans-serif' transform="translate(252.2 179.84) rotate(-90) scale(0.1 0.11)" stroke="#2a2a2a" stroke-width="0.8">1.0</text>
<text x="0" y="0" font-size="52" text-anchor="middle" fill="#2a2a2a" font-family='"Liberation Sans", sans-serif' transform="translate(245 221.6) rotate(-90) scale(0.1 0.11)" stroke="#2a2a2a" stroke-width="0.8">Percent survival</text>
<text x="0" y="0" font-size="45" text-anchor="middle" fill="#2a2a2a" font-family='"Liberation Sans", sans-serif' transform="translate(256.4 275.4) scale(0.1 0.11)" stroke="#2a2a2a" stroke-width="0.8">0</text>
<text x="0" y="0" font-size="45" text-anchor="middle" fill="#2a2a2a" font-family='"Liberation Sans", sans-serif' transform="translate(280.42 275.4) scale(0.1 0.11)" stroke="#2a2a2a" stroke-width="0.8">50</text>
<text x="0" y="0" font-size="45" text-anchor="middle" fill="#2a2a2a" font-family='"Liberation Sans", sans-serif' transform="translate(304.43 275.4) scale(0.1 0.11)" stroke="#2a2a2a" stroke-width="0.8">100</text>
<text x="0" y="0" font-size="45" text-anchor="middle" fill="#2a2a2a" font-family='"Liberation Sans", sans-serif' transform="translate(328.45 275.4) scale(0.1 0.11)" stroke="#2a2a2a" stroke-width="0.8">150</text>
<text x="0" y="0" font-size="46" text-anchor="middle" fill="#2a2a2a" font-family='"Liberation Sans", sans-serif' transform="translate(303.55 282.1) scale(0.1 0.11)" stroke="#2a2a2a" stroke-width="0.8">Months</text>
<text x="0" y="0" font-size="56" text-anchor="middle" fill="#2a2a2a" font-family='"Liberation Sans", sans-serif' transform="translate(303.95 174.8) scale(0.1 0.12)" stroke="#2a2a2a" stroke-width="0.8">Overall Survival</text>
<text x="0" y="0" font-size="44" text-anchor="start" fill="#2a2a2a" font-family='"Liberation Sans", sans-serif' transform="translate(305.84 182.55) scale(0.1 0.11)" stroke="#2a2a2a" stroke-width="0.8">Low HSP90B1 Group</text>
<text x="0" y="0" font-size="44" text-anchor="start" fill="#2a2a2a" font-family='"Liberation Sans", sans-serif' transform="translate(305.64 189.75) scale(0.1 0.11)" stroke="#2a2a2a" stroke-width="0.8">High HSP90B1 Group</text>
<text x="0" y="0" font-size="60" text-anchor="start" fill="#2a2a2a" font-family='"Liberation Sans", sans-serif' transform="translate(259.4 259.8) scale(0.1 0.11)" stroke="#2a2a2a" stroke-width="0.8">SARC</text>
<text x="0" y="0" font-size="44" text-anchor="start" fill="#2a2a2a" font-family='"Liberation Sans", sans-serif' transform="translate(259.9 264.7) scale(0.1 0.11)" stroke="#2a2a2a" stroke-width="0.8">Logrank p=0.034</text>
<text x="0" y="0" font-size="56" text-anchor="middle" fill="#2a2a2a" font-family='"Liberation Sans", sans-serif' transform="translate(28.9 416.23) rotate(-90) scale(0.09 0.11)" stroke="#2a2a2a" stroke-width="0.8">0.0</text>
<text x="0" y="0" font-size="56" text-anchor="middle" fill="#2a2a2a" font-family='"Liberation Sans", sans-serif' transform="translate(28.9 399.86) rotate(-90) scale(0.09 0.11)" stroke="#2a2a2a" stroke-width="0.8">0.2</text>
<text x="0" y="0" font-size="56" text-anchor="middle" fill="#2a2a2a" font-family='"Liberation Sans", sans-serif' transform="translate(28.9 383.49) rotate(-90) scale(0.09 0.11)" stroke="#2a2a2a" stroke-width="0.8">0.4</text>
<text x="0" y="0" font-size="56" text-anchor="middle" fill="#2a2a2a" font-family='"Liberation Sans", sans-serif' transform="translate(28.9 367.11) rotate(-90) scale(0.09 0.11)" stroke="#2a2a2a" stroke-width="0.8">0.6</text>
<text x="0" y="0" font-size="56" text-anchor="middle" fill="#2a2a2a" font-family='"Liberation Sans", sans-serif' transform="translate(28.9 350.74) rotate(-90) scale(0.09 0.11)" stroke="#2a2a2a" stroke-width="0.8">0.8</text>
<text x="0" y="0" font-size="56" text-anchor="middle" fill="#2a2a2a" font-family='"Liberation Sans", sans-serif' transform="translate(28.9 334.37) rotate(-90) scale(0.09 0.11)" stroke="#2a2a2a" stroke-width="0.8">1.0</text>
<text x="0" y="0" font-size="52" text-anchor="middle" fill="#2a2a2a" font-family='"Liberation Sans", sans-serif' transform="translate(22 375.3) rotate(-90) scale(0.1 0.11)" stroke="#2a2a2a" stroke-width="0.8">Percent survival</text>
<text x="0" y="0" font-size="45" text-anchor="middle" fill="#2a2a2a" font-family='"Liberation Sans", sans-serif' transform="translate(33.9 428) scale(0.1 0.11)" stroke="#2a2a2a" stroke-width="0.8">0</text>
<text x="0" y="0" font-size="45" text-anchor="middle" fill="#2a2a2a" font-family='"Liberation Sans", sans-serif' transform="translate(62.08 428) scale(0.1 0.11)" stroke="#2a2a2a" stroke-width="0.8">50</text>
<text x="0" y="0" font-size="45" text-anchor="middle" fill="#2a2a2a" font-family='"Liberation Sans", sans-serif' transform="translate(90.27 428) scale(0.1 0.11)" stroke="#2a2a2a" stroke-width="0.8">100</text>
<text x="0" y="0" font-size="45" text-anchor="middle" fill="#2a2a2a" font-family='"Liberation Sans", sans-serif' transform="translate(118.45 428) scale(0.1 0.11)" stroke="#2a2a2a" stroke-width="0.8">150</text>
<text x="0" y="0" font-size="46" text-anchor="middle" fill="#2a2a2a" font-family='"Liberation Sans", sans-serif' transform="translate(79.1 435) scale(0.1 0.11)" stroke="#2a2a2a" stroke-width="0.8">Months</text>
<text x="0" y="0" font-size="56" text-anchor="middle" fill="#2a2a2a" font-family='"Liberation Sans", sans-serif' transform="translate(79.5 329.8) scale(0.1 0.12)" stroke="#2a2a2a" stroke-width="0.8">Disease Free Survival</text>
<text x="0" y="0" font-size="44" text-anchor="start" fill="#2a2a2a" font-family='"Liberation Sans", sans-serif' transform="translate(79.44 338.25) scale(0.1 0.11)" stroke="#2a2a2a" stroke-width="0.8">Low HSP90B1 Group</text>
<text x="0" y="0" font-size="44" text-anchor="start" fill="#2a2a2a" font-family='"Liberation Sans", sans-serif' transform="translate(79.24 345.55) scale(0.1 0.11)" stroke="#2a2a2a" stroke-width="0.8">High HSP90B1 Group</text>
<text x="0" y="0" font-size="60" text-anchor="start" fill="#2a2a2a" font-family='"Liberation Sans", sans-serif' transform="translate(39.3 409.2) scale(0.1 0.11)" stroke="#2a2a2a" stroke-width="0.8">ACC</text>
<text x="0" y="0" font-size="44" text-anchor="start" fill="#2a2a2a" font-family='"Liberation Sans", sans-serif' transform="translate(38 415.5) scale(0.1 0.11)" stroke="#2a2a2a" stroke-width="0.8">Logrank p=0.0022</text>
<text x="0" y="0" font-size="56" text-anchor="middle" fill="#2a2a2a" font-family='"Liberation Sans", sans-serif' transform="translate(140.3 416.03) rotate(-90) scale(0.09 0.11)" stroke="#2a2a2a" stroke-width="0.8">0.0</text>
<text x="0" y="0" font-size="56" text-anchor="middle" fill="#2a2a2a" font-family='"Liberation Sans", sans-serif' transform="translate(140.3 399.68) rotate(-90) scale(0.09 0.11)" stroke="#2a2a2a" stroke-width="0.8">0.2</text>
<text x="0" y="0" font-size="56" text-anchor="middle" fill="#2a2a2a" font-family='"Liberation Sans", sans-serif' transform="translate(140.3 383.33) rotate(-90) scale(0.09 0.11)" stroke="#2a2a2a" stroke-width="0.8">0.4</text>
<text x="0" y="0" font-size="56" text-anchor="middle" fill="#2a2a2a" font-family='"Liberation Sans", sans-serif' transform="translate(140.3 366.97) rotate(-90) scale(0.09 0.11)" stroke="#2a2a2a" stroke-width="0.8">0.6</text>
<text x="0" y="0" font-size="56" text-anchor="middle" fill="#2a2a2a" font-family='"Liberation Sans", sans-serif' transform="translate(140.3 350.62) rotate(-90) scale(0.09 0.11)" stroke="#2a2a2a" stroke-width="0.8">0.8</text>
<text x="0" y="0" font-size="56" text-anchor="middle" fill="#2a2a2a" font-family='"Liberation Sans", sans-serif' transform="translate(140.3 334.27) rotate(-90) scale(0.09 0.11)" stroke="#2a2a2a" stroke-width="0.8">1.0</text>
<text x="0" y="0" font-size="52" text-anchor="middle" fill="#2a2a2a" font-family='"Liberation Sans", sans-serif' transform="translate(133.1 375.15) rotate(-90) scale(0.1 0.11)" stroke="#2a2a2a" stroke-width="0.8">Percent survival</text>
<text x="0" y="0" font-size="45" text-anchor="middle" fill="#2a2a2a" font-family='"Liberation Sans", sans-serif' transform="translate(144.5 427.3) scale(0.1 0.11)" stroke="#2a2a2a" stroke-width="0.8">0</text>
<text x="0" y="0" font-size="45" text-anchor="middle" fill="#2a2a2a" font-family='"Liberation Sans", sans-serif' transform="translate(171.6 427.3) scale(0.1 0.11)" stroke="#2a2a2a" stroke-width="0.8">50</text>
<text x="0" y="0" font-size="45" text-anchor="middle" fill="#2a2a2a" font-family='"Liberation Sans", sans-serif' transform="translate(198.7 427.3) scale(0.1 0.11)" stroke="#2a2a2a" stroke-width="0.8">100</text>
<text x="0" y="0" font-size="45" text-anchor="middle" fill="#2a2a2a" font-family='"Liberation Sans", sans-serif' transform="translate(225.8 427.3) scale(0.1 0.11)" stroke="#2a2a2a" stroke-width="0.8">150</text>
<text x="0" y="0" font-size="46" text-anchor="middle" fill="#2a2a2a" font-family='"Liberation Sans", sans-serif' transform="translate(190.55 433.8) scale(0.1 0.11)" stroke="#2a2a2a" stroke-width="0.8">Months</text>
<text x="0" y="0" font-size="56" text-anchor="middle" fill="#2a2a2a" font-family='"Liberation Sans", sans-serif' transform="translate(190.95 329.7) scale(0.1 0.12)" stroke="#2a2a2a" stroke-width="0.8">Disease Free Survival</text>
<text x="0" y="0" font-size="44" text-anchor="start" fill="#2a2a2a" font-family='"Liberation Sans", sans-serif' transform="translate(191.74 337.55) scale(0.1 0.11)" stroke="#2a2a2a" stroke-width="0.8">Low HSP90B1 Group</text>
<text x="0" y="0" font-size="44" text-anchor="start" fill="#2a2a2a" font-family='"Liberation Sans", sans-serif' transform="translate(191.54 344.75) scale(0.1 0.11)" stroke="#2a2a2a" stroke-width="0.8">High HSP90B1 Group</text>
<text x="0" y="0" font-size="60" text-anchor="start" fill="#2a2a2a" font-family='"Liberation Sans", sans-serif' transform="translate(148.6 410.5) scale(0.1 0.11)" stroke="#2a2a2a" stroke-width="0.8">BLCA</text>
<text x="0" y="0" font-size="44" text-anchor="start" fill="#2a2a2a" font-family='"Liberation Sans", sans-serif' transform="translate(147.7 415.8) scale(0.1 0.11)" stroke="#2a2a2a" stroke-width="0.8">Logrank p=0.041</text>
<text x="0" y="0" font-size="56" text-anchor="middle" fill="#2a2a2a" font-family='"Liberation Sans", sans-serif' transform="translate(253.2 414.57) rotate(-90) scale(0.09 0.11)" stroke="#2a2a2a" stroke-width="0.8">0.0</text>
<text x="0" y="0" font-size="56" text-anchor="middle" fill="#2a2a2a" font-family='"Liberation Sans", sans-serif' transform="translate(253.2 398.42) rotate(-90) scale(0.09 0.11)" stroke="#2a2a2a" stroke-width="0.8">0.2</text>
<text x="0" y="0" font-size="56" text-anchor="middle" fill="#2a2a2a" font-family='"Liberation Sans", sans-serif' transform="translate(253.2 382.27) rotate(-90) scale(0.09 0.11)" stroke="#2a2a2a" stroke-width="0.8">0.4</text>
<text x="0" y="0" font-size="56" text-anchor="middle" fill="#2a2a2a" font-family='"Liberation Sans", sans-serif' transform="translate(253.2 366.13) rotate(-90) scale(0.09 0.11)" stroke="#2a2a2a" stroke-width="0.8">0.6</text>
<text x="0" y="0" font-size="56" text-anchor="middle" fill="#2a2a2a" font-family='"Liberation Sans", sans-serif' transform="translate(253.2 349.98) rotate(-90) scale(0.09 0.11)" stroke="#2a2a2a" stroke-width="0.8">0.8</text>
<text x="0" y="0" font-size="56" text-anchor="middle" fill="#2a2a2a" font-family='"Liberation Sans", sans-serif' transform="translate(253.2 333.83) rotate(-90) scale(0.09 0.11)" stroke="#2a2a2a" stroke-width="0.8">1.0</text>
<text x="0" y="0" font-size="52" text-anchor="middle" fill="#2a2a2a" font-family='"Liberation Sans", sans-serif' transform="translate(246 374.2) rotate(-90) scale(0.1 0.11)" stroke="#2a2a2a" stroke-width="0.8">Percent survival</text>
<text x="0" y="0" font-size="45" text-anchor="middle" fill="#2a2a2a" font-family='"Liberation Sans", sans-serif' transform="translate(257.4 424.3) scale(0.1 0.11)" stroke="#2a2a2a" stroke-width="0.8">0</text>
<text x="0" y="0" font-size="45" text-anchor="middle" fill="#2a2a2a" font-family='"Liberation Sans", sans-serif' transform="translate(271.13 424.3) scale(0.1 0.11)" stroke="#2a2a2a" stroke-width="0.8">10</text>
<text x="0" y="0" font-size="45" text-anchor="middle" fill="#2a2a2a" font-family='"Liberation Sans", sans-serif' transform="translate(284.85 424.3) scale(0.1 0.11)" stroke="#2a2a2a" stroke-width="0.8">20</text>
<text x="0" y="0" font-size="45" text-anchor="middle" fill="#2a2a2a" font-family='"Liberation Sans", sans-serif' transform="translate(298.58 424.3) scale(0.1 0.11)" stroke="#2a2a2a" stroke-width="0.8">30</text>
<text x="0" y="0" font-size="45" text-anchor="middle" fill="#2a2a2a" font-family='"Liberation Sans", sans-serif' transform="translate(312.3 424.3) scale(0.1 0.11)" stroke="#2a2a2a" stroke-width="0.8">40</text>
<text x="0" y="0" font-size="45" text-anchor="middle" fill="#2a2a2a" font-family='"Liberation Sans", sans-serif' transform="translate(326.03 424.3) scale(0.1 0.11)" stroke="#2a2a2a" stroke-width="0.8">50</text>
<text x="0" y="0" font-size="45" text-anchor="middle" fill="#2a2a2a" font-family='"Liberation Sans", sans-serif' transform="translate(339.76 424.3) scale(0.1 0.11)" stroke="#2a2a2a" stroke-width="0.8">60</text>
<text x="0" y="0" font-size="46" text-anchor="middle" fill="#2a2a2a" font-family='"Liberation Sans", sans-serif' transform="translate(303.6 431.5) scale(0.1 0.11)" stroke="#2a2a2a" stroke-width="0.8">Months</text>
<text x="0" y="0" font-size="58.5" text-anchor="middle" fill="#2a2a2a" font-family='"Liberation Sans", sans-serif' transform="translate(304 329.3) scale(0.1 0.12)" stroke="#2a2a2a" stroke-width="0.8">Disease Free Survival</text>
<text x="0" y="0" font-size="44" text-anchor="start" fill="#2a2a2a" font-family='"Liberation Sans", sans-serif' transform="translate(304.94 338.25) scale(0.1 0.11)" stroke="#2a2a2a" stroke-width="0.8">Low HSP90B1 Group</text>
<text x="0" y="0" font-size="44" text-anchor="start" fill="#2a2a2a" font-family='"Liberation Sans", sans-serif' transform="translate(304.74 345.25) scale(0.1 0.11)" stroke="#2a2a2a" stroke-width="0.8">High HSP90B1 Group</text>
<text x="0" y="0" font-size="60" text-anchor="start" fill="#2a2a2a" font-family='"Liberation Sans", sans-serif' transform="translate(263.1 410) scale(0.1 0.11)" stroke="#2a2a2a" stroke-width="0.8">CHOL</text>
<text x="0" y="0" font-size="44" text-anchor="start" fill="#2a2a2a" font-family='"Liberation Sans", sans-serif' transform="translate(261.8 415.6) scale(0.1 0.11)" stroke="#2a2a2a" stroke-width="0.8">Logrank p=0.021</text>
<text x="0" y="0" font-size="56" text-anchor="middle" fill="#2a2a2a" font-family='"Liberation Sans", sans-serif' transform="translate(363.2 414.58) rotate(-90) scale(0.09 0.11)" stroke="#2a2a2a" stroke-width="0.8">0.0</text>
<text x="0" y="0" font-size="56" text-anchor="middle" fill="#2a2a2a" font-family='"Liberation Sans", sans-serif' transform="translate(363.2 398.47) rotate(-90) scale(0.09 0.11)" stroke="#2a2a2a" stroke-width="0.8">0.2</text>
<text x="0" y="0" font-size="56" text-anchor="middle" fill="#2a2a2a" font-family='"Liberation Sans", sans-serif' transform="translate(363.2 382.36) rotate(-90) scale(0.09 0.11)" stroke="#2a2a2a" stroke-width="0.8">0.4</text>
<text x="0" y="0" font-size="56" text-anchor="middle" fill="#2a2a2a" font-family='"Liberation Sans", sans-serif' transform="translate(363.2 366.24) rotate(-90) scale(0.09 0.11)" stroke="#2a2a2a" stroke-width="0.8">0.6</text>
<text x="0" y="0" font-size="56" text-anchor="middle" fill="#2a2a2a" font-family='"Liberation Sans", sans-serif' transform="translate(363.2 350.13) rotate(-90) scale(0.09 0.11)" stroke="#2a2a2a" stroke-width="0.8">0.8</text>
<text x="0" y="0" font-size="56" text-anchor="middle" fill="#2a2a2a" font-family='"Liberation Sans", sans-serif' transform="translate(363.2 334.02) rotate(-90) scale(0.09 0.11)" stroke="#2a2a2a" stroke-width="0.8">1.0</text>
<text x="0" y="0" font-size="52" text-anchor="middle" fill="#2a2a2a" font-family='"Liberation Sans", sans-serif' transform="translate(356 374.3) rotate(-90) scale(0.1 0.11)" stroke="#2a2a2a" stroke-width="0.8">Percent survival</text>
<text x="0" y="0" font-size="45" text-anchor="middle" fill="#2a2a2a" font-family='"Liberation Sans", sans-serif' transform="translate(367.4 425) scale(0.1 0.11)" stroke="#2a2a2a" stroke-width="0.8">0</text>
<text x="0" y="0" font-size="45" text-anchor="middle" fill="#2a2a2a" font-family='"Liberation Sans", sans-serif' transform="translate(380.38 425) scale(0.1 0.11)" stroke="#2a2a2a" stroke-width="0.8">20</text>
<text x="0" y="0" font-size="45" text-anchor="middle" fill="#2a2a2a" font-family='"Liberation Sans", sans-serif' transform="translate(393.37 425) scale(0.1 0.11)" stroke="#2a2a2a" stroke-width="0.8">40</text>
<text x="0" y="0" font-size="45" text-anchor="middle" fill="#2a2a2a" font-family='"Liberation Sans", sans-serif' transform="translate(406.35 425) scale(0.1 0.11)" stroke="#2a2a2a" stroke-width="0.8">60</text>
<text x="0" y="0" font-size="45" text-anchor="middle" fill="#2a2a2a" font-family='"Liberation Sans", sans-serif' transform="translate(419.33 425) scale(0.1 0.11)" stroke="#2a2a2a" stroke-width="0.8">80</text>
<text x="0" y="0" font-size="45" text-anchor="middle" fill="#2a2a2a" font-family='"Liberation Sans", sans-serif' transform="translate(432.31 425) scale(0.1 0.11)" stroke="#2a2a2a" stroke-width="0.8">100</text>
<text x="0" y="0" font-size="45" text-anchor="middle" fill="#2a2a2a" font-family='"Liberation Sans", sans-serif' transform="translate(445.3 425) scale(0.1 0.11)" stroke="#2a2a2a" stroke-width="0.8">120</text>
<text x="0" y="0" font-size="45" text-anchor="middle" fill="#2a2a2a" font-family='"Liberation Sans", sans-serif' transform="translate(458.28 425) scale(0.1 0.11)" stroke="#2a2a2a" stroke-width="0.8">140</text>
<text x="0" y="0" font-size="46" text-anchor="middle" fill="#2a2a2a" font-family='"Liberation Sans", sans-serif' transform="translate(408.9 431.8) scale(0.1 0.11)" stroke="#2a2a2a" stroke-width="0.8">Months</text>
<text x="0" y="0" font-size="56" text-anchor="middle" fill="#2a2a2a" font-family='"Liberation Sans", sans-serif' transform="translate(413.1 329.4) scale(0.1 0.12)" stroke="#2a2a2a" stroke-width="0.8">Disease Free Survival</text>
<text x="0" y="0" font-size="44" text-anchor="start" fill="#2a2a2a" font-family='"Liberation Sans", sans-serif' transform="translate(412.54 338.15) scale(0.1 0.11)" stroke="#2a2a2a" stroke-width="0.8">Low HSP90B1 Group</text>
<text x="0" y="0" font-size="44" text-anchor="start" fill="#2a2a2a" font-family='"Liberation Sans", sans-serif' transform="translate(412.34 345.25) scale(0.1 0.11)" stroke="#2a2a2a" stroke-width="0.8">High HSP90B1 Group</text>
<text x="0" y="0" font-size="60" text-anchor="start" fill="#2a2a2a" font-family='"Liberation Sans", sans-serif' transform="translate(373.1 411.5) scale(0.1 0.11)" stroke="#2a2a2a" stroke-width="0.8">KIRC</text>
<text x="0" y="0" font-size="44" text-anchor="start" fill="#2a2a2a" font-family='"Liberation Sans", sans-serif' transform="translate(370.2 415.9) scale(0.1 0.11)" stroke="#2a2a2a" stroke-width="0.8">Logrank p=0.02</text>
<text x="0" y="0" font-size="56" text-anchor="middle" fill="#2a2a2a" font-family='"Liberation Sans", sans-serif' transform="translate(28.8 529.49) rotate(-90) scale(0.09 0.11)" stroke="#2a2a2a" stroke-width="0.8">0.0</text>
<text x="0" y="0" font-size="56" text-anchor="middle" fill="#2a2a2a" font-family='"Liberation Sans", sans-serif' transform="translate(28.8 512.93) rotate(-90) scale(0.09 0.11)" stroke="#2a2a2a" stroke-width="0.8">0.2</text>
<text x="0" y="0" font-size="56" text-anchor="middle" fill="#2a2a2a" font-family='"Liberation Sans", sans-serif' transform="translate(28.8 496.38) rotate(-90) scale(0.09 0.11)" stroke="#2a2a2a" stroke-width="0.8">0.4</text>
<text x="0" y="0" font-size="56" text-anchor="middle" fill="#2a2a2a" font-family='"Liberation Sans", sans-serif' transform="translate(28.8 479.82) rotate(-90) scale(0.09 0.11)" stroke="#2a2a2a" stroke-width="0.8">0.6</text>
<text x="0" y="0" font-size="56" text-anchor="middle" fill="#2a2a2a" font-family='"Liberation Sans", sans-serif' transform="translate(28.8 463.27) rotate(-90) scale(0.09 0.11)" stroke="#2a2a2a" stroke-width="0.8">0.8</text>
<text x="0" y="0" font-size="56" text-anchor="middle" fill="#2a2a2a" font-family='"Liberation Sans", sans-serif' transform="translate(28.8 446.71) rotate(-90) scale(0.09 0.11)" stroke="#2a2a2a" stroke-width="0.8">1.0</text>
<text x="0" y="0" font-size="52" text-anchor="middle" fill="#2a2a2a" font-family='"Liberation Sans", sans-serif' transform="translate(21.6 488.1) rotate(-90) scale(0.1 0.11)" stroke="#2a2a2a" stroke-width="0.8">Percent survival</text>
<text x="0" y="0" font-size="45" text-anchor="middle" fill="#2a2a2a" font-family='"Liberation Sans", sans-serif' transform="translate(33 539.1) scale(0.1 0.11)" stroke="#2a2a2a" stroke-width="0.8">0</text>
<text x="0" y="0" font-size="45" text-anchor="middle" fill="#2a2a2a" font-family='"Liberation Sans", sans-serif' transform="translate(55.45 539.1) scale(0.1 0.11)" stroke="#2a2a2a" stroke-width="0.8">50</text>
<text x="0" y="0" font-size="45" text-anchor="middle" fill="#2a2a2a" font-family='"Liberation Sans", sans-serif' transform="translate(77.9 539.1) scale(0.1 0.11)" stroke="#2a2a2a" stroke-width="0.8">100</text>
<text x="0" y="0" font-size="45" text-anchor="middle" fill="#2a2a2a" font-family='"Liberation Sans", sans-serif' transform="translate(100.35 539.1) scale(0.1 0.11)" stroke="#2a2a2a" stroke-width="0.8">150</text>
<text x="0" y="0" font-size="45" text-anchor="middle" fill="#2a2a2a" font-family='"Liberation Sans", sans-serif' transform="translate(122.81 539.1) scale(0.1 0.11)" stroke="#2a2a2a" stroke-width="0.8">200</text>
<text x="0" y="0" font-size="46" text-anchor="middle" fill="#2a2a2a" font-family='"Liberation Sans", sans-serif' transform="translate(78.85 545.7) scale(0.1 0.11)" stroke="#2a2a2a" stroke-width="0.8">Months</text>
<text x="0" y="0" font-size="56" text-anchor="middle" fill="#2a2a2a" font-family='"Liberation Sans", sans-serif' transform="translate(79.25 442.1) scale(0.1 0.12)" stroke="#2a2a2a" stroke-width="0.8">Disease Free Survival</text>
<text x="0" y="0" font-size="44" text-anchor="start" fill="#2a2a2a" font-family='"Liberation Sans", sans-serif' transform="translate(79.84 450.05) scale(0.1 0.11)" stroke="#2a2a2a" stroke-width="0.8">Low HSP90B1 Group</text>
<text x="0" y="0" font-size="44" text-anchor="start" fill="#2a2a2a" font-family='"Liberation Sans", sans-serif' transform="translate(79.64 457.35) scale(0.1 0.11)" stroke="#2a2a2a" stroke-width="0.8">High HSP90B1 Group</text>
<text x="0" y="0" font-size="60" text-anchor="start" fill="#2a2a2a" font-family='"Liberation Sans", sans-serif' transform="translate(39 523.4) scale(0.1 0.11)" stroke="#2a2a2a" stroke-width="0.8">KIRP</text>
<text x="0" y="0" font-size="44" text-anchor="start" fill="#2a2a2a" font-family='"Liberation Sans", sans-serif' transform="translate(37.1 529.1) scale(0.1 0.11)" stroke="#2a2a2a" stroke-width="0.8">Logrank p=0.0054</text>
<text x="0" y="0" font-size="56" text-anchor="middle" fill="#2a2a2a" font-family='"Liberation Sans", sans-serif' transform="translate(138.7 528.7) rotate(-90) scale(0.09 0.11)" stroke="#2a2a2a" stroke-width="0.8">0.0</text>
<text x="0" y="0" font-size="56" text-anchor="middle" fill="#2a2a2a" font-family='"Liberation Sans", sans-serif' transform="translate(138.7 512.22) rotate(-90) scale(0.09 0.11)" stroke="#2a2a2a" stroke-width="0.8">0.2</text>
<text x="0" y="0" font-size="56" text-anchor="middle" fill="#2a2a2a" font-family='"Liberation Sans", sans-serif' transform="translate(138.7 495.74) rotate(-90) scale(0.09 0.11)" stroke="#2a2a2a" stroke-width="0.8">0.4</text>
<text x="0" y="0" font-size="56" text-anchor="middle" fill="#2a2a2a" font-family='"Liberation Sans", sans-serif' transform="translate(138.7 479.26) rotate(-90) scale(0.09 0.11)" stroke="#2a2a2a" stroke-width="0.8">0.6</text>
<text x="0" y="0" font-size="56" text-anchor="middle" fill="#2a2a2a" font-family='"Liberation Sans", sans-serif' transform="translate(138.7 462.78) rotate(-90) scale(0.09 0.11)" stroke="#2a2a2a" stroke-width="0.8">0.8</text>
<text x="0" y="0" font-size="56" text-anchor="middle" fill="#2a2a2a" font-family='"Liberation Sans", sans-serif' transform="translate(138.7 446.3) rotate(-90) scale(0.09 0.11)" stroke="#2a2a2a" stroke-width="0.8">1.0</text>
<text x="0" y="0" font-size="52" text-anchor="middle" fill="#2a2a2a" font-family='"Liberation Sans", sans-serif' transform="translate(131.5 487.5) rotate(-90) scale(0.1 0.11)" stroke="#2a2a2a" stroke-width="0.8">Percent survival</text>
<text x="0" y="0" font-size="45" text-anchor="middle" fill="#2a2a2a" font-family='"Liberation Sans", sans-serif' transform="translate(142.9 539.3) scale(0.1 0.11)" stroke="#2a2a2a" stroke-width="0.8">0</text>
<text x="0" y="0" font-size="45" text-anchor="middle" fill="#2a2a2a" font-family='"Liberation Sans", sans-serif' transform="translate(162.04 539.3) scale(0.1 0.11)" stroke="#2a2a2a" stroke-width="0.8">50</text>
<text x="0" y="0" font-size="45" text-anchor="middle" fill="#2a2a2a" font-family='"Liberation Sans", sans-serif' transform="translate(181.19 539.3) scale(0.1 0.11)" stroke="#2a2a2a" stroke-width="0.8">100</text>
<text x="0" y="0" font-size="45" text-anchor="middle" fill="#2a2a2a" font-family='"Liberation Sans", sans-serif' transform="translate(200.33 539.3) scale(0.1 0.11)" stroke="#2a2a2a" stroke-width="0.8">150</text>
<text x="0" y="0" font-size="45" text-anchor="middle" fill="#2a2a2a" font-family='"Liberation Sans", sans-serif' transform="translate(219.47 539.3) scale(0.1 0.11)" stroke="#2a2a2a" stroke-width="0.8">200</text>
<text x="0" y="0" font-size="45" text-anchor="middle" fill="#2a2a2a" font-family='"Liberation Sans", sans-serif' transform="translate(238.62 539.3) scale(0.1 0.11)" stroke="#2a2a2a" stroke-width="0.8">250</text>
<text x="0" y="0" font-size="46" text-anchor="middle" fill="#2a2a2a" font-family='"Liberation Sans", sans-serif' transform="translate(190.55 546) scale(0.1 0.11)" stroke="#2a2a2a" stroke-width="0.8">Months</text>
<text x="0" y="0" font-size="56" text-anchor="middle" fill="#2a2a2a" font-family='"Liberation Sans", sans-serif' transform="translate(190.95 441.7) scale(0.1 0.12)" stroke="#2a2a2a" stroke-width="0.8">Disease Free Survival</text>
<text x="0" y="0" font-size="44" text-anchor="start" fill="#2a2a2a" font-family='"Liberation Sans", sans-serif' transform="translate(193.34 449.55) scale(0.1 0.11)" stroke="#2a2a2a" stroke-width="0.8">Low HSP90B1 Group</text>
<text x="0" y="0" font-size="44" text-anchor="start" fill="#2a2a2a" font-family='"Liberation Sans", sans-serif' transform="translate(193.14 456.75) scale(0.1 0.11)" stroke="#2a2a2a" stroke-width="0.8">High HSP90B1 Group</text>
<text x="0" y="0" font-size="60" text-anchor="start" fill="#2a2a2a" font-family='"Liberation Sans", sans-serif' transform="translate(147.3 523.9) scale(0.1 0.11)" stroke="#2a2a2a" stroke-width="0.8">LUAD</text>
<text x="0" y="0" font-size="44" text-anchor="start" fill="#2a2a2a" font-family='"Liberation Sans", sans-serif' transform="translate(146.4 529.6) scale(0.1 0.11)" stroke="#2a2a2a" stroke-width="0.8">Logrank p=0.038</text>
<text x="0" y="0" font-size="56" text-anchor="middle" fill="#2a2a2a" font-family='"Liberation Sans", sans-serif' transform="translate(254.1 528.33) rotate(-90) scale(0.09 0.11)" stroke="#2a2a2a" stroke-width="0.8">0.0</text>
<text x="0" y="0" font-size="56" text-anchor="middle" fill="#2a2a2a" font-family='"Liberation Sans", sans-serif' transform="translate(254.1 512) rotate(-90) scale(0.09 0.11)" stroke="#2a2a2a" stroke-width="0.8">0.2</text>
<text x="0" y="0" font-size="56" text-anchor="middle" fill="#2a2a2a" font-family='"Liberation Sans", sans-serif' transform="translate(254.1 495.67) rotate(-90) scale(0.09 0.11)" stroke="#2a2a2a" stroke-width="0.8">0.4</text>
<text x="0" y="0" font-size="56" text-anchor="middle" fill="#2a2a2a" font-family='"Liberation Sans", sans-serif' transform="translate(254.1 479.33) rotate(-90) scale(0.09 0.11)" stroke="#2a2a2a" stroke-width="0.8">0.6</text>
<text x="0" y="0" font-size="56" text-anchor="middle" fill="#2a2a2a" font-family='"Liberation Sans", sans-serif' transform="translate(254.1 463) rotate(-90) scale(0.09 0.11)" stroke="#2a2a2a" stroke-width="0.8">0.8</text>
<text x="0" y="0" font-size="56" text-anchor="middle" fill="#2a2a2a" font-family='"Liberation Sans", sans-serif' transform="translate(254.1 446.67) rotate(-90) scale(0.09 0.11)" stroke="#2a2a2a" stroke-width="0.8">1.0</text>
<text x="0" y="0" font-size="52" text-anchor="middle" fill="#2a2a2a" font-family='"Liberation Sans", sans-serif' transform="translate(246.9 487.5) rotate(-90) scale(0.1 0.11)" stroke="#2a2a2a" stroke-width="0.8">Percent survival</text>
<text x="0" y="0" font-size="45" text-anchor="middle" fill="#2a2a2a" font-family='"Liberation Sans", sans-serif' transform="translate(258.3 538.3) scale(0.1 0.11)" stroke="#2a2a2a" stroke-width="0.8">0</text>
<text x="0" y="0" font-size="45" text-anchor="middle" fill="#2a2a2a" font-family='"Liberation Sans", sans-serif' transform="translate(283.85 538.3) scale(0.1 0.11)" stroke="#2a2a2a" stroke-width="0.8">50</text>
<text x="0" y="0" font-size="45" text-anchor="middle" fill="#2a2a2a" font-family='"Liberation Sans", sans-serif' transform="translate(309.4 538.3) scale(0.1 0.11)" stroke="#2a2a2a" stroke-width="0.8">100</text>
<text x="0" y="0" font-size="45" text-anchor="middle" fill="#2a2a2a" font-family='"Liberation Sans", sans-serif' transform="translate(334.94 538.3) scale(0.1 0.11)" stroke="#2a2a2a" stroke-width="0.8">150</text>
<text x="0" y="0" font-size="46" text-anchor="middle" fill="#2a2a2a" font-family='"Liberation Sans", sans-serif' transform="translate(304.55 545.6) scale(0.1 0.11)" stroke="#2a2a2a" stroke-width="0.8">Months</text>
<text x="0" y="0" font-size="56" text-anchor="middle" fill="#2a2a2a" font-family='"Liberation Sans", sans-serif' transform="translate(304.95 442.1) scale(0.1 0.12)" stroke="#2a2a2a" stroke-width="0.8">Disease Free Survival</text>
<text x="0" y="0" font-size="44" text-anchor="start" fill="#2a2a2a" font-family='"Liberation Sans", sans-serif' transform="translate(305.94 448.65) scale(0.1 0.11)" stroke="#2a2a2a" stroke-width="0.8">Low HSP90B1 Group</text>
<text x="0" y="0" font-size="44" text-anchor="start" fill="#2a2a2a" font-family='"Liberation Sans", sans-serif' transform="translate(305.74 456.15) scale(0.1 0.11)" stroke="#2a2a2a" stroke-width="0.8">High HSP90B1 Group</text>
<text x="0" y="0" font-size="60" text-anchor="start" fill="#2a2a2a" font-family='"Liberation Sans", sans-serif' transform="translate(263.6 523.6) scale(0.1 0.11)" stroke="#2a2a2a" stroke-width="0.8">LUSC</text>
<text x="0" y="0" font-size="44" text-anchor="start" fill="#2a2a2a" font-family='"Liberation Sans", sans-serif' transform="translate(263 529.1) scale(0.1 0.11)" stroke="#2a2a2a" stroke-width="0.8">Logrank p=0.047</text>
<text x="0" y="0" font-size="56" text-anchor="middle" fill="#2a2a2a" font-family='"Liberation Sans", sans-serif' transform="translate(364.8 527.31) rotate(-90) scale(0.09 0.11)" stroke="#2a2a2a" stroke-width="0.8">0.0</text>
<text x="0" y="0" font-size="56" text-anchor="middle" fill="#2a2a2a" font-family='"Liberation Sans", sans-serif' transform="translate(364.8 511.39) rotate(-90) scale(0.09 0.11)" stroke="#2a2a2a" stroke-width="0.8">0.2</text>
<text x="0" y="0" font-size="56" text-anchor="middle" fill="#2a2a2a" font-family='"Liberation Sans", sans-serif' transform="translate(364.8 495.46) rotate(-90) scale(0.09 0.11)" stroke="#2a2a2a" stroke-width="0.8">0.4</text>
<text x="0" y="0" font-size="56" text-anchor="middle" fill="#2a2a2a" font-family='"Liberation Sans", sans-serif' transform="translate(364.8 479.54) rotate(-90) scale(0.09 0.11)" stroke="#2a2a2a" stroke-width="0.8">0.6</text>
<text x="0" y="0" font-size="56" text-anchor="middle" fill="#2a2a2a" font-family='"Liberation Sans", sans-serif' transform="translate(364.8 463.61) rotate(-90) scale(0.09 0.11)" stroke="#2a2a2a" stroke-width="0.8">0.8</text>
<text x="0" y="0" font-size="56" text-anchor="middle" fill="#2a2a2a" font-family='"Liberation Sans", sans-serif' transform="translate(364.8 447.69) rotate(-90) scale(0.09 0.11)" stroke="#2a2a2a" stroke-width="0.8">1.0</text>
<text x="0" y="0" font-size="52" text-anchor="middle" fill="#2a2a2a" font-family='"Liberation Sans", sans-serif' transform="translate(357.6 487.5) rotate(-90) scale(0.1 0.11)" stroke="#2a2a2a" stroke-width="0.8">Percent survival</text>
<text x="0" y="0" font-size="45" text-anchor="middle" fill="#2a2a2a" font-family='"Liberation Sans", sans-serif' transform="translate(369 537.2) scale(0.1 0.11)" stroke="#2a2a2a" stroke-width="0.8">0</text>
<text x="0" y="0" font-size="45" text-anchor="middle" fill="#2a2a2a" font-family='"Liberation Sans", sans-serif' transform="translate(390.38 537.2) scale(0.1 0.11)" stroke="#2a2a2a" stroke-width="0.8">20</text>
<text x="0" y="0" font-size="45" text-anchor="middle" fill="#2a2a2a" font-family='"Liberation Sans", sans-serif' transform="translate(411.76 537.2) scale(0.1 0.11)" stroke="#2a2a2a" stroke-width="0.8">40</text>
<text x="0" y="0" font-size="45" text-anchor="middle" fill="#2a2a2a" font-family='"Liberation Sans", sans-serif' transform="translate(433.14 537.2) scale(0.1 0.11)" stroke="#2a2a2a" stroke-width="0.8">60</text>
<text x="0" y="0" font-size="45" text-anchor="middle" fill="#2a2a2a" font-family='"Liberation Sans", sans-serif' transform="translate(454.51 537.2) scale(0.1 0.11)" stroke="#2a2a2a" stroke-width="0.8">80</text>
<text x="0" y="0" font-size="46" text-anchor="middle" fill="#2a2a2a" font-family='"Liberation Sans", sans-serif' transform="translate(414.35 544) scale(0.1 0.11)" stroke="#2a2a2a" stroke-width="0.8">Months</text>
<text x="0" y="0" font-size="59" text-anchor="middle" fill="#2a2a2a" font-family='"Liberation Sans", sans-serif' transform="translate(414.75 443.4) scale(0.1 0.12)" stroke="#2a2a2a" stroke-width="0.8">Disease Free Survival</text>
<text x="0" y="0" font-size="44" text-anchor="start" fill="#2a2a2a" font-family='"Liberation Sans", sans-serif' transform="translate(414.84 450.05) scale(0.1 0.11)" stroke="#2a2a2a" stroke-width="0.8">Low HSP90B1 Group</text>
<text x="0" y="0" font-size="44" text-anchor="start" fill="#2a2a2a" font-family='"Liberation Sans", sans-serif' transform="translate(414.64 457.35) scale(0.1 0.11)" stroke="#2a2a2a" stroke-width="0.8">High HSP90B1 Group</text>
<text x="0" y="0" font-size="60" text-anchor="start" fill="#2a2a2a" font-family='"Liberation Sans", sans-serif' transform="translate(373.8 522.2) scale(0.1 0.11)" stroke="#2a2a2a" stroke-width="0.8">UVM</text>
<text x="0" y="0" font-size="44" text-anchor="start" fill="#2a2a2a" font-family='"Liberation Sans", sans-serif' transform="translate(373 527.4) scale(0.1 0.11)" stroke="#2a2a2a" stroke-width="0.8">Logrank p=0.024</text>
</g>
</svg></body></html>
